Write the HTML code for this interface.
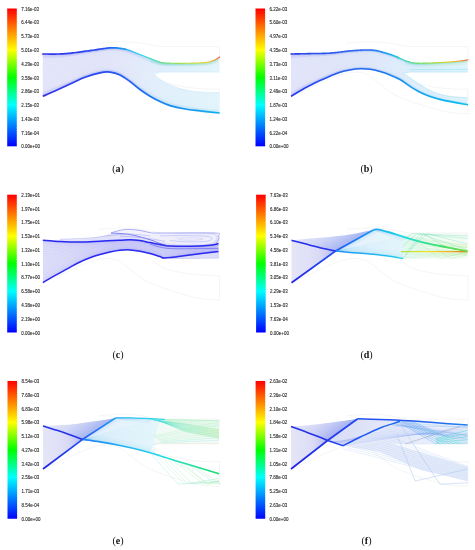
<!DOCTYPE html>
<html><head><meta charset="utf-8"><title>Figure</title>
<style>
html,body{margin:0;padding:0;background:#fff;width:475px;height:550px;overflow:hidden}
svg{display:block}
.lb{font-family:"Liberation Sans",Arial,sans-serif;font-size:4.5px;fill:#1a1a1a;stroke:#1a1a1a;stroke-width:0.08px}
.cap{font-family:"Liberation Serif","Times New Roman",serif;font-size:10px;fill:#111}
</style></head><body>
<svg width="475" height="550" viewBox="0 0 475 550">
<defs><linearGradient id="cb" x1="0" y1="0" x2="0" y2="1"><stop offset="0" stop-color="#ff0000"/><stop offset="0.3" stop-color="#ffff00"/><stop offset="0.5" stop-color="#00ff00"/><stop offset="0.7" stop-color="#00ffff"/><stop offset="1" stop-color="#0000ff"/></linearGradient><linearGradient id="g1" gradientUnits="userSpaceOnUse" x1="42.8" y1="0.0" x2="219.7" y2="0.0"><stop offset="0" stop-color="#e8e9f9"/><stop offset="0.45" stop-color="#e9ecf9"/><stop offset="0.7" stop-color="#e6f2fb"/><stop offset="1" stop-color="#e8f6fc"/></linearGradient><linearGradient id="g2" gradientUnits="userSpaceOnUse" x1="42.8" y1="0.0" x2="219.7" y2="0.0"><stop offset="0" stop-color="#3848e8"/><stop offset="0.45" stop-color="#3860ec"/><stop offset="0.7" stop-color="#40a8f0"/><stop offset="1" stop-color="#50c0f0"/></linearGradient><linearGradient id="g3" gradientUnits="userSpaceOnUse" x1="42.8" y1="0.0" x2="219.7" y2="0.0"><stop offset="0" stop-color="#3434ea"/><stop offset="0.2" stop-color="#2c40ee"/><stop offset="0.323" stop-color="#2a48f0"/><stop offset="0.408" stop-color="#2078f0"/><stop offset="0.476" stop-color="#20a8f0"/><stop offset="0.55" stop-color="#20d8e8"/><stop offset="0.634" stop-color="#40e0a8"/><stop offset="0.69" stop-color="#70e070"/><stop offset="0.86" stop-color="#d0e040"/><stop offset="0.93" stop-color="#f0d030"/><stop offset="0.97" stop-color="#f0a030"/><stop offset="1" stop-color="#f05030"/></linearGradient><linearGradient id="g4" gradientUnits="userSpaceOnUse" x1="150.0" y1="0.0" x2="219.7" y2="0.0"><stop offset="0" stop-color="#40d8d0"/><stop offset="0.4" stop-color="#60e080"/><stop offset="1" stop-color="#a0e060"/></linearGradient><linearGradient id="g5" gradientUnits="userSpaceOnUse" x1="42.8" y1="0.0" x2="219.7" y2="0.0"><stop offset="0" stop-color="#3434ea"/><stop offset="0.3" stop-color="#2a48f0"/><stop offset="0.5" stop-color="#2060f0"/><stop offset="0.7" stop-color="#1888f0"/><stop offset="1" stop-color="#10b0f0"/></linearGradient><linearGradient id="g6" gradientUnits="userSpaceOnUse" x1="291.0" y1="0.0" x2="468.0" y2="0.0"><stop offset="0" stop-color="#e7e9f9"/><stop offset="0.4" stop-color="#e8edfa"/><stop offset="0.7" stop-color="#e6f2fb"/><stop offset="1" stop-color="#e8f6fc"/></linearGradient><linearGradient id="g7" gradientUnits="userSpaceOnUse" x1="291.0" y1="0.0" x2="468.0" y2="0.0"><stop offset="0" stop-color="#3848e8"/><stop offset="0.3" stop-color="#3868ec"/><stop offset="0.6" stop-color="#4090f0"/><stop offset="0.75" stop-color="#40b0f0"/><stop offset="1" stop-color="#50c8f0"/></linearGradient><linearGradient id="g8" gradientUnits="userSpaceOnUse" x1="291.0" y1="0.0" x2="468.0" y2="0.0"><stop offset="0" stop-color="#2a3ee6"/><stop offset="0.277" stop-color="#3060f0"/><stop offset="0.446" stop-color="#3070f0"/><stop offset="0.52" stop-color="#2090f0"/><stop offset="0.588" stop-color="#20c0e0"/><stop offset="0.644" stop-color="#30e0a0"/><stop offset="0.684" stop-color="#50e070"/><stop offset="0.785" stop-color="#a0e040"/><stop offset="0.898" stop-color="#e8d020"/><stop offset="0.96" stop-color="#f0a030"/><stop offset="1" stop-color="#f06030"/></linearGradient><linearGradient id="g9" gradientUnits="userSpaceOnUse" x1="405.0" y1="0.0" x2="468.0" y2="0.0"><stop offset="0" stop-color="#40d8d0"/><stop offset="0.4" stop-color="#60e080"/><stop offset="1" stop-color="#a0e060"/></linearGradient><linearGradient id="g10" gradientUnits="userSpaceOnUse" x1="291.0" y1="0.0" x2="468.0" y2="0.0"><stop offset="0" stop-color="#2a36ee"/><stop offset="0.277" stop-color="#2860f0"/><stop offset="0.5" stop-color="#2070f0"/><stop offset="0.61" stop-color="#1890f0"/><stop offset="0.78" stop-color="#10a8f0"/><stop offset="1" stop-color="#10c0f0"/></linearGradient><linearGradient id="g11" gradientUnits="userSpaceOnUse" x1="42.9" y1="0.0" x2="218.5" y2="0.0"><stop offset="0" stop-color="#e2e2f9"/><stop offset="0.6" stop-color="#e0e0f9"/><stop offset="1" stop-color="#dcdcf8"/></linearGradient><linearGradient id="g12" x1="0" y1="0" x2="1" y2="0"><stop offset="0" stop-color="#e8e8f8"/><stop offset="0.6" stop-color="#e2e2f7"/><stop offset="1" stop-color="#ccd0f3"/></linearGradient><linearGradient id="g13" gradientUnits="userSpaceOnUse" x1="354.7" y1="240.4" x2="340.1" y2="214.2"><stop offset="0" stop-color="#a4b4f2"/><stop offset="0.25" stop-color="#bcc6f4"/><stop offset="0.6" stop-color="#d4d9f6"/><stop offset="1" stop-color="#e2e4f8"/></linearGradient><linearGradient id="g14" gradientUnits="userSpaceOnUse" x1="336.0" y1="0.0" x2="403.0" y2="0.0"><stop offset="0" stop-color="#e4effb"/><stop offset="1" stop-color="#e8f7fc"/></linearGradient><linearGradient id="g15" gradientUnits="userSpaceOnUse" x1="403.0" y1="0.0" x2="467.5" y2="0.0"><stop offset="0" stop-color="#70e8c0"/><stop offset="0.5" stop-color="#90e890"/><stop offset="1" stop-color="#a8e870"/></linearGradient><linearGradient id="g16" gradientUnits="userSpaceOnUse" x1="401.0" y1="0.0" x2="467.5" y2="0.0"><stop offset="0" stop-color="#b0e040"/><stop offset="0.4" stop-color="#f0e020"/><stop offset="0.8" stop-color="#f0a020"/><stop offset="1" stop-color="#e86010"/></linearGradient><linearGradient id="g17" gradientUnits="userSpaceOnUse" x1="291.5" y1="0.0" x2="374.0" y2="0.0"><stop offset="0" stop-color="#2222e8"/><stop offset="0.5" stop-color="#2050f0"/><stop offset="1" stop-color="#1aa0f4"/></linearGradient><linearGradient id="g18" gradientUnits="userSpaceOnUse" x1="374.0" y1="0.0" x2="467.5" y2="0.0"><stop offset="0" stop-color="#1aa8f4"/><stop offset="0.3" stop-color="#20d8e8"/><stop offset="0.5" stop-color="#30e0a0"/><stop offset="0.75" stop-color="#40e060"/><stop offset="1" stop-color="#70e040"/></linearGradient><linearGradient id="g19" gradientUnits="userSpaceOnUse" x1="336.0" y1="0.0" x2="403.0" y2="0.0"><stop offset="0" stop-color="#2090f4"/><stop offset="1" stop-color="#20d0f0"/></linearGradient><linearGradient id="g20" x1="0" y1="0" x2="1" y2="0"><stop offset="0" stop-color="#e8e8f8"/><stop offset="0.6" stop-color="#e2e2f7"/><stop offset="1" stop-color="#ccd0f3"/></linearGradient><linearGradient id="g21" gradientUnits="userSpaceOnUse" x1="99.2" y1="428.6" x2="82.8" y2="403.5"><stop offset="0" stop-color="#a4b4f2"/><stop offset="0.25" stop-color="#bcc6f4"/><stop offset="0.6" stop-color="#d4d9f6"/><stop offset="1" stop-color="#e2e4f8"/></linearGradient><linearGradient id="g22" gradientUnits="userSpaceOnUse" x1="83.0" y1="0.0" x2="160.0" y2="0.0"><stop offset="0" stop-color="#e4eefb"/><stop offset="1" stop-color="#e6f7fc"/></linearGradient><linearGradient id="g23" gradientUnits="userSpaceOnUse" x1="150.0" y1="0.0" x2="219.0" y2="0.0"><stop offset="0" stop-color="#30d8e8"/><stop offset="0.5" stop-color="#50e0a0"/><stop offset="1" stop-color="#80e070"/></linearGradient><linearGradient id="g24" gradientUnits="userSpaceOnUse" x1="150.0" y1="0.0" x2="219.0" y2="0.0"><stop offset="0" stop-color="#30d8e8"/><stop offset="0.5" stop-color="#50e0a0"/><stop offset="1" stop-color="#80e070"/></linearGradient><linearGradient id="g25" gradientUnits="userSpaceOnUse" x1="150.0" y1="0.0" x2="219.0" y2="0.0"><stop offset="0" stop-color="#30d8e8"/><stop offset="0.5" stop-color="#50e0a0"/><stop offset="1" stop-color="#80e070"/></linearGradient><linearGradient id="g26" gradientUnits="userSpaceOnUse" x1="150.0" y1="0.0" x2="219.0" y2="0.0"><stop offset="0" stop-color="#30d8e8"/><stop offset="0.5" stop-color="#50e0a0"/><stop offset="1" stop-color="#80e070"/></linearGradient><linearGradient id="g27" gradientUnits="userSpaceOnUse" x1="150.0" y1="0.0" x2="219.0" y2="0.0"><stop offset="0" stop-color="#30d8e8"/><stop offset="0.5" stop-color="#50e0a0"/><stop offset="1" stop-color="#80e070"/></linearGradient><linearGradient id="g28" gradientUnits="userSpaceOnUse" x1="150.0" y1="0.0" x2="219.0" y2="0.0"><stop offset="0" stop-color="#30d8e8"/><stop offset="0.5" stop-color="#50e0a0"/><stop offset="1" stop-color="#80e070"/></linearGradient><linearGradient id="g29" gradientUnits="userSpaceOnUse" x1="150.0" y1="0.0" x2="219.0" y2="0.0"><stop offset="0" stop-color="#30d8e8"/><stop offset="0.5" stop-color="#50e0a0"/><stop offset="1" stop-color="#80e070"/></linearGradient><linearGradient id="g30" gradientUnits="userSpaceOnUse" x1="150.0" y1="0.0" x2="219.0" y2="0.0"><stop offset="0" stop-color="#30d8e8"/><stop offset="0.5" stop-color="#50e0a0"/><stop offset="1" stop-color="#80e070"/></linearGradient><linearGradient id="g31" gradientUnits="userSpaceOnUse" x1="150.0" y1="0.0" x2="219.0" y2="0.0"><stop offset="0" stop-color="#30d8e8"/><stop offset="0.5" stop-color="#50e0a0"/><stop offset="1" stop-color="#80e070"/></linearGradient><linearGradient id="g32" gradientUnits="userSpaceOnUse" x1="43.0" y1="0.0" x2="116.0" y2="0.0"><stop offset="0" stop-color="#2222e8"/><stop offset="0.55" stop-color="#2050f0"/><stop offset="1" stop-color="#1aa0f4"/></linearGradient><linearGradient id="g33" gradientUnits="userSpaceOnUse" x1="116.0" y1="0.0" x2="165.0" y2="0.0"><stop offset="0" stop-color="#1aa8f4"/><stop offset="0.6" stop-color="#20d0f0"/><stop offset="1" stop-color="#40e0e0"/></linearGradient><linearGradient id="g34" gradientUnits="userSpaceOnUse" x1="83.0" y1="0.0" x2="219.0" y2="0.0"><stop offset="0" stop-color="#2080f4"/><stop offset="0.3" stop-color="#20b0f4"/><stop offset="0.55" stop-color="#20d8e8"/><stop offset="0.8" stop-color="#20e0a0"/><stop offset="1" stop-color="#10e070"/></linearGradient><linearGradient id="g35" x1="0" y1="0" x2="1" y2="0"><stop offset="0" stop-color="#e8e8f8"/><stop offset="0.6" stop-color="#e2e2f7"/><stop offset="1" stop-color="#ccd0f3"/></linearGradient><linearGradient id="g36" gradientUnits="userSpaceOnUse" x1="342.6" y1="429.6" x2="325.0" y2="405.3"><stop offset="0" stop-color="#a4b0f2"/><stop offset="0.25" stop-color="#bcc4f4"/><stop offset="0.6" stop-color="#d4d8f6"/><stop offset="1" stop-color="#e2e4f8"/></linearGradient><linearGradient id="g37" gradientUnits="userSpaceOnUse" x1="330.0" y1="0.0" x2="400.0" y2="0.0"><stop offset="0" stop-color="#d8dcf6"/><stop offset="1" stop-color="#e6eafa"/></linearGradient><linearGradient id="g38" gradientUnits="userSpaceOnUse" x1="343.0" y1="0.0" x2="467.0" y2="0.0"><stop offset="0" stop-color="#e4e8fa"/><stop offset="1" stop-color="#eaf0fc"/></linearGradient><linearGradient id="g39" gradientUnits="userSpaceOnUse" x1="343.0" y1="0.0" x2="467.0" y2="0.0"><stop offset="0" stop-color="#e6eafa"/><stop offset="1" stop-color="#e8f0fb"/></linearGradient><linearGradient id="g40" gradientUnits="userSpaceOnUse" x1="396.0" y1="0.0" x2="467.0" y2="0.0"><stop offset="0" stop-color="#4080f0"/><stop offset="1" stop-color="#40c8e8"/></linearGradient><linearGradient id="g41" gradientUnits="userSpaceOnUse" x1="396.0" y1="0.0" x2="467.0" y2="0.0"><stop offset="0" stop-color="#4080f0"/><stop offset="1" stop-color="#40c8e8"/></linearGradient><linearGradient id="g42" gradientUnits="userSpaceOnUse" x1="396.0" y1="0.0" x2="467.0" y2="0.0"><stop offset="0" stop-color="#4080f0"/><stop offset="1" stop-color="#40c8e8"/></linearGradient><linearGradient id="g43" gradientUnits="userSpaceOnUse" x1="396.0" y1="0.0" x2="467.0" y2="0.0"><stop offset="0" stop-color="#4080f0"/><stop offset="1" stop-color="#40c8e8"/></linearGradient><linearGradient id="g44" gradientUnits="userSpaceOnUse" x1="396.0" y1="0.0" x2="467.0" y2="0.0"><stop offset="0" stop-color="#4080f0"/><stop offset="1" stop-color="#40c8e8"/></linearGradient><linearGradient id="g45" gradientUnits="userSpaceOnUse" x1="396.0" y1="0.0" x2="467.0" y2="0.0"><stop offset="0" stop-color="#4080f0"/><stop offset="1" stop-color="#40c8e8"/></linearGradient><linearGradient id="g46" gradientUnits="userSpaceOnUse" x1="396.0" y1="0.0" x2="467.0" y2="0.0"><stop offset="0" stop-color="#4080f0"/><stop offset="1" stop-color="#40c8e8"/></linearGradient><linearGradient id="g47" gradientUnits="userSpaceOnUse" x1="291.0" y1="0.0" x2="358.0" y2="0.0"><stop offset="0" stop-color="#2222e8"/><stop offset="1" stop-color="#2448f0"/></linearGradient><linearGradient id="g48" gradientUnits="userSpaceOnUse" x1="358.0" y1="0.0" x2="467.0" y2="0.0"><stop offset="0" stop-color="#2050f0"/><stop offset="0.5" stop-color="#2058f0"/><stop offset="1" stop-color="#2080f0"/></linearGradient><linearGradient id="g49" gradientUnits="userSpaceOnUse" x1="328.0" y1="0.0" x2="400.0" y2="0.0"><stop offset="0" stop-color="#2040f0"/><stop offset="1" stop-color="#2070f0"/></linearGradient><filter id="bl" x="-5%" y="-5%" width="110%" height="110%"><feGaussianBlur stdDeviation="0.3"/></filter><filter id="tb" x="-5%" y="-5%" width="110%" height="110%"><feGaussianBlur stdDeviation="0.22"/></filter></defs>
<g filter="url(#bl)">
<rect x="7.20" y="8.50" width="9.6" height="137.8" fill="url(#cb)"/>
<rect x="255.50" y="8.50" width="9.6" height="137.8" fill="url(#cb)"/>
<rect x="7.20" y="194.70" width="9.6" height="137.8" fill="url(#cb)"/>
<rect x="256.10" y="194.70" width="9.6" height="137.8" fill="url(#cb)"/>
<rect x="7.50" y="380.95" width="9.6" height="137.8" fill="url(#cb)"/>
<rect x="255.60" y="380.95" width="9.6" height="137.8" fill="url(#cb)"/>
<path d="M42.80,96.30 C44.83,95.42 50.47,93.05 55.00,91.00 C59.53,88.95 65.00,86.28 70.00,84.00 C75.00,81.72 80.00,79.17 85.00,77.30 C90.00,75.43 95.83,73.63 100.00,72.80 C104.17,71.97 106.67,71.90 110.00,72.30 C113.33,72.70 116.67,73.42 120.00,75.20 C123.33,76.98 125.83,79.87 130.00,83.00 C134.17,86.13 140.00,91.08 145.00,94.00 C150.00,96.92 154.17,98.32 160.00,100.50 C165.83,102.68 173.33,105.15 180.00,107.10 C186.67,109.05 193.42,111.10 200.00,112.20 C206.58,113.30 216.25,113.45 219.50,113.70" fill="none" stroke="#ebebeb" stroke-width="0.5"/>
<path d="M152.00,74.20 C152.83,74.75 154.83,76.18 157.00,77.50 C159.17,78.82 161.17,80.67 165.00,82.10 C168.83,83.53 174.17,85.00 180.00,86.10 C185.83,87.20 193.42,88.18 200.00,88.70 C206.58,89.22 216.25,89.12 219.50,89.20 L219.50,113.70" fill="none" stroke="#ebebeb" stroke-width="0.5"/>
<path d="M98.00,43.20 C101.67,42.95 113.00,41.75 120.00,41.70 C127.00,41.65 135.00,42.38 140.00,42.90 C145.00,43.42 146.67,44.22 150.00,44.80 C153.33,45.38 156.67,46.10 160.00,46.40 C163.33,46.70 160.08,46.57 170.00,46.60 C179.92,46.63 211.25,46.60 219.50,46.60 L219.50,57.00" fill="none" stroke="#ebebeb" stroke-width="0.5"/>
<path d="M42.80,54.00 C46.50,53.95 57.13,54.27 65.00,53.70 C72.87,53.13 82.50,51.57 90.00,50.60 C97.50,49.63 104.67,48.23 110.00,47.90 C115.33,47.57 118.67,48.15 122.00,48.60 C125.33,49.05 127.00,49.62 130.00,50.60 C133.00,51.58 136.67,53.20 140.00,54.50 C143.33,55.80 147.00,57.23 150.00,58.40 C153.00,59.57 155.50,60.73 158.00,61.50 C160.50,62.27 160.50,62.70 165.00,63.00 C169.50,63.30 178.33,63.38 185.00,63.30 C191.67,63.22 200.17,63.00 205.00,62.50 C209.83,62.00 211.55,61.22 214.00,60.30 C216.45,59.38 218.75,57.55 219.70,57.00 L219.7,72.1 L160,72.1 L154,74.3 L154.00,74.30 C154.50,74.75 155.67,75.92 157.00,77.00 C158.33,78.08 159.83,79.47 162.00,80.80 C164.17,82.13 167.00,83.70 170.00,85.00 C173.00,86.30 176.67,87.63 180.00,88.60 C183.33,89.57 186.67,90.25 190.00,90.80 C193.33,91.35 195.05,91.57 200.00,91.90 C204.95,92.23 216.42,92.65 219.70,92.80 L219.7,113 L219.70,113.00 C216.42,112.65 205.78,111.57 200.00,110.90 C194.22,110.23 190.00,109.88 185.00,109.00 C180.00,108.12 174.17,106.85 170.00,105.60 C165.83,104.35 163.33,103.07 160.00,101.50 C156.67,99.93 153.33,98.20 150.00,96.20 C146.67,94.20 143.33,91.95 140.00,89.50 C136.67,87.05 133.33,83.92 130.00,81.50 C126.67,79.08 123.33,76.57 120.00,75.00 C116.67,73.43 113.33,72.47 110.00,72.10 C106.67,71.73 104.17,71.93 100.00,72.80 C95.83,73.67 90.00,75.43 85.00,77.30 C80.00,79.17 75.00,81.72 70.00,84.00 C65.00,86.28 59.53,88.95 55.00,91.00 C50.47,93.05 44.83,95.42 42.80,96.30 Z" fill="url(#g1)" stroke="none" stroke-width="1.0"/>
<path d="M42.80,54.02 L44.80,54.02 L46.80,54.03 L48.80,54.05 L50.80,54.06 L52.80,54.06 L54.80,54.05 L56.80,54.03 L58.80,53.99 L60.80,53.93 L62.80,53.85 L64.80,53.73 L66.80,53.57 L68.80,53.38 L70.80,53.17 L72.80,52.93 L74.80,52.69 L76.80,52.42 L78.80,52.15 L80.80,51.88 L82.80,51.60 L84.80,51.32 L86.80,51.04 L88.80,50.77 L90.80,50.50 L92.80,50.23 L94.80,49.94 L96.80,49.64 L98.80,49.33 L100.80,49.03 L102.80,48.73 L104.80,48.45 L106.80,48.21 L108.80,48.00 L110.80,47.87 L112.80,47.82 L114.80,47.85 L116.80,47.97 L118.80,48.18 L120.80,48.45 L122.80,48.73 L124.80,49.10 L126.80,49.60 L128.80,50.22 L130.80,50.89 L132.80,51.63 L134.80,52.42 L136.80,53.23 L138.80,54.04 L140.80,54.83 L142.80,55.61 L144.80,56.39 L146.80,57.17 L148.80,57.95 L150.80,58.73 L152.80,59.55 L154.80,60.36 L156.80,61.12 L158.80,61.78 L160.80,62.45 L162.80,62.81 L164.80,63.00 L166.80,63.11 L168.80,63.19 L170.80,63.24 L172.80,63.28 L174.80,63.31 L176.80,63.33 L178.80,63.34 L180.80,63.34 L182.80,63.33 L184.80,63.31 L186.80,63.29 L188.80,63.25 L190.80,63.21 L192.80,63.16 L194.80,63.10 L196.80,63.02 L198.80,62.94 L200.80,62.83 L202.80,62.70 L204.80,62.53 L206.80,62.29 L208.80,61.95 L210.80,61.45 L212.80,60.77 L214.80,59.98 L216.80,58.91 L218.80,57.61" fill="none" stroke="url(#g2)" stroke-width="0.3" opacity="0.15"/>
<path d="M42.80,54.18 L44.80,54.18 L46.80,54.19 L48.80,54.20 L50.80,54.21 L52.80,54.20 L54.80,54.19 L56.80,54.17 L58.80,54.13 L60.80,54.07 L62.80,53.98 L64.80,53.85 L66.80,53.69 L68.80,53.50 L70.80,53.28 L72.80,53.05 L74.80,52.80 L76.80,52.53 L78.80,52.26 L80.80,51.98 L82.80,51.70 L84.80,51.42 L86.80,51.14 L88.80,50.87 L90.80,50.60 L92.80,50.32 L94.80,50.03 L96.80,49.73 L98.80,49.42 L100.80,49.12 L102.80,48.82 L104.80,48.54 L106.80,48.30 L108.80,48.09 L110.80,47.96 L112.80,47.91 L114.80,47.94 L116.80,48.07 L118.80,48.28 L120.80,48.55 L122.80,48.83 L124.80,49.20 L126.80,49.71 L128.80,50.34 L130.80,51.01 L132.80,51.75 L134.80,52.54 L136.80,53.36 L138.80,54.17 L140.80,54.96 L142.80,55.75 L144.80,56.53 L146.80,57.31 L148.80,58.09 L150.80,58.88 L152.80,59.69 L154.80,60.48 L156.80,61.23 L158.80,61.88 L160.80,62.55 L162.80,62.91 L164.80,63.09 L166.80,63.20 L168.80,63.28 L170.80,63.33 L172.80,63.37 L174.80,63.40 L176.80,63.42 L178.80,63.43 L180.80,63.43 L182.80,63.42 L184.80,63.40 L186.80,63.38 L188.80,63.34 L190.80,63.30 L192.80,63.25 L194.80,63.19 L196.80,63.12 L198.80,63.03 L200.80,62.93 L202.80,62.80 L204.80,62.63 L206.80,62.39 L208.80,62.05 L210.80,61.56 L212.80,60.88 L214.80,60.10 L216.80,59.05 L218.80,57.75" fill="none" stroke="url(#g2)" stroke-width="0.3" opacity="0.15"/>
<path d="M42.80,54.50 L44.80,54.49 L46.80,54.49 L48.80,54.50 L50.80,54.50 L52.80,54.49 L54.80,54.47 L56.80,54.44 L58.80,54.39 L60.80,54.33 L62.80,54.23 L64.80,54.10 L66.80,53.93 L68.80,53.74 L70.80,53.51 L72.80,53.27 L74.80,53.02 L76.80,52.75 L78.80,52.47 L80.80,52.19 L82.80,51.90 L84.80,51.61 L86.80,51.33 L88.80,51.06 L90.80,50.79 L92.80,50.51 L94.80,50.21 L96.80,49.91 L98.80,49.60 L100.80,49.29 L102.80,49.00 L104.80,48.72 L106.80,48.48 L108.80,48.28 L110.80,48.15 L112.80,48.10 L114.80,48.14 L116.80,48.27 L118.80,48.48 L120.80,48.75 L122.80,49.04 L124.80,49.42 L126.80,49.94 L128.80,50.57 L130.80,51.24 L132.80,51.99 L134.80,52.79 L136.80,53.61 L138.80,54.43 L140.80,55.23 L142.80,56.02 L144.80,56.81 L146.80,57.59 L148.80,58.38 L150.80,59.17 L152.80,59.98 L154.80,60.72 L156.80,61.45 L158.80,62.09 L160.80,62.75 L162.80,63.10 L164.80,63.28 L166.80,63.38 L168.80,63.46 L170.80,63.51 L172.80,63.55 L174.80,63.58 L176.80,63.60 L178.80,63.61 L180.80,63.61 L182.80,63.60 L184.80,63.58 L186.80,63.56 L188.80,63.52 L190.80,63.48 L192.80,63.43 L194.80,63.37 L196.80,63.30 L198.80,63.22 L200.80,63.12 L202.80,62.99 L204.80,62.82 L206.80,62.59 L208.80,62.26 L210.80,61.78 L212.80,61.12 L214.80,60.35 L216.80,59.32 L218.80,58.05" fill="none" stroke="url(#g2)" stroke-width="0.3" opacity="0.15"/>
<path d="M42.80,54.98 L44.80,54.96 L46.80,54.95 L48.80,54.95 L50.80,54.94 L52.80,54.92 L54.80,54.89 L56.80,54.85 L58.80,54.79 L60.80,54.71 L62.80,54.61 L64.80,54.47 L66.80,54.29 L68.80,54.09 L70.80,53.86 L72.80,53.61 L74.80,53.34 L76.80,53.07 L78.80,52.78 L80.80,52.49 L82.80,52.20 L84.80,51.91 L86.80,51.62 L88.80,51.34 L90.80,51.07 L92.80,50.78 L94.80,50.49 L96.80,50.18 L98.80,49.87 L100.80,49.56 L102.80,49.26 L104.80,48.99 L106.80,48.74 L108.80,48.55 L110.80,48.42 L112.80,48.38 L114.80,48.42 L116.80,48.56 L118.80,48.78 L120.80,49.06 L122.80,49.36 L124.80,49.75 L126.80,50.27 L128.80,50.91 L130.80,51.59 L132.80,52.35 L134.80,53.16 L136.80,54.00 L138.80,54.82 L140.80,55.63 L142.80,56.42 L144.80,57.22 L146.80,58.01 L148.80,58.80 L150.80,59.59 L152.80,60.42 L154.80,61.08 L156.80,61.79 L158.80,62.41 L160.80,63.04 L162.80,63.38 L164.80,63.55 L166.80,63.66 L168.80,63.73 L170.80,63.78 L172.80,63.82 L174.80,63.85 L176.80,63.87 L178.80,63.88 L180.80,63.88 L182.80,63.87 L184.80,63.85 L186.80,63.82 L188.80,63.79 L190.80,63.75 L192.80,63.70 L194.80,63.65 L196.80,63.58 L198.80,63.50 L200.80,63.40 L202.80,63.28 L204.80,63.12 L206.80,62.89 L208.80,62.57 L210.80,62.10 L212.80,61.46 L214.80,60.72 L216.80,59.72 L218.80,58.49" fill="none" stroke="url(#g2)" stroke-width="0.3" opacity="0.15"/>
<path d="M42.80,55.61 L44.80,55.58 L46.80,55.56 L48.80,55.54 L50.80,55.52 L52.80,55.49 L54.80,55.45 L56.80,55.39 L58.80,55.32 L60.80,55.23 L62.80,55.11 L64.80,54.96 L66.80,54.77 L68.80,54.55 L70.80,54.31 L72.80,54.05 L74.80,53.78 L76.80,53.49 L78.80,53.20 L80.80,52.90 L82.80,52.60 L84.80,52.30 L86.80,52.00 L88.80,51.72 L90.80,51.44 L92.80,51.15 L94.80,50.85 L96.80,50.54 L98.80,50.22 L100.80,49.91 L102.80,49.62 L104.80,49.34 L106.80,49.10 L108.80,48.91 L110.80,48.79 L112.80,48.75 L114.80,48.80 L116.80,48.94 L118.80,49.17 L120.80,49.46 L122.80,49.77 L124.80,50.17 L126.80,50.71 L128.80,51.37 L130.80,52.06 L132.80,52.83 L134.80,53.65 L136.80,54.50 L138.80,55.34 L140.80,56.15 L142.80,56.96 L144.80,57.76 L146.80,58.56 L148.80,59.36 L150.80,60.16 L152.80,60.99 L154.80,61.55 L156.80,62.23 L158.80,62.82 L160.80,63.43 L162.80,63.75 L164.80,63.92 L166.80,64.02 L168.80,64.09 L170.80,64.14 L172.80,64.18 L174.80,64.20 L176.80,64.22 L178.80,64.23 L180.80,64.23 L182.80,64.22 L184.80,64.20 L186.80,64.18 L188.80,64.15 L190.80,64.11 L192.80,64.06 L194.80,64.01 L196.80,63.94 L198.80,63.87 L200.80,63.77 L202.80,63.65 L204.80,63.50 L206.80,63.29 L208.80,62.98 L210.80,62.53 L212.80,61.92 L214.80,61.21 L216.80,60.25 L218.80,59.07" fill="none" stroke="url(#g2)" stroke-width="0.3" opacity="0.15"/>
<path d="M42.80,56.39 L44.80,56.34 L46.80,56.30 L48.80,56.27 L50.80,56.23 L52.80,56.19 L54.80,56.13 L56.80,56.06 L58.80,55.97 L60.80,55.86 L62.80,55.73 L64.80,55.56 L66.80,55.36 L68.80,55.13 L70.80,54.87 L72.80,54.60 L74.80,54.31 L76.80,54.02 L78.80,53.71 L80.80,53.40 L82.80,53.09 L84.80,52.78 L86.80,52.48 L88.80,52.18 L90.80,51.89 L92.80,51.60 L94.80,51.29 L96.80,50.98 L98.80,50.66 L100.80,50.35 L102.80,50.05 L104.80,49.78 L106.80,49.54 L108.80,49.35 L110.80,49.23 L112.80,49.20 L114.80,49.26 L116.80,49.41 L118.80,49.66 L120.80,49.96 L122.80,50.29 L124.80,50.70 L126.80,51.26 L128.80,51.93 L130.80,52.64 L132.80,53.42 L134.80,54.26 L136.80,55.12 L138.80,55.98 L140.80,56.80 L142.80,57.62 L144.80,58.44 L146.80,59.25 L148.80,60.05 L150.80,60.86 L152.80,61.69 L154.80,62.14 L156.80,62.78 L158.80,63.33 L160.80,63.91 L162.80,64.22 L164.80,64.37 L166.80,64.47 L168.80,64.53 L170.80,64.58 L172.80,64.62 L174.80,64.64 L176.80,64.66 L178.80,64.66 L180.80,64.66 L182.80,64.66 L184.80,64.64 L186.80,64.62 L188.80,64.59 L190.80,64.55 L192.80,64.51 L194.80,64.46 L196.80,64.40 L198.80,64.32 L200.80,64.23 L202.80,64.12 L204.80,63.98 L206.80,63.77 L208.80,63.48 L210.80,63.06 L212.80,62.48 L214.80,61.81 L216.80,60.90 L218.80,59.80" fill="none" stroke="url(#g2)" stroke-width="0.3" opacity="0.15"/>
<path d="M42.80,57.31 L44.80,57.24 L46.80,57.19 L48.80,57.14 L50.80,57.08 L52.80,57.01 L54.80,56.94 L56.80,56.85 L58.80,56.74 L60.80,56.61 L62.80,56.46 L64.80,56.27 L66.80,56.05 L68.80,55.81 L70.80,55.54 L72.80,55.25 L74.80,54.95 L76.80,54.64 L78.80,54.31 L80.80,53.99 L82.80,53.67 L84.80,53.35 L86.80,53.03 L88.80,52.73 L90.80,52.44 L92.80,52.13 L94.80,51.82 L96.80,51.50 L98.80,51.18 L100.80,50.86 L102.80,50.56 L104.80,50.29 L106.80,50.05 L108.80,49.87 L110.80,49.77 L112.80,49.74 L114.80,49.81 L116.80,49.97 L118.80,50.23 L120.80,50.55 L122.80,50.89 L124.80,51.33 L126.80,51.91 L128.80,52.59 L130.80,53.32 L132.80,54.12 L134.80,54.98 L136.80,55.86 L138.80,56.73 L140.80,57.57 L142.80,58.40 L144.80,59.23 L146.80,60.05 L148.80,60.87 L150.80,61.69 L152.80,62.53 L154.80,62.83 L156.80,63.42 L158.80,63.94 L160.80,64.48 L162.80,64.76 L164.80,64.91 L166.80,65.00 L168.80,65.06 L170.80,65.10 L172.80,65.13 L174.80,65.16 L176.80,65.17 L178.80,65.18 L180.80,65.18 L182.80,65.17 L184.80,65.16 L186.80,65.14 L188.80,65.11 L190.80,65.07 L192.80,65.03 L194.80,64.99 L196.80,64.93 L198.80,64.86 L200.80,64.78 L202.80,64.67 L204.80,64.54 L206.80,64.35 L208.80,64.08 L210.80,63.69 L212.80,63.15 L214.80,62.52 L216.80,61.68 L218.80,60.65" fill="none" stroke="url(#g2)" stroke-width="0.3" opacity="0.15"/>
<path d="M42.80,58.37 L44.80,58.28 L46.80,58.20 L48.80,58.13 L50.80,58.05 L52.80,57.96 L54.80,57.86 L56.80,57.75 L58.80,57.62 L60.80,57.47 L62.80,57.30 L64.80,57.09 L66.80,56.85 L68.80,56.59 L70.80,56.30 L72.80,56.00 L74.80,55.68 L76.80,55.35 L78.80,55.01 L80.80,54.67 L82.80,54.33 L84.80,54.00 L86.80,53.68 L88.80,53.36 L90.80,53.06 L92.80,52.75 L94.80,52.42 L96.80,52.10 L98.80,51.77 L100.80,51.46 L102.80,51.15 L104.80,50.88 L106.80,50.65 L108.80,50.47 L110.80,50.37 L112.80,50.36 L114.80,50.44 L116.80,50.62 L118.80,50.89 L120.80,51.22 L122.80,51.59 L124.80,52.05 L126.80,52.65 L128.80,53.35 L130.80,54.10 L132.80,54.92 L134.80,55.80 L136.80,56.70 L138.80,57.60 L140.80,58.46 L142.80,59.30 L144.80,60.15 L146.80,60.98 L148.80,61.81 L150.80,62.64 L152.80,63.49 L154.80,63.62 L156.80,64.16 L158.80,64.64 L160.80,65.13 L162.80,65.39 L164.80,65.52 L166.80,65.60 L168.80,65.66 L170.80,65.70 L172.80,65.73 L174.80,65.75 L176.80,65.76 L178.80,65.77 L180.80,65.77 L182.80,65.76 L184.80,65.75 L186.80,65.73 L188.80,65.71 L190.80,65.67 L192.80,65.64 L194.80,65.59 L196.80,65.54 L198.80,65.48 L200.80,65.40 L202.80,65.31 L204.80,65.19 L206.80,65.01 L208.80,64.77 L210.80,64.40 L212.80,63.91 L214.80,63.34 L216.80,62.57 L218.80,61.63" fill="none" stroke="url(#g2)" stroke-width="0.3" opacity="0.15"/>
<path d="M42.80,59.56 L44.80,59.44 L46.80,59.34 L48.80,59.24 L50.80,59.14 L52.80,59.03 L54.80,58.90 L56.80,58.76 L58.80,58.61 L60.80,58.44 L62.80,58.24 L64.80,58.01 L66.80,57.75 L68.80,57.46 L70.80,57.16 L72.80,56.83 L74.80,56.49 L76.80,56.14 L78.80,55.79 L80.80,55.43 L82.80,55.08 L84.80,54.73 L86.80,54.39 L88.80,54.07 L90.80,53.75 L92.80,53.43 L94.80,53.10 L96.80,52.77 L98.80,52.44 L100.80,52.12 L102.80,51.81 L104.80,51.54 L106.80,51.31 L108.80,51.14 L110.80,51.06 L112.80,51.06 L114.80,51.15 L116.80,51.34 L118.80,51.62 L120.80,51.98 L122.80,52.37 L124.80,52.85 L126.80,53.48 L128.80,54.20 L130.80,54.97 L132.80,55.82 L134.80,56.73 L136.80,57.65 L138.80,58.56 L140.80,59.45 L142.80,60.31 L144.80,61.17 L146.80,62.02 L148.80,62.86 L150.80,63.70 L152.80,64.56 L154.80,64.51 L156.80,64.99 L158.80,65.42 L160.80,65.86 L162.80,66.09 L164.80,66.21 L166.80,66.28 L168.80,66.33 L170.80,66.37 L172.80,66.40 L174.80,66.41 L176.80,66.43 L178.80,66.43 L180.80,66.43 L182.80,66.43 L184.80,66.41 L186.80,66.40 L188.80,66.37 L190.80,66.35 L192.80,66.31 L194.80,66.28 L196.80,66.23 L198.80,66.17 L200.80,66.11 L202.80,66.02 L204.80,65.91 L206.80,65.75 L208.80,65.53 L210.80,65.21 L212.80,64.77 L214.80,64.26 L216.80,63.57 L218.80,62.72" fill="none" stroke="url(#g2)" stroke-width="0.3" opacity="0.15"/>
<path d="M42.80,60.86 L44.80,60.72 L46.80,60.59 L48.80,60.47 L50.80,60.34 L52.80,60.20 L54.80,60.05 L56.80,59.88 L58.80,59.70 L60.80,59.50 L62.80,59.27 L64.80,59.02 L66.80,58.73 L68.80,58.42 L70.80,58.10 L72.80,57.75 L74.80,57.39 L76.80,57.02 L78.80,56.64 L80.80,56.27 L82.80,55.90 L84.80,55.53 L86.80,55.18 L88.80,54.85 L90.80,54.52 L92.80,54.19 L94.80,53.85 L96.80,53.51 L98.80,53.17 L100.80,52.85 L102.80,52.54 L104.80,52.27 L106.80,52.04 L108.80,51.88 L110.80,51.81 L112.80,51.82 L114.80,51.93 L116.80,52.13 L118.80,52.44 L120.80,52.81 L122.80,53.23 L124.80,53.74 L126.80,54.39 L128.80,55.14 L130.80,55.94 L132.80,56.81 L134.80,57.74 L136.80,58.69 L138.80,59.63 L140.80,60.53 L142.80,61.42 L144.80,62.30 L146.80,63.16 L148.80,64.02 L150.80,64.87 L152.80,65.74 L154.80,65.48 L156.80,65.91 L158.80,66.28 L160.80,66.66 L162.80,66.86 L164.80,66.97 L166.80,67.03 L168.80,67.07 L170.80,67.11 L172.80,67.13 L174.80,67.14 L176.80,67.16 L178.80,67.16 L180.80,67.16 L182.80,67.16 L184.80,67.15 L186.80,67.13 L188.80,67.11 L190.80,67.09 L192.80,67.06 L194.80,67.02 L196.80,66.98 L198.80,66.93 L200.80,66.88 L202.80,66.80 L204.80,66.70 L206.80,66.57 L208.80,66.38 L210.80,66.10 L212.80,65.71 L214.80,65.27 L216.80,64.66 L218.80,63.93" fill="none" stroke="url(#g2)" stroke-width="0.3" opacity="0.15"/>
<path d="M42.80,62.27 L44.80,62.11 L46.80,61.95 L48.80,61.79 L50.80,61.63 L52.80,61.46 L54.80,61.28 L56.80,61.09 L58.80,60.88 L60.80,60.65 L62.80,60.39 L64.80,60.11 L66.80,59.80 L68.80,59.47 L70.80,59.11 L72.80,58.75 L74.80,58.36 L76.80,57.97 L78.80,57.57 L80.80,57.18 L82.80,56.79 L84.80,56.41 L86.80,56.04 L88.80,55.69 L90.80,55.35 L92.80,55.00 L94.80,54.66 L96.80,54.31 L98.80,53.96 L100.80,53.64 L102.80,53.33 L104.80,53.06 L106.80,52.84 L108.80,52.69 L110.80,52.62 L112.80,52.65 L114.80,52.77 L116.80,52.99 L118.80,53.31 L120.80,53.71 L122.80,54.15 L124.80,54.70 L126.80,55.38 L128.80,56.16 L130.80,56.98 L132.80,57.88 L134.80,58.84 L136.80,59.82 L138.80,60.79 L140.80,61.71 L142.80,62.62 L144.80,63.52 L146.80,64.40 L148.80,65.28 L150.80,66.14 L152.80,67.02 L154.80,66.54 L156.80,66.90 L158.80,67.21 L160.80,67.53 L162.80,67.70 L164.80,67.79 L166.80,67.84 L168.80,67.88 L170.80,67.90 L172.80,67.92 L174.80,67.94 L176.80,67.95 L178.80,67.95 L180.80,67.95 L182.80,67.95 L184.80,67.94 L186.80,67.92 L188.80,67.91 L190.80,67.89 L192.80,67.86 L194.80,67.84 L196.80,67.80 L198.80,67.76 L200.80,67.71 L202.80,67.65 L204.80,67.57 L206.80,67.45 L208.80,67.29 L210.80,67.06 L212.80,66.73 L214.80,66.36 L216.80,65.85 L218.80,65.23" fill="none" stroke="url(#g2)" stroke-width="0.3" opacity="0.15"/>
<path d="M42.80,63.79 L44.80,63.59 L46.80,63.40 L48.80,63.21 L50.80,63.02 L52.80,62.82 L54.80,62.61 L56.80,62.38 L58.80,62.14 L60.80,61.87 L62.80,61.59 L64.80,61.28 L66.80,60.94 L68.80,60.58 L70.80,60.20 L72.80,59.81 L74.80,59.40 L76.80,58.98 L78.80,58.56 L80.80,58.15 L82.80,57.73 L84.80,57.34 L86.80,56.96 L88.80,56.59 L90.80,56.23 L92.80,55.88 L94.80,55.52 L96.80,55.16 L98.80,54.81 L100.80,54.48 L102.80,54.17 L104.80,53.90 L106.80,53.68 L108.80,53.54 L110.80,53.49 L112.80,53.53 L114.80,53.67 L116.80,53.91 L118.80,54.25 L120.80,54.67 L122.80,55.15 L124.80,55.73 L126.80,56.43 L128.80,57.25 L130.80,58.09 L132.80,59.03 L134.80,60.02 L136.80,61.03 L138.80,62.02 L140.80,62.97 L142.80,63.90 L144.80,64.82 L146.80,65.73 L148.80,66.62 L150.80,67.50 L152.80,68.39 L154.80,67.67 L156.80,67.96 L158.80,68.20 L160.80,68.46 L162.80,68.60 L164.80,68.66 L166.80,68.71 L168.80,68.74 L170.80,68.76 L172.80,68.77 L174.80,68.78 L176.80,68.79 L178.80,68.79 L180.80,68.79 L182.80,68.79 L184.80,68.78 L186.80,68.77 L188.80,68.76 L190.80,68.74 L192.80,68.73 L194.80,68.70 L196.80,68.68 L198.80,68.64 L200.80,68.60 L202.80,68.55 L204.80,68.49 L206.80,68.40 L208.80,68.27 L210.80,68.08 L212.80,67.82 L214.80,67.53 L216.80,67.12 L218.80,66.63" fill="none" stroke="url(#g2)" stroke-width="0.3" opacity="0.15"/>
<path d="M42.80,65.38 L44.80,65.15 L46.80,64.93 L48.80,64.71 L50.80,64.49 L52.80,64.25 L54.80,64.01 L56.80,63.75 L58.80,63.47 L60.80,63.17 L62.80,62.86 L64.80,62.51 L66.80,62.15 L68.80,61.76 L70.80,61.36 L72.80,60.93 L74.80,60.50 L76.80,60.06 L78.80,59.61 L80.80,59.17 L82.80,58.74 L84.80,58.32 L86.80,57.92 L88.80,57.54 L90.80,57.17 L92.80,56.80 L94.80,56.43 L96.80,56.07 L98.80,55.71 L100.80,55.37 L102.80,55.06 L104.80,54.79 L106.80,54.58 L108.80,54.45 L110.80,54.41 L112.80,54.47 L114.80,54.62 L116.80,54.88 L118.80,55.25 L120.80,55.69 L122.80,56.20 L124.80,56.81 L126.80,57.55 L128.80,58.39 L130.80,59.27 L132.80,60.24 L134.80,61.26 L136.80,62.30 L138.80,63.33 L140.80,64.30 L142.80,65.26 L144.80,66.20 L146.80,67.12 L148.80,68.03 L150.80,68.93 L152.80,69.83 L154.80,68.87 L156.80,69.07 L158.80,69.26 L160.80,69.44 L162.80,69.54 L164.80,69.59 L166.80,69.62 L168.80,69.64 L170.80,69.66 L172.80,69.67 L174.80,69.68 L176.80,69.68 L178.80,69.69 L180.80,69.69 L182.80,69.68 L184.80,69.68 L186.80,69.67 L188.80,69.66 L190.80,69.65 L192.80,69.64 L194.80,69.62 L196.80,69.60 L198.80,69.58 L200.80,69.55 L202.80,69.51 L204.80,69.46 L206.80,69.40 L208.80,69.30 L210.80,69.17 L212.80,68.98 L214.80,68.76 L216.80,68.47 L218.80,68.11" fill="none" stroke="url(#g2)" stroke-width="0.3" opacity="0.15"/>
<path d="M42.80,67.06 L44.80,66.79 L46.80,66.54 L48.80,66.28 L50.80,66.02 L52.80,65.75 L54.80,65.47 L56.80,65.18 L58.80,64.86 L60.80,64.53 L62.80,64.18 L64.80,63.81 L66.80,63.41 L68.80,62.99 L70.80,62.56 L72.80,62.11 L74.80,61.65 L76.80,61.18 L78.80,60.71 L80.80,60.24 L82.80,59.79 L84.80,59.35 L86.80,58.94 L88.80,58.54 L90.80,58.15 L92.80,57.77 L94.80,57.39 L96.80,57.01 L98.80,56.65 L100.80,56.31 L102.80,55.99 L104.80,55.72 L106.80,55.52 L108.80,55.40 L110.80,55.37 L112.80,55.44 L114.80,55.62 L116.80,55.90 L118.80,56.29 L120.80,56.76 L122.80,57.30 L124.80,57.95 L126.80,58.72 L128.80,59.60 L130.80,60.51 L132.80,61.51 L134.80,62.56 L136.80,63.64 L138.80,64.69 L140.80,65.70 L142.80,66.68 L144.80,67.64 L146.80,68.59 L148.80,69.52 L150.80,70.43 L152.80,71.35 L154.80,70.12 L156.80,70.25 L158.80,70.36 L160.80,70.47 L162.80,70.53 L164.80,70.56 L166.80,70.58 L168.80,70.60 L170.80,70.60 L172.80,70.61 L174.80,70.62 L176.80,70.62 L178.80,70.62 L180.80,70.62 L182.80,70.62 L184.80,70.62 L186.80,70.61 L188.80,70.61 L190.80,70.60 L192.80,70.59 L194.80,70.58 L196.80,70.57 L198.80,70.55 L200.80,70.54 L202.80,70.51 L204.80,70.48 L206.80,70.44 L208.80,70.39 L210.80,70.30 L212.80,70.19 L214.80,70.05 L216.80,69.87 L218.80,69.65" fill="none" stroke="url(#g2)" stroke-width="0.3" opacity="0.15"/>
<path d="M42.80,68.79 L44.80,68.49 L46.80,68.20 L48.80,67.91 L50.80,67.61 L52.80,67.31 L54.80,66.99 L56.80,66.66 L58.80,66.31 L60.80,65.94 L62.80,65.56 L64.80,65.15 L66.80,64.72 L68.80,64.27 L70.80,63.81 L72.80,63.33 L74.80,62.84 L76.80,62.34 L78.80,61.85 L80.80,61.36 L82.80,60.88 L84.80,60.42 L86.80,59.99 L88.80,59.57 L90.80,59.17 L92.80,58.77 L94.80,58.38 L96.80,57.99 L98.80,57.62 L100.80,57.27 L102.80,56.96 L104.80,56.69 L106.80,56.49 L108.80,56.38 L110.80,56.37 L112.80,56.46 L114.80,56.65 L116.80,56.95 L118.80,57.36 L120.80,57.86 L122.80,58.44 L124.80,59.12 L126.80,59.94 L128.80,60.84 L130.80,61.79 L132.80,62.82 L134.80,63.91 L136.80,65.02 L138.80,66.11 L140.80,67.14 L142.80,68.15 L144.80,69.14 L146.80,70.11 L148.80,71.06 L150.80,71.99 L152.80,72.92 L154.80,71.42 L156.80,71.46 L158.80,71.50 L160.80,71.54 L162.80,71.56 L164.80,71.57 L166.80,71.58 L168.80,71.58 L170.80,71.58 L172.80,71.59 L174.80,71.59 L176.80,71.59 L178.80,71.59 L180.80,71.59 L182.80,71.59 L184.80,71.59 L186.80,71.59 L188.80,71.58 L190.80,71.58 L192.80,71.58 L194.80,71.58 L196.80,71.57 L198.80,71.57 L200.80,71.56 L202.80,71.55 L204.80,71.54 L206.80,71.53 L208.80,71.51 L210.80,71.48 L212.80,71.44 L214.80,71.39 L216.80,71.33 L218.80,71.26" fill="none" stroke="url(#g2)" stroke-width="0.3" opacity="0.15"/>
<path d="M42.80,70.57 L44.80,70.23 L46.80,69.91 L48.80,69.58 L50.80,69.25 L52.80,68.91 L54.80,68.55 L56.80,68.18 L58.80,67.79 L60.80,67.39 L62.80,66.97 L64.80,66.53 L66.80,66.06 L68.80,65.58 L70.80,65.09 L72.80,64.59 L74.80,64.07 L76.80,63.54 L78.80,63.02 L80.80,62.50 L82.80,62.00 L84.80,61.52 L86.80,61.07 L88.80,60.63 L90.80,60.21 L92.80,59.80 L94.80,59.40 L96.80,59.00 L98.80,58.62 L100.80,58.27 L102.80,57.95 L104.80,57.68 L106.80,57.49 L108.80,57.39 L110.80,57.40 L112.80,57.50 L114.80,57.71 L116.80,58.04 L118.80,58.47 L120.80,59.00 L122.80,59.61 L124.80,60.33 L126.80,61.18 L128.80,62.13 L130.80,63.10 L132.80,64.17 L134.80,65.30 L136.80,66.44 L138.80,67.57 L140.80,68.63 L142.80,69.66 L144.80,70.68 L146.80,71.67 L148.80,72.64 L150.80,73.59 L152.80,74.53 L154.80,75.83 L156.80,77.59 L158.80,79.23 L160.80,80.73 L162.80,81.99 L164.80,83.13 L166.80,84.18 L168.80,85.14 L170.80,86.01 L172.80,86.81 L174.80,87.55 L176.80,88.24 L178.80,88.88 L180.80,89.46 L182.80,89.98 L184.80,90.44 L186.80,90.85 L188.80,91.22 L190.80,91.55 L192.80,91.85 L194.80,92.09 L196.80,92.28 L198.80,92.44 L200.80,92.57 L202.80,92.69 L204.80,92.79 L206.80,92.89 L208.80,92.98 L210.80,93.07 L212.80,93.16 L214.80,93.25 L216.80,93.33 L218.80,93.42" fill="none" stroke="url(#g2)" stroke-width="0.3" opacity="0.15"/>
<path d="M42.80,72.39 L44.80,72.02 L46.80,71.65 L48.80,71.29 L50.80,70.92 L52.80,70.54 L54.80,70.14 L56.80,69.74 L58.80,69.31 L60.80,68.87 L62.80,68.41 L64.80,67.93 L66.80,67.43 L68.80,66.92 L70.80,66.40 L72.80,65.87 L74.80,65.32 L76.80,64.76 L78.80,64.21 L80.80,63.67 L82.80,63.14 L84.80,62.64 L86.80,62.17 L88.80,61.71 L90.80,61.28 L92.80,60.85 L94.80,60.43 L96.80,60.03 L98.80,59.64 L100.80,59.28 L102.80,58.96 L104.80,58.70 L106.80,58.51 L108.80,58.43 L110.80,58.44 L112.80,58.56 L114.80,58.80 L116.80,59.14 L118.80,59.60 L120.80,60.16 L122.80,60.80 L124.80,61.57 L126.80,62.45 L128.80,63.43 L130.80,64.44 L132.80,65.55 L134.80,66.71 L136.80,67.89 L138.80,69.05 L140.80,70.15 L142.80,71.21 L144.80,72.25 L146.80,73.26 L148.80,74.25 L150.80,75.22 L152.80,76.18 L154.80,77.46 L156.80,79.17 L158.80,80.76 L160.80,82.22 L162.80,83.46 L164.80,84.58 L166.80,85.61 L168.80,86.56 L170.80,87.41 L172.80,88.19 L174.80,88.91 L176.80,89.59 L178.80,90.21 L180.80,90.78 L182.80,91.29 L184.80,91.75 L186.80,92.15 L188.80,92.51 L190.80,92.84 L192.80,93.14 L194.80,93.38 L196.80,93.57 L198.80,93.73 L200.80,93.87 L202.80,94.00 L204.80,94.11 L206.80,94.22 L208.80,94.32 L210.80,94.41 L212.80,94.51 L214.80,94.61 L216.80,94.70 L218.80,94.79" fill="none" stroke="url(#g2)" stroke-width="0.3" opacity="0.15"/>
<path d="M42.80,74.23 L44.80,73.82 L46.80,73.41 L48.80,73.01 L50.80,72.60 L52.80,72.19 L54.80,71.75 L56.80,71.31 L58.80,70.84 L60.80,70.36 L62.80,69.87 L64.80,69.35 L66.80,68.82 L68.80,68.28 L70.80,67.73 L72.80,67.16 L74.80,66.58 L76.80,66.00 L78.80,65.41 L80.80,64.85 L82.80,64.30 L84.80,63.77 L86.80,63.28 L88.80,62.81 L90.80,62.36 L92.80,61.91 L94.80,61.49 L96.80,61.07 L98.80,60.67 L100.80,60.31 L102.80,59.99 L104.80,59.72 L106.80,59.54 L108.80,59.47 L110.80,59.50 L112.80,59.64 L114.80,59.89 L116.80,60.26 L118.80,60.74 L120.80,61.33 L122.80,62.01 L124.80,62.81 L126.80,63.74 L128.80,64.75 L130.80,65.80 L132.80,66.94 L134.80,68.14 L136.80,69.36 L138.80,70.55 L140.80,71.68 L142.80,72.77 L144.80,73.83 L146.80,74.87 L148.80,75.88 L150.80,76.87 L152.80,77.84 L154.80,79.11 L156.80,80.76 L158.80,82.31 L160.80,83.73 L162.80,84.95 L164.80,86.05 L166.80,87.07 L168.80,87.99 L170.80,88.83 L172.80,89.59 L174.80,90.30 L176.80,90.95 L178.80,91.56 L180.80,92.12 L182.80,92.62 L184.80,93.07 L186.80,93.47 L188.80,93.83 L190.80,94.15 L192.80,94.44 L194.80,94.68 L196.80,94.87 L198.80,95.04 L200.80,95.19 L202.80,95.32 L204.80,95.44 L206.80,95.56 L208.80,95.67 L210.80,95.77 L212.80,95.88 L214.80,95.98 L216.80,96.08 L218.80,96.19" fill="none" stroke="url(#g2)" stroke-width="0.3" opacity="0.15"/>
<path d="M42.80,76.07 L44.80,75.62 L46.80,75.18 L48.80,74.74 L50.80,74.30 L52.80,73.84 L54.80,73.37 L56.80,72.88 L58.80,72.38 L60.80,71.86 L62.80,71.33 L64.80,70.78 L66.80,70.21 L68.80,69.64 L70.80,69.06 L72.80,68.46 L74.80,67.85 L76.80,67.23 L78.80,66.62 L80.80,66.03 L82.80,65.45 L84.80,64.91 L86.80,64.40 L88.80,63.91 L90.80,63.44 L92.80,62.98 L94.80,62.54 L96.80,62.11 L98.80,61.71 L100.80,61.34 L102.80,61.01 L104.80,60.75 L106.80,60.58 L108.80,60.52 L110.80,60.56 L112.80,60.72 L114.80,60.99 L116.80,61.38 L118.80,61.89 L120.80,62.50 L122.80,63.22 L124.80,64.07 L126.80,65.03 L128.80,66.08 L130.80,67.16 L132.80,68.34 L134.80,69.58 L136.80,70.84 L138.80,72.06 L140.80,73.22 L142.80,74.33 L144.80,75.42 L146.80,76.49 L148.80,77.52 L150.80,78.52 L152.80,79.51 L154.80,80.76 L156.80,82.37 L158.80,83.87 L160.80,85.25 L162.80,86.44 L164.80,87.53 L166.80,88.53 L168.80,89.43 L170.80,90.25 L172.80,90.99 L174.80,91.68 L176.80,92.32 L178.80,92.92 L180.80,93.47 L182.80,93.96 L184.80,94.40 L186.80,94.79 L188.80,95.15 L190.80,95.46 L192.80,95.75 L194.80,95.99 L196.80,96.18 L198.80,96.35 L200.80,96.51 L202.80,96.65 L204.80,96.78 L206.80,96.90 L208.80,97.02 L210.80,97.13 L212.80,97.25 L214.80,97.36 L216.80,97.47 L218.80,97.58" fill="none" stroke="url(#g2)" stroke-width="0.3" opacity="0.15"/>
<path d="M42.80,77.91 L44.80,77.42 L46.80,76.95 L48.80,76.47 L50.80,75.98 L52.80,75.49 L54.80,74.98 L56.80,74.46 L58.80,73.91 L60.80,73.36 L62.80,72.79 L64.80,72.20 L66.80,71.60 L68.80,70.99 L70.80,70.38 L72.80,69.75 L74.80,69.11 L76.80,68.47 L78.80,67.83 L80.80,67.21 L82.80,66.61 L84.80,66.04 L86.80,65.51 L88.80,65.00 L90.80,64.52 L92.80,64.04 L94.80,63.59 L96.80,63.15 L98.80,62.74 L100.80,62.37 L102.80,62.04 L104.80,61.78 L106.80,61.61 L108.80,61.56 L110.80,61.62 L112.80,61.79 L114.80,62.09 L116.80,62.50 L118.80,63.03 L120.80,63.67 L122.80,64.43 L124.80,65.31 L126.80,66.32 L128.80,67.40 L130.80,68.52 L132.80,69.73 L134.80,71.01 L136.80,72.30 L138.80,73.56 L140.80,74.75 L142.80,75.89 L144.80,77.01 L146.80,78.10 L148.80,79.15 L150.80,80.17 L152.80,81.17 L154.80,82.41 L156.80,83.96 L158.80,85.42 L160.80,86.76 L162.80,87.93 L164.80,89.00 L166.80,89.98 L168.80,90.87 L170.80,91.66 L172.80,92.39 L174.80,93.06 L176.80,93.69 L178.80,94.27 L180.80,94.81 L182.80,95.29 L184.80,95.72 L186.80,96.11 L188.80,96.46 L190.80,96.77 L192.80,97.05 L194.80,97.29 L196.80,97.49 L198.80,97.66 L200.80,97.82 L202.80,97.97 L204.80,98.11 L206.80,98.24 L208.80,98.37 L210.80,98.49 L212.80,98.61 L214.80,98.73 L216.80,98.85 L218.80,98.98" fill="none" stroke="url(#g2)" stroke-width="0.3" opacity="0.15"/>
<path d="M42.80,79.73 L44.80,79.20 L46.80,78.69 L48.80,78.17 L50.80,77.65 L52.80,77.12 L54.80,76.57 L56.80,76.01 L58.80,75.43 L60.80,74.83 L62.80,74.23 L64.80,73.61 L66.80,72.97 L68.80,72.33 L70.80,71.69 L72.80,71.03 L74.80,70.36 L76.80,69.69 L78.80,69.02 L80.80,68.38 L82.80,67.75 L84.80,67.16 L86.80,66.61 L88.80,66.08 L90.80,65.58 L92.80,65.10 L94.80,64.63 L96.80,64.18 L98.80,63.76 L100.80,63.38 L102.80,63.05 L104.80,62.79 L106.80,62.63 L108.80,62.59 L110.80,62.66 L112.80,62.86 L114.80,63.17 L116.80,63.60 L118.80,64.16 L120.80,64.83 L122.80,65.63 L124.80,66.55 L126.80,67.59 L128.80,68.71 L130.80,69.86 L132.80,71.11 L134.80,72.42 L136.80,73.75 L138.80,75.05 L140.80,76.27 L142.80,77.44 L144.80,78.58 L146.80,79.69 L148.80,80.76 L150.80,81.80 L152.80,82.82 L154.80,84.04 L156.80,85.54 L158.80,86.95 L160.80,88.25 L162.80,89.40 L164.80,90.45 L166.80,91.42 L168.80,92.29 L170.80,93.06 L172.80,93.77 L174.80,94.43 L176.80,95.04 L178.80,95.61 L180.80,96.13 L182.80,96.60 L184.80,97.03 L186.80,97.41 L188.80,97.76 L190.80,98.06 L192.80,98.34 L194.80,98.58 L196.80,98.78 L198.80,98.96 L200.80,99.13 L202.80,99.28 L204.80,99.43 L206.80,99.57 L208.80,99.70 L210.80,99.83 L212.80,99.96 L214.80,100.09 L216.80,100.22 L218.80,100.35" fill="none" stroke="url(#g2)" stroke-width="0.3" opacity="0.15"/>
<path d="M42.80,81.51 L44.80,80.95 L46.80,80.40 L48.80,79.85 L50.80,79.29 L52.80,78.72 L54.80,78.13 L56.80,77.53 L58.80,76.91 L60.80,76.28 L62.80,75.64 L64.80,74.98 L66.80,74.32 L68.80,73.65 L70.80,72.97 L72.80,72.29 L74.80,71.59 L76.80,70.89 L78.80,70.19 L80.80,69.52 L82.80,68.87 L84.80,68.26 L86.80,67.69 L88.80,67.14 L90.80,66.63 L92.80,66.13 L94.80,65.65 L96.80,65.19 L98.80,64.76 L100.80,64.38 L102.80,64.04 L104.80,63.78 L106.80,63.63 L108.80,63.60 L110.80,63.69 L112.80,63.90 L114.80,64.23 L116.80,64.69 L118.80,65.27 L120.80,65.97 L122.80,66.80 L124.80,67.76 L126.80,68.84 L128.80,69.99 L130.80,71.18 L132.80,72.46 L134.80,73.81 L136.80,75.18 L138.80,76.50 L140.80,77.75 L142.80,78.95 L144.80,80.12 L146.80,81.25 L148.80,82.34 L150.80,83.40 L152.80,84.43 L154.80,85.64 L156.80,87.09 L158.80,88.45 L160.80,89.72 L162.80,90.84 L164.80,91.88 L166.80,92.83 L168.80,93.68 L170.80,94.44 L172.80,95.13 L174.80,95.77 L176.80,96.36 L178.80,96.92 L180.80,97.43 L182.80,97.89 L184.80,98.31 L186.80,98.69 L188.80,99.03 L190.80,99.33 L192.80,99.61 L194.80,99.84 L196.80,100.04 L198.80,100.23 L200.80,100.40 L202.80,100.56 L204.80,100.72 L206.80,100.86 L208.80,101.01 L210.80,101.15 L212.80,101.29 L214.80,101.43 L216.80,101.56 L218.80,101.70" fill="none" stroke="url(#g2)" stroke-width="0.3" opacity="0.15"/>
<path d="M42.80,83.24 L44.80,82.65 L46.80,82.06 L48.80,81.47 L50.80,80.88 L52.80,80.27 L54.80,79.65 L56.80,79.01 L58.80,78.36 L60.80,77.69 L62.80,77.01 L64.80,76.32 L66.80,75.63 L68.80,74.93 L70.80,74.22 L72.80,73.51 L74.80,72.78 L76.80,72.05 L78.80,71.33 L80.80,70.63 L82.80,69.96 L84.80,69.33 L86.80,68.74 L88.80,68.18 L90.80,67.64 L92.80,67.13 L94.80,66.64 L96.80,66.17 L98.80,65.74 L100.80,65.35 L102.80,65.01 L104.80,64.75 L106.80,64.60 L108.80,64.58 L110.80,64.69 L112.80,64.91 L114.80,65.26 L116.80,65.74 L118.80,66.35 L120.80,67.07 L122.80,67.94 L124.80,68.93 L126.80,70.05 L128.80,71.24 L130.80,72.46 L132.80,73.77 L134.80,75.16 L136.80,76.56 L138.80,77.92 L140.80,79.20 L142.80,80.42 L144.80,81.61 L146.80,82.77 L148.80,83.88 L150.80,84.96 L152.80,86.00 L154.80,87.19 L156.80,88.60 L158.80,89.91 L160.80,91.14 L162.80,92.25 L164.80,93.27 L166.80,94.20 L168.80,95.03 L170.80,95.77 L172.80,96.45 L174.80,97.07 L176.80,97.65 L178.80,98.19 L180.80,98.69 L182.80,99.15 L184.80,99.56 L186.80,99.94 L188.80,100.27 L190.80,100.57 L192.80,100.84 L194.80,101.07 L196.80,101.27 L198.80,101.46 L200.80,101.64 L202.80,101.81 L204.80,101.97 L206.80,102.13 L208.80,102.28 L210.80,102.43 L212.80,102.58 L214.80,102.72 L216.80,102.87 L218.80,103.02" fill="none" stroke="url(#g2)" stroke-width="0.3" opacity="0.15"/>
<path d="M42.80,84.92 L44.80,84.29 L46.80,83.67 L48.80,83.04 L50.80,82.41 L52.80,81.77 L54.80,81.12 L56.80,80.44 L58.80,79.75 L60.80,79.05 L62.80,78.34 L64.80,77.62 L66.80,76.89 L68.80,76.16 L70.80,75.43 L72.80,74.68 L74.80,73.93 L76.80,73.17 L78.80,72.43 L80.80,71.70 L82.80,71.01 L84.80,70.36 L86.80,69.75 L88.80,69.17 L90.80,68.62 L92.80,68.10 L94.80,67.59 L96.80,67.12 L98.80,66.67 L100.80,66.28 L102.80,65.94 L104.80,65.68 L106.80,65.54 L108.80,65.53 L110.80,65.65 L112.80,65.89 L114.80,66.26 L116.80,66.76 L118.80,67.39 L120.80,68.14 L122.80,69.04 L124.80,70.07 L126.80,71.22 L128.80,72.44 L130.80,73.69 L132.80,75.04 L134.80,76.46 L136.80,77.90 L138.80,79.29 L140.80,80.59 L142.80,81.84 L144.80,83.06 L146.80,84.23 L148.80,85.37 L150.80,86.46 L152.80,87.51 L154.80,88.69 L156.80,90.05 L158.80,91.32 L160.80,92.52 L162.80,93.60 L164.80,94.61 L166.80,95.52 L168.80,96.34 L170.80,97.06 L172.80,97.72 L174.80,98.33 L176.80,98.89 L178.80,99.42 L180.80,99.91 L182.80,100.36 L184.80,100.77 L186.80,101.13 L188.80,101.46 L190.80,101.76 L192.80,102.02 L194.80,102.26 L196.80,102.46 L198.80,102.65 L200.80,102.84 L202.80,103.02 L204.80,103.18 L206.80,103.35 L208.80,103.51 L210.80,103.66 L212.80,103.82 L214.80,103.97 L216.80,104.13 L218.80,104.28" fill="none" stroke="url(#g2)" stroke-width="0.3" opacity="0.15"/>
<path d="M42.80,86.51 L44.80,85.85 L46.80,85.20 L48.80,84.54 L50.80,83.88 L52.80,83.21 L54.80,82.52 L56.80,81.81 L58.80,81.09 L60.80,80.35 L62.80,79.61 L64.80,78.85 L66.80,78.09 L68.80,77.34 L70.80,76.58 L72.80,75.81 L74.80,75.03 L76.80,74.25 L78.80,73.48 L80.80,72.73 L82.80,72.02 L84.80,71.35 L86.80,70.72 L88.80,70.13 L90.80,69.56 L92.80,69.02 L94.80,68.51 L96.80,68.02 L98.80,67.57 L100.80,67.17 L102.80,66.83 L104.80,66.57 L106.80,66.44 L108.80,66.44 L110.80,66.57 L112.80,66.83 L114.80,67.21 L116.80,67.73 L118.80,68.38 L120.80,69.16 L122.80,70.09 L124.80,71.15 L126.80,72.34 L128.80,73.59 L130.80,74.87 L132.80,76.25 L134.80,77.70 L136.80,79.17 L138.80,80.59 L140.80,81.92 L142.80,83.20 L144.80,84.44 L146.80,85.63 L148.80,86.78 L150.80,87.89 L152.80,88.96 L154.80,90.13 L156.80,91.44 L158.80,92.67 L160.80,93.83 L162.80,94.90 L164.80,95.88 L166.80,96.78 L168.80,97.58 L170.80,98.29 L172.80,98.93 L174.80,99.53 L176.80,100.08 L178.80,100.60 L180.80,101.07 L182.80,101.51 L184.80,101.92 L186.80,102.28 L188.80,102.61 L190.80,102.90 L192.80,103.16 L194.80,103.39 L196.80,103.60 L198.80,103.79 L200.80,103.98 L202.80,104.17 L204.80,104.34 L206.80,104.51 L208.80,104.68 L210.80,104.84 L212.80,105.01 L214.80,105.17 L216.80,105.33 L218.80,105.49" fill="none" stroke="url(#g2)" stroke-width="0.3" opacity="0.15"/>
<path d="M42.80,88.03 L44.80,87.33 L46.80,86.65 L48.80,85.96 L50.80,85.27 L52.80,84.56 L54.80,83.84 L56.80,83.10 L58.80,82.35 L60.80,81.58 L62.80,80.80 L64.80,80.02 L66.80,79.24 L68.80,78.45 L70.80,77.67 L72.80,76.87 L74.80,76.07 L76.80,75.26 L78.80,74.47 L80.80,73.70 L82.80,72.97 L84.80,72.28 L86.80,71.64 L88.80,71.03 L90.80,70.45 L92.80,69.89 L94.80,69.37 L96.80,68.87 L98.80,68.42 L100.80,68.02 L102.80,67.67 L104.80,67.42 L106.80,67.28 L108.80,67.30 L110.80,67.44 L112.80,67.71 L114.80,68.11 L116.80,68.65 L118.80,69.32 L120.80,70.12 L122.80,71.08 L124.80,72.18 L126.80,73.39 L128.80,74.68 L130.80,75.99 L132.80,77.40 L134.80,78.88 L136.80,80.38 L138.80,81.83 L140.80,83.18 L142.80,84.48 L144.80,85.74 L146.80,86.96 L148.80,88.13 L150.80,89.25 L152.80,90.33 L154.80,91.48 L156.80,92.75 L158.80,93.95 L160.80,95.07 L162.80,96.12 L164.80,97.09 L166.80,97.98 L168.80,98.76 L170.80,99.46 L172.80,100.08 L174.80,100.66 L176.80,101.20 L178.80,101.71 L180.80,102.18 L182.80,102.61 L184.80,103.01 L186.80,103.36 L188.80,103.69 L190.80,103.97 L192.80,104.23 L194.80,104.46 L196.80,104.67 L198.80,104.87 L200.80,105.07 L202.80,105.26 L204.80,105.44 L206.80,105.61 L208.80,105.79 L210.80,105.96 L212.80,106.13 L214.80,106.30 L216.80,106.47 L218.80,106.64" fill="none" stroke="url(#g2)" stroke-width="0.3" opacity="0.15"/>
<path d="M42.80,89.44 L44.80,88.72 L46.80,88.00 L48.80,87.29 L50.80,86.56 L52.80,85.83 L54.80,85.08 L56.80,84.31 L58.80,83.53 L60.80,82.73 L62.80,81.92 L64.80,81.11 L66.80,80.30 L68.80,79.49 L70.80,78.69 L72.80,77.87 L74.80,77.04 L76.80,76.21 L78.80,75.40 L80.80,74.61 L82.80,73.85 L84.80,73.15 L86.80,72.49 L88.80,71.87 L90.80,71.28 L92.80,70.71 L94.80,70.18 L96.80,69.67 L98.80,69.21 L100.80,68.81 L102.80,68.46 L104.80,68.21 L106.80,68.08 L108.80,68.10 L110.80,68.25 L112.80,68.54 L114.80,68.96 L116.80,69.51 L118.80,70.20 L120.80,71.02 L122.80,72.01 L124.80,73.14 L126.80,74.38 L128.80,75.69 L130.80,77.03 L132.80,78.47 L134.80,79.98 L136.80,81.51 L138.80,82.98 L140.80,84.36 L142.80,85.68 L144.80,86.96 L146.80,88.19 L148.80,89.38 L150.80,90.52 L152.80,91.61 L154.80,92.75 L156.80,93.98 L158.80,95.14 L160.80,96.24 L162.80,97.26 L164.80,98.22 L166.80,99.09 L168.80,99.87 L170.80,100.55 L172.80,101.16 L174.80,101.73 L176.80,102.25 L178.80,102.75 L180.80,103.20 L182.80,103.63 L184.80,104.02 L186.80,104.38 L188.80,104.70 L190.80,104.98 L192.80,105.23 L194.80,105.46 L196.80,105.67 L198.80,105.88 L200.80,106.08 L202.80,106.27 L204.80,106.46 L206.80,106.64 L208.80,106.83 L210.80,107.00 L212.80,107.18 L214.80,107.36 L216.80,107.53 L218.80,107.71" fill="none" stroke="url(#g2)" stroke-width="0.3" opacity="0.15"/>
<path d="M42.80,90.74 L44.80,90.00 L46.80,89.26 L48.80,88.51 L50.80,87.76 L52.80,87.00 L54.80,86.22 L56.80,85.43 L58.80,84.61 L60.80,83.79 L62.80,82.96 L64.80,82.12 L66.80,81.29 L68.80,80.45 L70.80,79.63 L72.80,78.79 L74.80,77.94 L76.80,77.09 L78.80,76.25 L80.80,75.44 L82.80,74.67 L84.80,73.95 L86.80,73.28 L88.80,72.64 L90.80,72.04 L92.80,71.47 L94.80,70.92 L96.80,70.41 L98.80,69.95 L100.80,69.54 L102.80,69.19 L104.80,68.93 L106.80,68.81 L108.80,68.84 L110.80,69.00 L112.80,69.30 L114.80,69.73 L116.80,70.30 L118.80,71.01 L120.80,71.85 L122.80,72.87 L124.80,74.03 L126.80,75.30 L128.80,76.63 L130.80,77.99 L132.80,79.46 L134.80,81.00 L136.80,82.55 L138.80,84.05 L140.80,85.45 L142.80,86.79 L144.80,88.09 L146.80,89.34 L148.80,90.54 L150.80,91.69 L152.80,92.79 L154.80,93.92 L156.80,95.11 L158.80,96.24 L160.80,97.31 L162.80,98.32 L164.80,99.27 L166.80,100.13 L168.80,100.89 L170.80,101.55 L172.80,102.15 L174.80,102.71 L176.80,103.22 L178.80,103.70 L180.80,104.16 L182.80,104.57 L184.80,104.96 L186.80,105.31 L188.80,105.63 L190.80,105.91 L192.80,106.16 L194.80,106.39 L196.80,106.60 L198.80,106.81 L200.80,107.01 L202.80,107.21 L204.80,107.41 L206.80,107.60 L208.80,107.78 L210.80,107.97 L212.80,108.15 L214.80,108.33 L216.80,108.51 L218.80,108.70" fill="none" stroke="url(#g2)" stroke-width="0.3" opacity="0.15"/>
<path d="M42.80,91.93 L44.80,91.16 L46.80,90.39 L48.80,89.62 L50.80,88.85 L52.80,88.06 L54.80,87.26 L56.80,86.44 L58.80,85.60 L60.80,84.75 L62.80,83.90 L64.80,83.04 L66.80,82.18 L68.80,81.33 L70.80,80.48 L72.80,79.62 L74.80,78.75 L76.80,77.88 L78.80,77.03 L80.80,76.21 L82.80,75.42 L84.80,74.68 L86.80,74.00 L88.80,73.35 L90.80,72.74 L92.80,72.15 L94.80,71.60 L96.80,71.08 L98.80,70.61 L100.80,70.20 L102.80,69.85 L104.80,69.59 L106.80,69.48 L108.80,69.51 L110.80,69.69 L112.80,70.00 L114.80,70.44 L116.80,71.02 L118.80,71.75 L120.80,72.61 L122.80,73.65 L124.80,74.83 L126.80,76.13 L128.80,77.48 L130.80,78.87 L132.80,80.36 L134.80,81.92 L136.80,83.49 L138.80,85.02 L140.80,86.44 L142.80,87.80 L144.80,89.11 L146.80,90.38 L148.80,91.59 L150.80,92.75 L152.80,93.86 L154.80,94.99 L156.80,96.14 L158.80,97.24 L160.80,98.28 L162.80,99.28 L164.80,100.22 L166.80,101.06 L168.80,101.81 L170.80,102.47 L172.80,103.05 L174.80,103.60 L176.80,104.10 L178.80,104.58 L180.80,105.02 L182.80,105.43 L184.80,105.82 L186.80,106.16 L188.80,106.47 L190.80,106.75 L192.80,107.00 L194.80,107.23 L196.80,107.44 L198.80,107.65 L200.80,107.86 L202.80,108.07 L204.80,108.27 L206.80,108.46 L208.80,108.65 L210.80,108.84 L212.80,109.03 L214.80,109.22 L216.80,109.41 L218.80,109.59" fill="none" stroke="url(#g2)" stroke-width="0.3" opacity="0.15"/>
<path d="M42.80,92.99 L44.80,92.20 L46.80,91.41 L48.80,90.62 L50.80,89.82 L52.80,89.01 L54.80,88.19 L56.80,87.34 L58.80,86.48 L60.80,85.61 L62.80,84.74 L64.80,83.86 L66.80,82.98 L68.80,82.11 L70.80,81.24 L72.80,80.37 L74.80,79.48 L76.80,78.60 L78.80,77.72 L80.80,76.88 L82.80,76.08 L84.80,75.34 L86.80,74.64 L88.80,73.98 L90.80,73.36 L92.80,72.76 L94.80,72.21 L96.80,71.68 L98.80,71.21 L100.80,70.79 L102.80,70.44 L104.80,70.19 L106.80,70.07 L108.80,70.11 L110.80,70.29 L112.80,70.61 L114.80,71.07 L116.80,71.67 L118.80,72.41 L120.80,73.28 L122.80,74.34 L124.80,75.55 L126.80,76.87 L128.80,78.25 L130.80,79.65 L132.80,81.16 L134.80,82.74 L136.80,84.34 L138.80,85.88 L140.80,87.32 L142.80,88.70 L144.80,90.02 L146.80,91.30 L148.80,92.53 L150.80,93.70 L152.80,94.82 L154.80,95.93 L156.80,97.06 L158.80,98.13 L160.80,99.15 L162.80,100.14 L164.80,101.07 L166.80,101.90 L168.80,102.64 L170.80,103.28 L172.80,103.86 L174.80,104.39 L176.80,104.89 L178.80,105.35 L180.80,105.79 L182.80,106.20 L184.80,106.58 L186.80,106.92 L188.80,107.23 L190.80,107.50 L192.80,107.75 L194.80,107.98 L196.80,108.19 L198.80,108.40 L200.80,108.62 L202.80,108.83 L204.80,109.03 L206.80,109.23 L208.80,109.43 L210.80,109.62 L212.80,109.82 L214.80,110.01 L216.80,110.20 L218.80,110.40" fill="none" stroke="url(#g2)" stroke-width="0.3" opacity="0.15"/>
<path d="M42.80,93.91 L44.80,93.10 L46.80,92.29 L48.80,91.48 L50.80,90.67 L52.80,89.84 L54.80,89.00 L56.80,88.13 L58.80,87.25 L60.80,86.36 L62.80,85.47 L64.80,84.57 L66.80,83.68 L68.80,82.79 L70.80,81.91 L72.80,81.02 L74.80,80.11 L76.80,79.21 L78.80,78.33 L80.80,77.48 L82.80,76.66 L84.80,75.90 L86.80,75.20 L88.80,74.53 L90.80,73.90 L92.80,73.30 L94.80,72.73 L96.80,72.20 L98.80,71.72 L100.80,71.30 L102.80,70.95 L104.80,70.70 L106.80,70.59 L108.80,70.64 L110.80,70.82 L112.80,71.15 L114.80,71.62 L116.80,72.23 L118.80,72.98 L120.80,73.87 L122.80,74.95 L124.80,76.18 L126.80,77.51 L128.80,78.91 L130.80,80.33 L132.80,81.86 L134.80,83.46 L136.80,85.08 L138.80,86.64 L140.80,88.09 L142.80,89.48 L144.80,90.82 L146.80,92.11 L148.80,93.35 L150.80,94.53 L152.80,95.66 L154.80,96.76 L156.80,97.86 L158.80,98.91 L160.80,99.91 L162.80,100.88 L164.80,101.80 L166.80,102.63 L168.80,103.36 L170.80,103.99 L172.80,104.56 L174.80,105.09 L176.80,105.57 L178.80,106.03 L180.80,106.46 L182.80,106.87 L184.80,107.24 L186.80,107.59 L188.80,107.89 L190.80,108.16 L192.80,108.40 L194.80,108.63 L196.80,108.85 L198.80,109.06 L200.80,109.28 L202.80,109.49 L204.80,109.70 L206.80,109.90 L208.80,110.11 L210.80,110.31 L212.80,110.50 L214.80,110.70 L216.80,110.90 L218.80,111.09" fill="none" stroke="url(#g2)" stroke-width="0.3" opacity="0.15"/>
<path d="M42.80,94.69 L44.80,93.86 L46.80,93.04 L48.80,92.22 L50.80,91.38 L52.80,90.54 L54.80,89.68 L56.80,88.80 L58.80,87.90 L60.80,87.00 L62.80,86.09 L64.80,85.17 L66.80,84.27 L68.80,83.36 L70.80,82.47 L72.80,81.57 L74.80,80.65 L76.80,79.74 L78.80,78.84 L80.80,77.98 L82.80,77.15 L84.80,76.38 L86.80,75.67 L88.80,75.00 L90.80,74.36 L92.80,73.75 L94.80,73.18 L96.80,72.65 L98.80,72.16 L100.80,71.74 L102.80,71.39 L104.80,71.13 L106.80,71.02 L108.80,71.08 L110.80,71.27 L112.80,71.61 L114.80,72.09 L116.80,72.70 L118.80,73.46 L120.80,74.37 L122.80,75.46 L124.80,76.71 L126.80,78.06 L128.80,79.47 L130.80,80.91 L132.80,82.45 L134.80,84.07 L136.80,85.70 L138.80,87.27 L140.80,88.74 L142.80,90.14 L144.80,91.49 L146.80,92.79 L148.80,94.04 L150.80,95.23 L152.80,96.36 L154.80,97.46 L156.80,98.54 L158.80,99.57 L160.80,100.55 L162.80,101.52 L164.80,102.43 L166.80,103.25 L168.80,103.97 L170.80,104.59 L172.80,105.15 L174.80,105.67 L176.80,106.15 L178.80,106.61 L180.80,107.03 L182.80,107.43 L184.80,107.80 L186.80,108.14 L188.80,108.45 L190.80,108.71 L192.80,108.96 L194.80,109.18 L196.80,109.40 L198.80,109.62 L200.80,109.84 L202.80,110.05 L204.80,110.27 L206.80,110.47 L208.80,110.68 L210.80,110.88 L212.80,111.08 L214.80,111.28 L216.80,111.48 L218.80,111.69" fill="none" stroke="url(#g2)" stroke-width="0.3" opacity="0.15"/>
<path d="M42.80,95.32 L44.80,94.48 L46.80,93.65 L48.80,92.81 L50.80,91.96 L52.80,91.10 L54.80,90.23 L56.80,89.34 L58.80,88.43 L60.80,87.51 L62.80,86.59 L64.80,85.66 L66.80,84.74 L68.80,83.83 L70.80,82.93 L72.80,82.01 L74.80,81.08 L76.80,80.16 L78.80,79.26 L80.80,78.38 L82.80,77.55 L84.80,76.77 L86.80,76.05 L88.80,75.37 L90.80,74.73 L92.80,74.11 L94.80,73.54 L96.80,73.00 L98.80,72.52 L100.80,72.09 L102.80,71.74 L104.80,71.49 L106.80,71.38 L108.80,71.44 L110.80,71.64 L112.80,71.98 L114.80,72.46 L116.80,73.09 L118.80,73.86 L120.80,74.77 L122.80,75.88 L124.80,77.13 L126.80,78.50 L128.80,79.92 L130.80,81.37 L132.80,82.93 L134.80,84.56 L136.80,86.20 L138.80,87.79 L140.80,89.27 L142.80,90.68 L144.80,92.04 L146.80,93.35 L148.80,94.60 L150.80,95.80 L152.80,96.93 L154.80,98.03 L156.80,99.09 L158.80,100.10 L160.80,101.07 L162.80,102.03 L164.80,102.93 L166.80,103.75 L168.80,104.46 L170.80,105.08 L172.80,105.63 L174.80,106.15 L176.80,106.62 L178.80,107.07 L180.80,107.49 L182.80,107.89 L184.80,108.26 L186.80,108.60 L188.80,108.90 L190.80,109.16 L192.80,109.40 L194.80,109.63 L196.80,109.85 L198.80,110.07 L200.80,110.29 L202.80,110.51 L204.80,110.72 L206.80,110.93 L208.80,111.14 L210.80,111.35 L212.80,111.55 L214.80,111.76 L216.80,111.96 L218.80,112.16" fill="none" stroke="url(#g2)" stroke-width="0.3" opacity="0.15"/>
<path d="M42.80,95.80 L44.80,94.95 L46.80,94.11 L48.80,93.26 L50.80,92.40 L52.80,91.53 L54.80,90.65 L56.80,89.75 L58.80,88.83 L60.80,87.90 L62.80,86.97 L64.80,86.03 L66.80,85.10 L68.80,84.18 L70.80,83.27 L72.80,82.35 L74.80,81.41 L76.80,80.48 L78.80,79.57 L80.80,78.69 L82.80,77.85 L84.80,77.07 L86.80,76.34 L88.80,75.66 L90.80,75.01 L92.80,74.39 L94.80,73.81 L96.80,73.27 L98.80,72.78 L100.80,72.36 L102.80,72.00 L104.80,71.75 L106.80,71.65 L108.80,71.71 L110.80,71.91 L112.80,72.26 L114.80,72.75 L116.80,73.38 L118.80,74.15 L120.80,75.07 L122.80,76.19 L124.80,77.46 L126.80,78.83 L128.80,80.27 L130.80,81.72 L132.80,83.29 L134.80,84.93 L136.80,86.58 L138.80,88.18 L140.80,89.67 L142.80,91.08 L144.80,92.45 L146.80,93.77 L148.80,95.02 L150.80,96.22 L152.80,97.36 L154.80,98.46 L156.80,99.51 L158.80,100.50 L160.80,101.47 L162.80,102.41 L164.80,103.31 L166.80,104.12 L168.80,104.83 L170.80,105.45 L172.80,106.00 L174.80,106.50 L176.80,106.98 L178.80,107.42 L180.80,107.84 L182.80,108.23 L184.80,108.60 L186.80,108.94 L188.80,109.24 L190.80,109.50 L192.80,109.74 L194.80,109.97 L196.80,110.19 L198.80,110.41 L200.80,110.63 L202.80,110.85 L204.80,111.07 L206.80,111.28 L208.80,111.49 L210.80,111.70 L212.80,111.91 L214.80,112.11 L216.80,112.32 L218.80,112.53" fill="none" stroke="url(#g2)" stroke-width="0.3" opacity="0.15"/>
<path d="M42.80,96.12 L44.80,95.26 L46.80,94.41 L48.80,93.56 L50.80,92.69 L52.80,91.82 L54.80,90.93 L56.80,90.02 L58.80,89.10 L60.80,88.16 L62.80,87.22 L64.80,86.28 L66.80,85.34 L68.80,84.42 L70.80,83.50 L72.80,82.57 L74.80,81.63 L76.80,80.70 L78.80,79.78 L80.80,78.89 L82.80,78.05 L84.80,77.27 L86.80,76.54 L88.80,75.85 L90.80,75.19 L92.80,74.57 L94.80,73.99 L96.80,73.45 L98.80,72.96 L100.80,72.54 L102.80,72.18 L104.80,71.93 L106.80,71.83 L108.80,71.89 L110.80,72.10 L112.80,72.45 L114.80,72.94 L116.80,73.57 L118.80,74.35 L120.80,75.28 L122.80,76.40 L124.80,77.68 L126.80,79.06 L128.80,80.50 L130.80,81.96 L132.80,83.53 L134.80,85.18 L136.80,86.84 L138.80,88.44 L140.80,89.93 L142.80,91.36 L144.80,92.73 L146.80,94.05 L148.80,95.31 L150.80,96.51 L152.80,97.65 L154.80,98.74 L156.80,99.78 L158.80,100.78 L160.80,101.73 L162.80,102.67 L164.80,103.57 L166.80,104.38 L168.80,105.08 L170.80,105.69 L172.80,106.24 L174.80,106.75 L176.80,107.21 L178.80,107.66 L180.80,108.07 L182.80,108.46 L184.80,108.83 L186.80,109.17 L188.80,109.47 L190.80,109.73 L192.80,109.97 L194.80,110.20 L196.80,110.41 L198.80,110.63 L200.80,110.86 L202.80,111.08 L204.80,111.30 L206.80,111.52 L208.80,111.73 L210.80,111.94 L212.80,112.14 L214.80,112.35 L216.80,112.56 L218.80,112.77" fill="none" stroke="url(#g2)" stroke-width="0.3" opacity="0.15"/>
<path d="M42.80,96.28 L44.80,95.42 L46.80,94.57 L48.80,93.71 L50.80,92.84 L52.80,91.96 L54.80,91.07 L56.80,90.16 L58.80,89.23 L60.80,88.29 L62.80,87.35 L64.80,86.40 L66.80,85.47 L68.80,84.54 L70.80,83.62 L72.80,82.69 L74.80,81.74 L76.80,80.81 L78.80,79.88 L80.80,79.00 L82.80,78.15 L84.80,77.36 L86.80,76.63 L88.80,75.94 L90.80,75.29 L92.80,74.67 L94.80,74.09 L96.80,73.54 L98.80,73.05 L100.80,72.63 L102.80,72.27 L104.80,72.02 L106.80,71.92 L108.80,71.98 L110.80,72.19 L112.80,72.54 L114.80,73.03 L116.80,73.67 L118.80,74.45 L120.80,75.38 L122.80,76.51 L124.80,77.78 L126.80,79.17 L128.80,80.61 L130.80,82.08 L132.80,83.65 L134.80,85.31 L136.80,86.97 L138.80,88.57 L140.80,90.07 L142.80,91.49 L144.80,92.87 L146.80,94.19 L148.80,95.45 L150.80,96.66 L152.80,97.80 L154.80,98.89 L156.80,99.92 L158.80,100.91 L160.80,101.86 L162.80,102.80 L164.80,103.70 L166.80,104.50 L168.80,105.21 L170.80,105.82 L172.80,106.36 L174.80,106.87 L176.80,107.33 L178.80,107.77 L180.80,108.19 L182.80,108.58 L184.80,108.95 L186.80,109.28 L188.80,109.58 L190.80,109.85 L192.80,110.09 L194.80,110.31 L196.80,110.53 L198.80,110.75 L200.80,110.98 L202.80,111.20 L204.80,111.42 L206.80,111.63 L208.80,111.84 L210.80,112.06 L212.80,112.26 L214.80,112.47 L216.80,112.68 L218.80,112.89" fill="none" stroke="url(#g2)" stroke-width="0.3" opacity="0.15"/>
<path d="M42.80,54.51 L44.80,54.50 L46.80,54.50 L48.80,54.50 L50.80,54.51 L52.80,54.50 L54.80,54.48 L56.80,54.45 L58.80,54.40 L60.80,54.33 L62.80,54.23 L64.80,54.10 L66.80,53.94 L68.80,53.74 L70.80,53.52 L72.80,53.28 L74.80,53.02 L76.80,52.75 L78.80,52.47 L80.80,52.19 L82.80,51.90 L84.80,51.62 L86.80,51.34 L88.80,51.06 L90.80,50.79 L92.80,50.51 L94.80,50.22 L96.80,49.91 L98.80,49.60 L100.80,49.30 L102.80,49.00 L104.80,48.73 L106.80,48.48 L108.80,48.28 L110.80,48.15 L112.80,48.10 L114.80,48.14 L116.80,48.27 L118.80,48.49 L120.80,48.76 L122.80,49.05 L124.80,49.43 L126.80,49.94 L128.80,50.57 L130.80,51.25 L132.80,52.00 L134.80,52.80 L136.80,53.62 L138.80,54.44 L140.80,55.24 L142.80,56.02 L144.80,56.81 L146.80,57.60 L148.80,58.38 L150.80,59.17 L152.80,59.99 L154.80,60.73 L156.80,61.46 L158.80,62.10 L160.80,62.75 L162.80,63.10 L164.80,63.28 L166.80,63.39 L168.80,63.46 L170.80,63.52 L172.80,63.56 L174.80,63.58 L176.80,63.60 L178.80,63.61 L180.80,63.61 L182.80,63.60 L184.80,63.59 L186.80,63.56 L188.80,63.53 L190.80,63.48 L192.80,63.44 L194.80,63.38 L196.80,63.31 L198.80,63.22 L200.80,63.12 L202.80,62.99 L204.80,62.83 L206.80,62.60 L208.80,62.27 L210.80,61.78 L212.80,61.12 L214.80,60.36 L216.80,59.32 L218.80,58.06" fill="none" stroke="url(#g2)" stroke-width="0.3" opacity="0.3"/>
<path d="M42.80,55.06 L44.80,55.03 L46.80,55.03 L48.80,55.02 L50.80,55.01 L52.80,54.99 L54.80,54.96 L56.80,54.92 L58.80,54.86 L60.80,54.78 L62.80,54.67 L64.80,54.53 L66.80,54.35 L68.80,54.15 L70.80,53.91 L72.80,53.66 L74.80,53.40 L76.80,53.12 L78.80,52.84 L80.80,52.54 L82.80,52.25 L84.80,51.96 L86.80,51.67 L88.80,51.39 L90.80,51.11 L92.80,50.83 L94.80,50.53 L96.80,50.22 L98.80,49.91 L100.80,49.61 L102.80,49.31 L104.80,49.03 L106.80,48.79 L108.80,48.59 L110.80,48.47 L112.80,48.42 L114.80,48.47 L116.80,48.60 L118.80,48.83 L120.80,49.11 L122.80,49.41 L124.80,49.80 L126.80,50.33 L128.80,50.97 L130.80,51.65 L132.80,52.41 L134.80,53.22 L136.80,54.06 L138.80,54.89 L140.80,55.69 L142.80,56.49 L144.80,57.29 L146.80,58.08 L148.80,58.87 L150.80,59.66 L152.80,60.49 L154.80,61.14 L156.80,61.84 L158.80,62.46 L160.80,63.09 L162.80,63.43 L164.80,63.60 L166.80,63.70 L168.80,63.78 L170.80,63.83 L172.80,63.87 L174.80,63.89 L176.80,63.91 L178.80,63.92 L180.80,63.92 L182.80,63.91 L184.80,63.89 L186.80,63.87 L188.80,63.84 L190.80,63.80 L192.80,63.75 L194.80,63.69 L196.80,63.63 L198.80,63.54 L200.80,63.45 L202.80,63.32 L204.80,63.16 L206.80,62.94 L208.80,62.62 L210.80,62.15 L212.80,61.52 L214.80,60.78 L216.80,59.78 L218.80,58.56" fill="none" stroke="url(#g2)" stroke-width="0.3" opacity="0.3"/>
<path d="M42.80,55.69 L44.80,55.66 L46.80,55.64 L48.80,55.62 L50.80,55.59 L52.80,55.56 L54.80,55.52 L56.80,55.46 L58.80,55.39 L60.80,55.29 L62.80,55.17 L64.80,55.02 L66.80,54.83 L68.80,54.61 L70.80,54.37 L72.80,54.11 L74.80,53.83 L76.80,53.55 L78.80,53.25 L80.80,52.95 L82.80,52.65 L84.80,52.35 L86.80,52.05 L88.80,51.77 L90.80,51.49 L92.80,51.20 L94.80,50.89 L96.80,50.58 L98.80,50.27 L100.80,49.96 L102.80,49.66 L104.80,49.39 L106.80,49.14 L108.80,48.95 L110.80,48.83 L112.80,48.79 L114.80,48.84 L116.80,48.99 L118.80,49.22 L120.80,49.51 L122.80,49.83 L124.80,50.23 L126.80,50.77 L128.80,51.42 L130.80,52.12 L132.80,52.89 L134.80,53.72 L136.80,54.56 L138.80,55.41 L140.80,56.22 L142.80,57.03 L144.80,57.83 L146.80,58.64 L148.80,59.43 L150.80,60.23 L152.80,61.06 L154.80,61.61 L156.80,62.29 L158.80,62.88 L160.80,63.48 L162.80,63.80 L164.80,63.97 L166.80,64.07 L168.80,64.14 L170.80,64.19 L172.80,64.22 L174.80,64.25 L176.80,64.27 L178.80,64.27 L180.80,64.27 L182.80,64.27 L184.80,64.25 L186.80,64.23 L188.80,64.19 L190.80,64.16 L192.80,64.11 L194.80,64.06 L196.80,63.99 L198.80,63.92 L200.80,63.82 L202.80,63.70 L204.80,63.55 L206.80,63.34 L208.80,63.03 L210.80,62.59 L212.80,61.98 L214.80,61.27 L216.80,60.32 L218.80,59.15" fill="none" stroke="url(#g2)" stroke-width="0.3" opacity="0.3"/>
<path d="M42.80,56.54 L44.80,56.48 L46.80,56.45 L48.80,56.41 L50.80,56.37 L52.80,56.32 L54.80,56.26 L56.80,56.18 L58.80,56.09 L60.80,55.98 L62.80,55.84 L64.80,55.67 L66.80,55.47 L68.80,55.24 L70.80,54.98 L72.80,54.71 L74.80,54.42 L76.80,54.12 L78.80,53.81 L80.80,53.49 L82.80,53.18 L84.80,52.87 L86.80,52.57 L88.80,52.27 L90.80,51.98 L92.80,51.69 L94.80,51.38 L96.80,51.06 L98.80,50.74 L100.80,50.43 L102.80,50.13 L104.80,49.86 L106.80,49.62 L108.80,49.43 L110.80,49.32 L112.80,49.29 L114.80,49.35 L116.80,49.50 L118.80,49.75 L120.80,50.05 L122.80,50.38 L124.80,50.80 L126.80,51.36 L128.80,52.03 L130.80,52.74 L132.80,53.53 L134.80,54.38 L136.80,55.24 L138.80,56.10 L140.80,56.93 L142.80,57.75 L144.80,58.56 L146.80,59.38 L148.80,60.19 L150.80,60.99 L152.80,61.83 L154.80,62.25 L156.80,62.88 L158.80,63.43 L160.80,64.00 L162.80,64.30 L164.80,64.46 L166.80,64.55 L168.80,64.62 L170.80,64.66 L172.80,64.70 L174.80,64.72 L176.80,64.74 L178.80,64.75 L180.80,64.75 L182.80,64.74 L184.80,64.72 L186.80,64.70 L188.80,64.67 L190.80,64.64 L192.80,64.59 L194.80,64.54 L196.80,64.48 L198.80,64.41 L200.80,64.32 L202.80,64.21 L204.80,64.07 L206.80,63.87 L208.80,63.58 L210.80,63.16 L212.80,62.59 L214.80,61.93 L216.80,61.03 L218.80,59.93" fill="none" stroke="url(#g2)" stroke-width="0.3" opacity="0.3"/>
<path d="M42.80,57.60 L44.80,57.52 L46.80,57.46 L48.80,57.40 L50.80,57.34 L52.80,57.27 L54.80,57.18 L56.80,57.09 L58.80,56.97 L60.80,56.84 L62.80,56.68 L64.80,56.49 L66.80,56.27 L68.80,56.02 L70.80,55.74 L72.80,55.45 L74.80,55.14 L76.80,54.83 L78.80,54.50 L80.80,54.17 L82.80,53.85 L84.80,53.52 L86.80,53.21 L88.80,52.90 L90.80,52.60 L92.80,52.30 L94.80,51.98 L96.80,51.66 L98.80,51.34 L100.80,51.02 L102.80,50.72 L104.80,50.45 L106.80,50.21 L108.80,50.03 L110.80,49.93 L112.80,49.91 L114.80,49.98 L116.80,50.15 L118.80,50.41 L120.80,50.73 L122.80,51.08 L124.80,51.52 L126.80,52.10 L128.80,52.79 L130.80,53.53 L132.80,54.34 L134.80,55.20 L136.80,56.08 L138.80,56.96 L140.80,57.81 L142.80,58.65 L144.80,59.48 L146.80,60.30 L148.80,61.12 L150.80,61.94 L152.80,62.78 L154.80,63.04 L156.80,63.62 L158.80,64.13 L160.80,64.65 L162.80,64.93 L164.80,65.07 L166.80,65.16 L168.80,65.22 L170.80,65.26 L172.80,65.29 L174.80,65.32 L176.80,65.33 L178.80,65.34 L180.80,65.34 L182.80,65.33 L184.80,65.32 L186.80,65.30 L188.80,65.27 L190.80,65.24 L192.80,65.20 L194.80,65.15 L196.80,65.09 L198.80,65.03 L200.80,64.95 L202.80,64.84 L204.80,64.71 L206.80,64.53 L208.80,64.26 L210.80,63.88 L212.80,63.35 L214.80,62.74 L216.80,61.92 L218.80,60.91" fill="none" stroke="url(#g2)" stroke-width="0.3" opacity="0.3"/>
<path d="M42.80,95.79 L44.80,94.94 L46.80,94.10 L48.80,93.25 L50.80,92.39 L52.80,91.53 L54.80,90.65 L56.80,89.74 L58.80,88.82 L60.80,87.89 L62.80,86.96 L64.80,86.03 L66.80,85.10 L68.80,84.18 L70.80,83.27 L72.80,82.34 L74.80,81.41 L76.80,80.48 L78.80,79.56 L80.80,78.68 L82.80,77.85 L84.80,77.06 L86.80,76.34 L88.80,75.65 L90.80,75.00 L92.80,74.39 L94.80,73.81 L96.80,73.27 L98.80,72.78 L100.80,72.36 L102.80,72.00 L104.80,71.75 L106.80,71.64 L108.80,71.71 L110.80,71.91 L112.80,72.26 L114.80,72.74 L116.80,73.37 L118.80,74.15 L120.80,75.07 L122.80,76.19 L124.80,77.45 L126.80,78.83 L128.80,80.26 L130.80,81.72 L132.80,83.28 L134.80,84.93 L136.80,86.58 L138.80,88.17 L140.80,89.66 L142.80,91.08 L144.80,92.45 L146.80,93.76 L148.80,95.02 L150.80,96.22 L152.80,97.36 L154.80,98.45 L156.80,99.50 L158.80,100.50 L160.80,101.46 L162.80,102.41 L164.80,103.31 L166.80,104.12 L168.80,104.83 L170.80,105.44 L172.80,105.99 L174.80,106.50 L176.80,106.97 L178.80,107.42 L180.80,107.83 L182.80,108.23 L184.80,108.60 L186.80,108.94 L188.80,109.23 L190.80,109.50 L192.80,109.74 L194.80,109.96 L196.80,110.18 L198.80,110.40 L200.80,110.63 L202.80,110.85 L204.80,111.06 L206.80,111.28 L208.80,111.49 L210.80,111.70 L212.80,111.90 L214.80,112.11 L216.80,112.31 L218.80,112.52" fill="none" stroke="url(#g2)" stroke-width="0.3" opacity="0.3"/>
<path d="M42.80,95.24 L44.80,94.41 L46.80,93.57 L48.80,92.73 L50.80,91.89 L52.80,91.03 L54.80,90.16 L56.80,89.27 L58.80,88.37 L60.80,87.45 L62.80,86.52 L64.80,85.60 L66.80,84.68 L68.80,83.77 L70.80,82.87 L72.80,81.95 L74.80,81.03 L76.80,80.11 L78.80,79.20 L80.80,78.33 L82.80,77.50 L84.80,76.73 L86.80,76.01 L88.80,75.32 L90.80,74.68 L92.80,74.07 L94.80,73.49 L96.80,72.96 L98.80,72.47 L100.80,72.05 L102.80,71.69 L104.80,71.44 L106.80,71.33 L108.80,71.39 L110.80,71.59 L112.80,71.93 L114.80,72.41 L116.80,73.04 L118.80,73.81 L120.80,74.72 L122.80,75.82 L124.80,77.08 L126.80,78.44 L128.80,79.87 L130.80,81.31 L132.80,82.87 L134.80,84.50 L136.80,86.14 L138.80,87.72 L140.80,89.20 L142.80,90.61 L144.80,91.97 L146.80,93.28 L148.80,94.53 L150.80,95.73 L152.80,96.86 L154.80,97.96 L156.80,99.02 L158.80,100.04 L160.80,101.01 L162.80,101.96 L164.80,102.87 L166.80,103.68 L168.80,104.40 L170.80,105.02 L172.80,105.57 L174.80,106.09 L176.80,106.56 L178.80,107.01 L180.80,107.43 L182.80,107.83 L184.80,108.20 L186.80,108.54 L188.80,108.84 L190.80,109.11 L192.80,109.35 L194.80,109.57 L196.80,109.79 L198.80,110.01 L200.80,110.23 L202.80,110.45 L204.80,110.67 L206.80,110.88 L208.80,111.08 L210.80,111.29 L212.80,111.49 L214.80,111.70 L216.80,111.90 L218.80,112.10" fill="none" stroke="url(#g2)" stroke-width="0.3" opacity="0.3"/>
<path d="M42.80,94.61 L44.80,93.78 L46.80,92.96 L48.80,92.14 L50.80,91.31 L52.80,90.46 L54.80,89.61 L56.80,88.73 L58.80,87.84 L60.80,86.93 L62.80,86.02 L64.80,85.11 L66.80,84.20 L68.80,83.30 L70.80,82.41 L72.80,81.51 L74.80,80.59 L76.80,79.68 L78.80,78.79 L80.80,77.92 L82.80,77.10 L84.80,76.33 L86.80,75.62 L88.80,74.95 L90.80,74.31 L92.80,73.70 L94.80,73.13 L96.80,72.60 L98.80,72.11 L100.80,71.69 L102.80,71.34 L104.80,71.09 L106.80,70.98 L108.80,71.03 L110.80,71.23 L112.80,71.56 L114.80,72.04 L116.80,72.65 L118.80,73.41 L120.80,74.32 L122.80,75.41 L124.80,76.65 L126.80,78.00 L128.80,79.41 L130.80,80.84 L132.80,82.39 L134.80,84.00 L136.80,85.63 L138.80,87.21 L140.80,88.67 L142.80,90.07 L144.80,91.42 L146.80,92.72 L148.80,93.97 L150.80,95.16 L152.80,96.29 L154.80,97.39 L156.80,98.47 L158.80,99.50 L160.80,100.49 L162.80,101.45 L164.80,102.36 L166.80,103.18 L168.80,103.90 L170.80,104.53 L172.80,105.09 L174.80,105.61 L176.80,106.09 L178.80,106.55 L180.80,106.97 L182.80,107.37 L184.80,107.75 L186.80,108.09 L188.80,108.39 L190.80,108.66 L192.80,108.90 L194.80,109.12 L196.80,109.34 L198.80,109.56 L200.80,109.78 L202.80,110.00 L204.80,110.21 L206.80,110.41 L208.80,110.62 L210.80,110.82 L212.80,111.02 L214.80,111.22 L216.80,111.42 L218.80,111.62" fill="none" stroke="url(#g2)" stroke-width="0.3" opacity="0.3"/>
<path d="M42.80,93.76 L44.80,92.96 L46.80,92.15 L48.80,91.34 L50.80,90.53 L52.80,89.71 L54.80,88.87 L56.80,88.01 L58.80,87.13 L60.80,86.24 L62.80,85.35 L64.80,84.46 L66.80,83.57 L68.80,82.68 L70.80,81.80 L72.80,80.91 L74.80,80.01 L76.80,79.12 L78.80,78.23 L80.80,77.38 L82.80,76.57 L84.80,75.81 L86.80,75.11 L88.80,74.44 L90.80,73.81 L92.80,73.21 L94.80,72.65 L96.80,72.12 L98.80,71.64 L100.80,71.22 L102.80,70.87 L104.80,70.62 L106.80,70.50 L108.80,70.55 L110.80,70.74 L112.80,71.07 L114.80,71.53 L116.80,72.14 L118.80,72.89 L120.80,73.78 L122.80,74.85 L124.80,76.08 L126.80,77.41 L128.80,78.80 L130.80,80.22 L132.80,81.75 L134.80,83.35 L136.80,84.96 L138.80,86.51 L140.80,87.97 L142.80,89.35 L144.80,90.69 L146.80,91.98 L148.80,93.22 L150.80,94.40 L152.80,95.52 L154.80,96.63 L156.80,97.74 L158.80,98.79 L160.80,99.79 L162.80,100.76 L164.80,101.68 L166.80,102.51 L168.80,103.24 L170.80,103.88 L172.80,104.45 L174.80,104.97 L176.80,105.46 L178.80,105.92 L180.80,106.35 L182.80,106.76 L184.80,107.14 L186.80,107.48 L188.80,107.78 L190.80,108.05 L192.80,108.30 L194.80,108.52 L196.80,108.74 L198.80,108.96 L200.80,109.17 L202.80,109.39 L204.80,109.59 L206.80,109.80 L208.80,110.00 L210.80,110.20 L212.80,110.39 L214.80,110.59 L216.80,110.79 L218.80,110.98" fill="none" stroke="url(#g2)" stroke-width="0.3" opacity="0.3"/>
<path d="M42.80,92.70 L44.80,91.92 L46.80,91.14 L48.80,90.35 L50.80,89.56 L52.80,88.76 L54.80,87.94 L56.80,87.10 L58.80,86.25 L60.80,85.38 L62.80,84.51 L64.80,83.64 L66.80,82.77 L68.80,81.90 L70.80,81.04 L72.80,80.17 L74.80,79.28 L76.80,78.40 L78.80,77.54 L80.80,76.70 L82.80,75.91 L84.80,75.16 L86.80,74.47 L88.80,73.81 L90.80,73.19 L92.80,72.60 L94.80,72.04 L96.80,71.52 L98.80,71.05 L100.80,70.63 L102.80,70.28 L104.80,70.03 L106.80,69.91 L108.80,69.95 L110.80,70.13 L112.80,70.45 L114.80,70.90 L116.80,71.50 L118.80,72.23 L120.80,73.10 L122.80,74.16 L124.80,75.36 L126.80,76.67 L128.80,78.04 L130.80,79.44 L132.80,80.94 L134.80,82.52 L136.80,84.11 L138.80,85.65 L140.80,87.09 L142.80,88.46 L144.80,89.78 L146.80,91.05 L148.80,92.28 L150.80,93.45 L152.80,94.56 L154.80,95.68 L156.80,96.82 L158.80,97.89 L160.80,98.92 L162.80,99.91 L164.80,100.84 L166.80,101.68 L168.80,102.42 L170.80,103.06 L172.80,103.64 L174.80,104.18 L176.80,104.68 L178.80,105.15 L180.80,105.58 L182.80,105.99 L184.80,106.37 L186.80,106.72 L188.80,107.03 L190.80,107.30 L192.80,107.55 L194.80,107.78 L196.80,107.99 L198.80,108.20 L200.80,108.42 L202.80,108.63 L204.80,108.83 L206.80,109.03 L208.80,109.22 L210.80,109.42 L212.80,109.61 L214.80,109.80 L216.80,109.99 L218.80,110.18" fill="none" stroke="url(#g2)" stroke-width="0.3" opacity="0.3"/>
<path d="M150.00,59.36 L152.00,60.10 L154.00,60.87 L156.00,61.60 L158.00,62.24 L160.00,62.88 L162.00,63.35 L164.00,63.57 L166.00,63.69 L168.00,63.77 L170.00,63.83 L172.00,63.88 L174.00,63.91 L176.00,63.93 L178.00,63.94 L180.00,63.94 L182.00,63.94 L184.00,63.93 L186.00,63.90 L188.00,63.87 L190.00,63.84 L192.00,63.79 L194.00,63.74 L196.00,63.68 L198.00,63.60 L200.00,63.51 L202.00,63.40 L204.00,63.26 L206.00,63.07 L208.00,62.79 L210.00,62.39 L212.00,61.82 L214.00,61.13 L216.00,60.25 L218.00,59.11" fill="none" stroke="url(#g4)" stroke-width="0.45" opacity="0.5"/>
<path d="M150.00,60.32 L152.00,61.01 L154.00,61.71 L156.00,62.39 L158.00,62.98 L160.00,63.58 L162.00,64.01 L164.00,64.21 L166.00,64.32 L168.00,64.40 L170.00,64.45 L172.00,64.50 L174.00,64.52 L176.00,64.54 L178.00,64.55 L180.00,64.56 L182.00,64.55 L184.00,64.54 L186.00,64.52 L188.00,64.49 L190.00,64.46 L192.00,64.42 L194.00,64.37 L196.00,64.31 L198.00,64.24 L200.00,64.16 L202.00,64.06 L204.00,63.92 L206.00,63.75 L208.00,63.49 L210.00,63.12 L212.00,62.59 L214.00,61.95 L216.00,61.14 L218.00,60.08" fill="none" stroke="url(#g4)" stroke-width="0.45" opacity="0.4"/>
<path d="M150.00,61.41 L152.00,62.04 L154.00,62.68 L156.00,63.30 L158.00,63.83 L160.00,64.37 L162.00,64.76 L164.00,64.94 L166.00,65.05 L168.00,65.12 L170.00,65.17 L172.00,65.20 L174.00,65.23 L176.00,65.25 L178.00,65.26 L180.00,65.26 L182.00,65.26 L184.00,65.24 L186.00,65.23 L188.00,65.20 L190.00,65.17 L192.00,65.13 L194.00,65.09 L196.00,65.04 L198.00,64.97 L200.00,64.90 L202.00,64.80 L204.00,64.68 L206.00,64.52 L208.00,64.29 L210.00,63.96 L212.00,63.48 L214.00,62.90 L216.00,62.16 L218.00,61.20" fill="none" stroke="url(#g4)" stroke-width="0.45" opacity="0.3"/>
<path d="M150.00,62.51 L152.00,63.07 L154.00,63.65 L156.00,64.20 L158.00,64.68 L160.00,65.16 L162.00,65.51 L164.00,65.68 L166.00,65.77 L168.00,65.83 L170.00,65.88 L172.00,65.91 L174.00,65.93 L176.00,65.95 L178.00,65.96 L180.00,65.96 L182.00,65.96 L184.00,65.95 L186.00,65.93 L188.00,65.91 L190.00,65.88 L192.00,65.85 L194.00,65.81 L196.00,65.76 L198.00,65.70 L200.00,65.64 L202.00,65.55 L204.00,65.45 L206.00,65.30 L208.00,65.09 L210.00,64.79 L212.00,64.36 L214.00,63.84 L216.00,63.18 L218.00,62.32" fill="none" stroke="url(#g4)" stroke-width="0.45" opacity="0.19999999999999996"/>
<path d="M42.80,54.00 L43.57,53.99 L44.49,54.00 L45.55,54.00 L46.72,54.01 L48.00,54.02 L49.38,54.03 L50.83,54.04 L52.34,54.04 L53.90,54.04 L55.49,54.03 L57.11,54.01 L58.73,53.98 L60.35,53.93 L61.94,53.87 L63.49,53.80 L65.00,53.70 L66.49,53.58 L68.03,53.44 L69.59,53.29 L71.17,53.11 L72.77,52.92 L74.39,52.73 L76.01,52.52 L77.64,52.30 L79.26,52.08 L80.87,51.86 L82.46,51.63 L84.04,51.41 L85.58,51.20 L87.10,50.99 L88.57,50.79 L90.00,50.60 L91.40,50.41 L92.79,50.22 L94.17,50.02 L95.54,49.82 L96.89,49.61 L98.22,49.41 L99.53,49.21 L100.81,49.01 L102.07,48.82 L103.31,48.65 L104.51,48.48 L105.68,48.33 L106.82,48.19 L107.92,48.07 L108.98,47.97 L110.00,47.90 L110.98,47.85 L111.91,47.82 L112.80,47.80 L113.66,47.81 L114.48,47.82 L115.26,47.86 L116.02,47.90 L116.75,47.96 L117.46,48.02 L118.14,48.09 L118.81,48.17 L119.47,48.25 L120.11,48.34 L120.75,48.43 L121.37,48.51 L122.00,48.60 L122.61,48.69 L123.18,48.77 L123.72,48.87 L124.23,48.96 L124.73,49.07 L125.21,49.17 L125.67,49.28" fill="none" stroke="url(#g3)" stroke-width="1.7" stroke-linecap="round"/>
<path d="M124.23,48.96 L124.73,49.07 L125.21,49.17 L125.67,49.28 L126.12,49.40 L126.58,49.52 L127.03,49.65 L127.49,49.79 L127.95,49.94 L128.43,50.09 L128.93,50.25 L129.45,50.42 L130.00,50.60 L130.57,50.79 L131.15,51.00 L131.75,51.21 L132.36,51.44 L132.98,51.68 L133.60,51.92 L134.24,52.17 L134.88,52.43 L135.52,52.69 L136.16,52.95 L136.81,53.22 L137.45,53.48 L138.10,53.74 L138.74,54.00 L139.37,54.25 L140.00,54.50 L140.63,54.75 L141.26,54.99 L141.90,55.24 L142.55,55.49 L143.19,55.75 L143.84,56.00 L144.48,56.25 L145.12,56.50 L145.76,56.75 L146.40,57.00 L147.02,57.24 L147.64,57.48 L148.25,57.72 L148.85,57.95 L149.43,58.18 L150.00,58.40 L150.56,58.62 L151.10,58.84 L151.64,59.05 L152.16,59.27 L152.68,59.48 L153.19,59.69 L153.69,59.90 L154.19,60.10 L154.68,60.30 L155.16,60.49 L155.64,60.68 L156.12,60.86 L156.59,61.03 L157.06,61.19 L157.53,61.35 L158.00,61.50 L158.44,61.64 L158.83,61.77 L159.19,61.90 L159.52,62.02 L159.82,62.13 L160.13,62.23 L160.43,62.33 L160.75,62.43 L161.09,62.51 L161.47,62.60 L161.89,62.67 L162.36,62.75 L162.90,62.82 L163.51,62.88 L164.21,62.94 L165.00,63.00 L165.89,63.05 L166.88,63.10 L167.95,63.15 L169.09,63.19 L170.29,63.22 L171.55,63.25 L172.85,63.27 L174.19,63.29 L175.55,63.31 L176.93,63.32 L178.31,63.33 L179.70,63.33 L181.06,63.33 L182.41,63.32 L183.73,63.31 L185.00,63.30 L186.27,63.28 L187.58,63.26 L188.91,63.24 L190.26,63.21 L191.62,63.18 L192.98,63.14 L194.34,63.10 L195.69,63.06 L197.01,63.01 L198.31,62.95 L199.56,62.89 L200.77,62.82 L201.93,62.75 L203.03,62.67 L204.05,62.59 L205.00,62.50 L205.87,62.40 L206.67,62.30 L207.42,62.19 L208.10,62.07 L208.74,61.95 L209.33,61.83 L209.88,61.69 L210.39,61.56 L210.88,61.41 L211.35,61.27 L211.80,61.12 L212.24,60.96 L212.67,60.80 L213.11,60.64 L213.55,60.47 L214.00,60.30 L214.46,60.12 L214.91,59.92 L215.35,59.70 L215.79,59.47 L216.22,59.24 L216.63,59.00 L217.03,58.75 L217.41,58.51 L217.78,58.27 L218.12,58.04 L218.45,57.82 L218.75,57.62 L219.03,57.43 L219.28,57.26 L219.51,57.12 L219.70,57.00" fill="none" stroke="url(#g3)" stroke-width="1.15" stroke-linecap="round"/>
<path d="M42.80,96.30 C44.83,95.42 50.47,93.05 55.00,91.00 C59.53,88.95 65.00,86.28 70.00,84.00 C75.00,81.72 80.00,79.17 85.00,77.30 C90.00,75.43 95.83,73.67 100.00,72.80 C104.17,71.93 106.67,71.73 110.00,72.10 C113.33,72.47 116.67,73.43 120.00,75.00 C123.33,76.57 126.67,79.08 130.00,81.50 C133.33,83.92 136.67,87.05 140.00,89.50 C143.33,91.95 146.67,94.20 150.00,96.20 C153.33,98.20 156.67,99.93 160.00,101.50 C163.33,103.07 165.83,104.35 170.00,105.60 C174.17,106.85 180.00,108.12 185.00,109.00 C190.00,109.88 194.22,110.23 200.00,110.90 C205.78,111.57 216.42,112.65 219.70,113.00" fill="none" stroke="url(#g5)" stroke-width="1.7"/>
<path d="M154.00,74.30 C154.50,74.75 155.67,75.92 157.00,77.00 C158.33,78.08 159.83,79.47 162.00,80.80 C164.17,82.13 167.00,83.70 170.00,85.00 C173.00,86.30 176.67,87.63 180.00,88.60 C183.33,89.57 186.67,90.25 190.00,90.80 C193.33,91.35 195.05,91.57 200.00,91.90 C204.95,92.23 216.42,92.65 219.70,92.80" fill="none" stroke="#c0e6f8" stroke-width="0.5"/>
<path d="M219.7,72.1 L160,72.1 L154,74.3" fill="none" stroke="#c0e6f8" stroke-width="0.5"/>
<path d="M291.10,96.30 C293.13,95.42 298.77,93.05 303.30,91.00 C307.83,88.95 313.30,86.28 318.30,84.00 C323.30,81.72 328.30,79.17 333.30,77.30 C338.30,75.43 344.13,73.63 348.30,72.80 C352.47,71.97 354.97,71.90 358.30,72.30 C361.63,72.70 364.97,73.42 368.30,75.20 C371.63,76.98 374.13,79.87 378.30,83.00 C382.47,86.13 388.30,91.08 393.30,94.00 C398.30,96.92 402.47,98.32 408.30,100.50 C414.13,102.68 421.63,105.15 428.30,107.10 C434.97,109.05 441.72,111.10 448.30,112.20 C454.88,113.30 464.55,113.45 467.80,113.70" fill="none" stroke="#ebebeb" stroke-width="0.5"/>
<path d="M400.30,74.20 C401.13,74.75 403.13,76.18 405.30,77.50 C407.47,78.82 409.47,80.67 413.30,82.10 C417.13,83.53 422.47,85.00 428.30,86.10 C434.13,87.20 441.72,88.18 448.30,88.70 C454.88,89.22 464.55,89.12 467.80,89.20 L467.80,113.70" fill="none" stroke="#ebebeb" stroke-width="0.5"/>
<path d="M346.30,43.20 C349.97,42.95 361.30,41.75 368.30,41.70 C375.30,41.65 383.30,42.38 388.30,42.90 C393.30,43.42 394.97,44.22 398.30,44.80 C401.63,45.38 404.97,46.10 408.30,46.40 C411.63,46.70 408.38,46.57 418.30,46.60 C428.22,46.63 459.55,46.60 467.80,46.60 L467.80,57.00" fill="none" stroke="#ebebeb" stroke-width="0.5"/>
<path d="M291.00,54.00 C294.17,53.93 303.50,53.75 310.00,53.60 C316.50,53.45 323.33,53.55 330.00,53.10 C336.67,52.65 344.17,51.42 350.00,50.90 C355.83,50.38 360.83,50.08 365.00,50.00 C369.17,49.92 372.00,50.02 375.00,50.40 C378.00,50.78 380.17,51.53 383.00,52.30 C385.83,53.07 389.17,54.00 392.00,55.00 C394.83,56.00 397.50,57.27 400.00,58.30 C402.50,59.33 404.50,60.42 407.00,61.20 C409.50,61.98 411.17,62.70 415.00,63.00 C418.83,63.30 424.17,63.18 430.00,63.00 C435.83,62.82 445.00,62.23 450.00,61.90 C455.00,61.57 457.00,61.35 460.00,61.00 C463.00,60.65 466.67,60.00 468.00,59.80 L468,72 L410,72 L402.6,73 L402.60,73.00 C403.83,73.82 407.10,75.97 410.00,77.90 C412.90,79.83 416.67,82.50 420.00,84.60 C423.33,86.70 425.83,88.67 430.00,90.50 C434.17,92.33 438.67,94.35 445.00,95.60 C451.33,96.85 464.17,97.60 468.00,98.00 L468,104.8 L468.00,104.80 C464.17,104.10 451.33,102.00 445.00,100.60 C438.67,99.20 434.17,97.80 430.00,96.40 C425.83,95.00 423.33,93.88 420.00,92.20 C416.67,90.52 413.33,88.42 410.00,86.30 C406.67,84.18 403.33,81.38 400.00,79.50 C396.67,77.62 393.33,76.32 390.00,75.00 C386.67,73.68 383.33,72.55 380.00,71.60 C376.67,70.65 373.33,69.77 370.00,69.30 C366.67,68.83 363.33,68.68 360.00,68.80 C356.67,68.92 353.33,69.42 350.00,70.00 C346.67,70.58 343.33,71.27 340.00,72.30 C336.67,73.33 333.33,74.83 330.00,76.20 C326.67,77.57 324.17,78.53 320.00,80.50 C315.83,82.47 309.83,85.35 305.00,88.00 C300.17,90.65 293.33,95.00 291.00,96.40 Z" fill="url(#g6)" stroke="none" stroke-width="1.0"/>
<path d="M291.00,54.02 L293.00,53.98 L295.00,53.94 L297.00,53.90 L299.00,53.85 L301.00,53.81 L303.00,53.77 L305.00,53.73 L307.00,53.68 L309.00,53.64 L311.00,53.59 L313.00,53.56 L315.00,53.54 L317.00,53.51 L319.00,53.49 L321.00,53.46 L323.00,53.42 L325.00,53.36 L327.00,53.28 L329.00,53.17 L331.00,53.03 L333.00,52.86 L335.00,52.66 L337.00,52.44 L339.00,52.20 L341.00,51.95 L343.00,51.70 L345.00,51.45 L347.00,51.22 L349.00,51.01 L351.00,50.82 L353.00,50.66 L355.00,50.51 L357.00,50.37 L359.00,50.25 L361.00,50.14 L363.00,50.06 L365.00,50.01 L367.00,49.98 L369.00,50.00 L371.00,50.06 L373.00,50.20 L375.00,50.41 L377.00,50.74 L379.00,51.20 L381.00,51.75 L383.00,52.31 L385.00,52.86 L387.00,53.43 L389.00,54.02 L391.00,54.67 L393.00,55.38 L395.00,56.17 L397.00,57.02 L399.00,57.89 L401.00,58.74 L403.00,59.63 L405.00,60.49 L407.00,61.21 L409.00,61.85 L411.00,62.41 L413.00,62.79 L415.00,63.01 L417.00,63.12 L419.00,63.18 L421.00,63.19 L423.00,63.18 L425.00,63.14 L427.00,63.09 L429.00,63.04 L431.00,62.97 L433.00,62.89 L435.00,62.80 L437.00,62.70 L439.00,62.59 L441.00,62.47 L443.00,62.35 L445.00,62.23 L447.00,62.10 L449.00,61.97 L451.00,61.84 L453.00,61.69 L455.00,61.53 L457.00,61.34 L459.00,61.12 L461.00,60.88 L463.00,60.60 L465.00,60.29 L467.00,59.97" fill="none" stroke="url(#g7)" stroke-width="0.3" opacity="0.15"/>
<path d="M291.00,54.18 L293.00,54.14 L295.00,54.09 L297.00,54.04 L299.00,54.00 L301.00,53.95 L303.00,53.90 L305.00,53.86 L307.00,53.81 L309.00,53.76 L311.00,53.71 L313.00,53.68 L315.00,53.65 L317.00,53.62 L319.00,53.59 L321.00,53.56 L323.00,53.51 L325.00,53.45 L327.00,53.37 L329.00,53.26 L331.00,53.12 L333.00,52.95 L335.00,52.74 L337.00,52.52 L339.00,52.27 L341.00,52.02 L343.00,51.77 L345.00,51.53 L347.00,51.29 L349.00,51.08 L351.00,50.89 L353.00,50.73 L355.00,50.58 L357.00,50.44 L359.00,50.32 L361.00,50.22 L363.00,50.13 L365.00,50.08 L367.00,50.06 L369.00,50.07 L371.00,50.13 L373.00,50.27 L375.00,50.48 L377.00,50.81 L379.00,51.28 L381.00,51.83 L383.00,52.39 L385.00,52.94 L387.00,53.50 L389.00,54.10 L391.00,54.75 L393.00,55.46 L395.00,56.25 L397.00,57.10 L399.00,57.97 L401.00,58.82 L403.00,59.71 L405.00,60.56 L407.00,61.27 L409.00,61.91 L411.00,62.47 L413.00,62.84 L415.00,63.06 L417.00,63.18 L419.00,63.23 L421.00,63.24 L423.00,63.23 L425.00,63.20 L427.00,63.15 L429.00,63.09 L431.00,63.03 L433.00,62.95 L435.00,62.85 L437.00,62.75 L439.00,62.64 L441.00,62.53 L443.00,62.41 L445.00,62.29 L447.00,62.16 L449.00,62.03 L451.00,61.90 L453.00,61.76 L455.00,61.60 L457.00,61.41 L459.00,61.19 L461.00,60.95 L463.00,60.67 L465.00,60.36 L467.00,60.04" fill="none" stroke="url(#g7)" stroke-width="0.3" opacity="0.15"/>
<path d="M291.00,54.50 L293.00,54.45 L295.00,54.39 L297.00,54.34 L299.00,54.28 L301.00,54.23 L303.00,54.17 L305.00,54.12 L307.00,54.06 L309.00,54.01 L311.00,53.95 L313.00,53.91 L315.00,53.87 L317.00,53.84 L319.00,53.80 L321.00,53.76 L323.00,53.71 L325.00,53.64 L327.00,53.55 L329.00,53.44 L331.00,53.29 L333.00,53.11 L335.00,52.91 L337.00,52.67 L339.00,52.43 L341.00,52.18 L343.00,51.92 L345.00,51.67 L347.00,51.44 L349.00,51.22 L351.00,51.04 L353.00,50.87 L355.00,50.72 L357.00,50.58 L359.00,50.46 L361.00,50.36 L363.00,50.28 L365.00,50.22 L367.00,50.20 L369.00,50.21 L371.00,50.28 L373.00,50.42 L375.00,50.64 L377.00,50.97 L379.00,51.43 L381.00,51.98 L383.00,52.54 L385.00,53.09 L387.00,53.66 L389.00,54.26 L391.00,54.90 L393.00,55.61 L395.00,56.41 L397.00,57.26 L399.00,58.13 L401.00,58.98 L403.00,59.86 L405.00,60.70 L407.00,61.40 L409.00,62.04 L411.00,62.59 L413.00,62.95 L415.00,63.17 L417.00,63.28 L419.00,63.34 L421.00,63.35 L423.00,63.34 L425.00,63.30 L427.00,63.26 L429.00,63.20 L431.00,63.14 L433.00,63.06 L435.00,62.97 L437.00,62.87 L439.00,62.76 L441.00,62.65 L443.00,62.53 L445.00,62.41 L447.00,62.28 L449.00,62.16 L451.00,62.02 L453.00,61.88 L455.00,61.72 L457.00,61.54 L459.00,61.32 L461.00,61.09 L463.00,60.81 L465.00,60.51 L467.00,60.19" fill="none" stroke="url(#g7)" stroke-width="0.3" opacity="0.15"/>
<path d="M291.00,54.98 L293.00,54.91 L295.00,54.84 L297.00,54.78 L299.00,54.71 L301.00,54.64 L303.00,54.57 L305.00,54.50 L307.00,54.44 L309.00,54.37 L311.00,54.30 L313.00,54.25 L315.00,54.20 L317.00,54.16 L319.00,54.11 L321.00,54.06 L323.00,54.00 L325.00,53.92 L327.00,53.83 L329.00,53.70 L331.00,53.55 L333.00,53.36 L335.00,53.15 L337.00,52.91 L339.00,52.66 L341.00,52.40 L343.00,52.15 L345.00,51.89 L347.00,51.65 L349.00,51.44 L351.00,51.25 L353.00,51.08 L355.00,50.93 L357.00,50.79 L359.00,50.67 L361.00,50.57 L363.00,50.49 L365.00,50.44 L367.00,50.41 L369.00,50.43 L371.00,50.50 L373.00,50.64 L375.00,50.86 L377.00,51.19 L379.00,51.66 L381.00,52.21 L383.00,52.77 L385.00,53.32 L387.00,53.89 L389.00,54.49 L391.00,55.14 L393.00,55.85 L395.00,56.65 L397.00,57.50 L399.00,58.37 L401.00,59.22 L403.00,60.08 L405.00,60.91 L407.00,61.60 L409.00,62.22 L411.00,62.76 L413.00,63.12 L415.00,63.33 L417.00,63.44 L419.00,63.50 L421.00,63.51 L423.00,63.50 L425.00,63.46 L427.00,63.42 L429.00,63.36 L431.00,63.30 L433.00,63.22 L435.00,63.13 L437.00,63.03 L439.00,62.93 L441.00,62.82 L443.00,62.70 L445.00,62.59 L447.00,62.46 L449.00,62.34 L451.00,62.21 L453.00,62.07 L455.00,61.91 L457.00,61.73 L459.00,61.52 L461.00,61.29 L463.00,61.02 L465.00,60.72 L467.00,60.40" fill="none" stroke="url(#g7)" stroke-width="0.3" opacity="0.15"/>
<path d="M291.00,55.61 L293.00,55.53 L295.00,55.44 L297.00,55.36 L299.00,55.27 L301.00,55.18 L303.00,55.10 L305.00,55.02 L307.00,54.93 L309.00,54.85 L311.00,54.77 L313.00,54.70 L315.00,54.64 L317.00,54.58 L319.00,54.52 L321.00,54.46 L323.00,54.38 L325.00,54.29 L327.00,54.19 L329.00,54.05 L331.00,53.89 L333.00,53.69 L335.00,53.47 L337.00,53.22 L339.00,52.96 L341.00,52.70 L343.00,52.44 L345.00,52.19 L347.00,51.94 L349.00,51.73 L351.00,51.54 L353.00,51.37 L355.00,51.21 L357.00,51.07 L359.00,50.95 L361.00,50.84 L363.00,50.77 L365.00,50.72 L367.00,50.70 L369.00,50.72 L371.00,50.79 L373.00,50.93 L375.00,51.16 L377.00,51.49 L379.00,51.96 L381.00,52.51 L383.00,53.07 L385.00,53.62 L387.00,54.19 L389.00,54.80 L391.00,55.45 L393.00,56.16 L395.00,56.96 L397.00,57.81 L399.00,58.68 L401.00,59.54 L403.00,60.37 L405.00,61.18 L407.00,61.86 L409.00,62.46 L411.00,62.99 L413.00,63.34 L415.00,63.55 L417.00,63.66 L419.00,63.71 L421.00,63.72 L423.00,63.71 L425.00,63.67 L427.00,63.63 L429.00,63.58 L431.00,63.51 L433.00,63.44 L435.00,63.35 L437.00,63.26 L439.00,63.15 L441.00,63.05 L443.00,62.93 L445.00,62.82 L447.00,62.70 L449.00,62.58 L451.00,62.45 L453.00,62.31 L455.00,62.16 L457.00,61.98 L459.00,61.78 L461.00,61.55 L463.00,61.29 L465.00,61.00 L467.00,60.69" fill="none" stroke="url(#g7)" stroke-width="0.3" opacity="0.15"/>
<path d="M291.00,56.40 L293.00,56.29 L295.00,56.18 L297.00,56.07 L299.00,55.96 L301.00,55.86 L303.00,55.75 L305.00,55.65 L307.00,55.55 L309.00,55.45 L311.00,55.35 L313.00,55.26 L315.00,55.18 L317.00,55.11 L319.00,55.03 L321.00,54.95 L323.00,54.86 L325.00,54.75 L327.00,54.63 L329.00,54.49 L331.00,54.31 L333.00,54.10 L335.00,53.86 L337.00,53.61 L339.00,53.34 L341.00,53.07 L343.00,52.81 L345.00,52.55 L347.00,52.30 L349.00,52.08 L351.00,51.89 L353.00,51.71 L355.00,51.55 L357.00,51.41 L359.00,51.29 L361.00,51.19 L363.00,51.11 L365.00,51.06 L367.00,51.05 L369.00,51.07 L371.00,51.15 L373.00,51.30 L375.00,51.52 L377.00,51.86 L379.00,52.33 L381.00,52.88 L383.00,53.44 L385.00,54.00 L387.00,54.57 L389.00,55.18 L391.00,55.83 L393.00,56.54 L395.00,57.34 L397.00,58.20 L399.00,59.07 L401.00,59.93 L403.00,60.74 L405.00,61.52 L407.00,62.18 L409.00,62.76 L411.00,63.27 L413.00,63.61 L415.00,63.81 L417.00,63.92 L419.00,63.97 L421.00,63.98 L423.00,63.97 L425.00,63.94 L427.00,63.89 L429.00,63.84 L431.00,63.78 L433.00,63.71 L435.00,63.62 L437.00,63.53 L439.00,63.43 L441.00,63.33 L443.00,63.22 L445.00,63.11 L447.00,62.99 L449.00,62.87 L451.00,62.75 L453.00,62.62 L455.00,62.47 L457.00,62.30 L459.00,62.10 L461.00,61.88 L463.00,61.62 L465.00,61.34 L467.00,61.05" fill="none" stroke="url(#g7)" stroke-width="0.3" opacity="0.15"/>
<path d="M291.00,57.32 L293.00,57.19 L295.00,57.05 L297.00,56.92 L299.00,56.78 L301.00,56.65 L303.00,56.52 L305.00,56.40 L307.00,56.27 L309.00,56.15 L311.00,56.03 L313.00,55.92 L315.00,55.82 L317.00,55.73 L319.00,55.63 L321.00,55.53 L323.00,55.42 L325.00,55.30 L327.00,55.16 L329.00,55.00 L331.00,54.81 L333.00,54.58 L335.00,54.33 L337.00,54.06 L339.00,53.79 L341.00,53.51 L343.00,53.24 L345.00,52.97 L347.00,52.72 L349.00,52.50 L351.00,52.30 L353.00,52.12 L355.00,51.96 L357.00,51.82 L359.00,51.69 L361.00,51.59 L363.00,51.52 L365.00,51.47 L367.00,51.46 L369.00,51.49 L371.00,51.57 L373.00,51.72 L375.00,51.96 L377.00,52.30 L379.00,52.77 L381.00,53.32 L383.00,53.88 L385.00,54.44 L387.00,55.02 L389.00,55.63 L391.00,56.28 L393.00,57.00 L395.00,57.80 L397.00,58.65 L399.00,59.53 L401.00,60.40 L403.00,61.17 L405.00,61.92 L407.00,62.55 L409.00,63.12 L411.00,63.61 L413.00,63.93 L415.00,64.13 L417.00,64.23 L419.00,64.27 L421.00,64.29 L423.00,64.28 L425.00,64.25 L427.00,64.20 L429.00,64.15 L431.00,64.10 L433.00,64.03 L435.00,63.94 L437.00,63.86 L439.00,63.76 L441.00,63.66 L443.00,63.56 L445.00,63.45 L447.00,63.34 L449.00,63.22 L451.00,63.11 L453.00,62.98 L455.00,62.84 L457.00,62.67 L459.00,62.48 L461.00,62.27 L463.00,62.02 L465.00,61.75 L467.00,61.47" fill="none" stroke="url(#g7)" stroke-width="0.3" opacity="0.15"/>
<path d="M291.00,58.38 L293.00,58.22 L295.00,58.05 L297.00,57.89 L299.00,57.73 L301.00,57.57 L303.00,57.41 L305.00,57.25 L307.00,57.10 L309.00,56.96 L311.00,56.81 L313.00,56.68 L315.00,56.56 L317.00,56.44 L319.00,56.32 L321.00,56.19 L323.00,56.06 L325.00,55.92 L327.00,55.76 L329.00,55.58 L331.00,55.38 L333.00,55.14 L335.00,54.87 L337.00,54.59 L339.00,54.30 L341.00,54.01 L343.00,53.73 L345.00,53.46 L347.00,53.21 L349.00,52.98 L351.00,52.78 L353.00,52.60 L355.00,52.43 L357.00,52.28 L359.00,52.16 L361.00,52.06 L363.00,51.99 L365.00,51.95 L367.00,51.94 L369.00,51.97 L371.00,52.06 L373.00,52.22 L375.00,52.45 L377.00,52.80 L379.00,53.27 L381.00,53.82 L383.00,54.39 L385.00,54.95 L387.00,55.53 L389.00,56.14 L391.00,56.80 L393.00,57.52 L395.00,58.32 L397.00,59.18 L399.00,60.06 L401.00,60.93 L403.00,61.67 L405.00,62.38 L407.00,62.98 L409.00,63.52 L411.00,63.99 L413.00,64.30 L415.00,64.49 L417.00,64.58 L419.00,64.63 L421.00,64.64 L423.00,64.63 L425.00,64.60 L427.00,64.56 L429.00,64.51 L431.00,64.46 L433.00,64.39 L435.00,64.31 L437.00,64.23 L439.00,64.14 L441.00,64.04 L443.00,63.94 L445.00,63.84 L447.00,63.73 L449.00,63.62 L451.00,63.51 L453.00,63.39 L455.00,63.26 L457.00,63.10 L459.00,62.91 L461.00,62.71 L463.00,62.48 L465.00,62.22 L467.00,61.95" fill="none" stroke="url(#g7)" stroke-width="0.3" opacity="0.15"/>
<path d="M291.00,59.57 L293.00,59.37 L295.00,59.18 L297.00,58.98 L299.00,58.78 L301.00,58.59 L303.00,58.40 L305.00,58.21 L307.00,58.04 L309.00,57.86 L311.00,57.69 L313.00,57.53 L315.00,57.38 L317.00,57.23 L319.00,57.09 L321.00,56.94 L323.00,56.78 L325.00,56.62 L327.00,56.44 L329.00,56.24 L331.00,56.01 L333.00,55.76 L335.00,55.47 L337.00,55.17 L339.00,54.87 L341.00,54.57 L343.00,54.29 L345.00,54.01 L347.00,53.75 L349.00,53.52 L351.00,53.31 L353.00,53.13 L355.00,52.96 L357.00,52.81 L359.00,52.68 L361.00,52.58 L363.00,52.51 L365.00,52.47 L367.00,52.47 L369.00,52.51 L371.00,52.60 L373.00,52.77 L375.00,53.01 L377.00,53.36 L379.00,53.83 L381.00,54.39 L383.00,54.95 L385.00,55.52 L387.00,56.10 L389.00,56.72 L391.00,57.38 L393.00,58.10 L395.00,58.91 L397.00,59.76 L399.00,60.65 L401.00,61.53 L403.00,62.22 L405.00,62.90 L407.00,63.47 L409.00,63.98 L411.00,64.42 L413.00,64.72 L415.00,64.89 L417.00,64.98 L419.00,65.02 L421.00,65.04 L423.00,65.02 L425.00,65.00 L427.00,64.96 L429.00,64.92 L431.00,64.86 L433.00,64.80 L435.00,64.73 L437.00,64.65 L439.00,64.56 L441.00,64.47 L443.00,64.37 L445.00,64.28 L447.00,64.18 L449.00,64.07 L451.00,63.97 L453.00,63.85 L455.00,63.72 L457.00,63.57 L459.00,63.40 L461.00,63.21 L463.00,62.99 L465.00,62.75 L467.00,62.49" fill="none" stroke="url(#g7)" stroke-width="0.3" opacity="0.15"/>
<path d="M291.00,60.88 L293.00,60.64 L295.00,60.41 L297.00,60.18 L299.00,59.94 L301.00,59.72 L303.00,59.49 L305.00,59.27 L307.00,59.06 L309.00,58.86 L311.00,58.65 L313.00,58.47 L315.00,58.29 L317.00,58.11 L319.00,57.94 L321.00,57.76 L323.00,57.58 L325.00,57.39 L327.00,57.18 L329.00,56.96 L331.00,56.72 L333.00,56.44 L335.00,56.13 L337.00,55.82 L339.00,55.50 L341.00,55.19 L343.00,54.90 L345.00,54.61 L347.00,54.35 L349.00,54.11 L351.00,53.90 L353.00,53.71 L355.00,53.53 L357.00,53.38 L359.00,53.26 L361.00,53.16 L363.00,53.09 L365.00,53.05 L367.00,53.05 L369.00,53.10 L371.00,53.20 L373.00,53.37 L375.00,53.62 L377.00,53.98 L379.00,54.46 L381.00,55.01 L383.00,55.58 L385.00,56.14 L387.00,56.73 L389.00,57.36 L391.00,58.02 L393.00,58.75 L395.00,59.55 L397.00,60.41 L399.00,61.30 L401.00,62.19 L403.00,62.83 L405.00,63.47 L407.00,64.00 L409.00,64.48 L411.00,64.89 L413.00,65.17 L415.00,65.33 L417.00,65.42 L419.00,65.46 L421.00,65.47 L423.00,65.46 L425.00,65.43 L427.00,65.40 L429.00,65.36 L431.00,65.31 L433.00,65.25 L435.00,65.18 L437.00,65.10 L439.00,65.02 L441.00,64.94 L443.00,64.85 L445.00,64.76 L447.00,64.67 L449.00,64.57 L451.00,64.47 L453.00,64.36 L455.00,64.24 L457.00,64.10 L459.00,63.94 L461.00,63.76 L463.00,63.55 L465.00,63.32 L467.00,63.08" fill="none" stroke="url(#g7)" stroke-width="0.3" opacity="0.15"/>
<path d="M291.00,62.29 L293.00,62.02 L295.00,61.75 L297.00,61.47 L299.00,61.20 L301.00,60.93 L303.00,60.67 L305.00,60.42 L307.00,60.17 L309.00,59.93 L311.00,59.70 L313.00,59.48 L315.00,59.27 L317.00,59.06 L319.00,58.85 L321.00,58.65 L323.00,58.43 L325.00,58.22 L327.00,57.99 L329.00,57.75 L331.00,57.48 L333.00,57.18 L335.00,56.85 L337.00,56.52 L339.00,56.19 L341.00,55.86 L343.00,55.56 L345.00,55.26 L347.00,54.99 L349.00,54.75 L351.00,54.53 L353.00,54.34 L355.00,54.16 L357.00,54.01 L359.00,53.88 L361.00,53.78 L363.00,53.72 L365.00,53.68 L367.00,53.69 L369.00,53.74 L371.00,53.85 L373.00,54.03 L375.00,54.29 L377.00,54.65 L379.00,55.13 L381.00,55.68 L383.00,56.25 L385.00,56.82 L387.00,57.42 L389.00,58.04 L391.00,58.71 L393.00,59.44 L395.00,60.25 L397.00,61.11 L399.00,62.00 L401.00,62.91 L403.00,63.49 L405.00,64.08 L407.00,64.58 L409.00,65.02 L411.00,65.41 L413.00,65.66 L415.00,65.82 L417.00,65.89 L419.00,65.93 L421.00,65.94 L423.00,65.93 L425.00,65.91 L427.00,65.88 L429.00,65.84 L431.00,65.79 L433.00,65.74 L435.00,65.67 L437.00,65.60 L439.00,65.53 L441.00,65.45 L443.00,65.37 L445.00,65.28 L447.00,65.20 L449.00,65.11 L451.00,65.01 L453.00,64.91 L455.00,64.80 L457.00,64.67 L459.00,64.52 L461.00,64.36 L463.00,64.16 L465.00,63.95 L467.00,63.73" fill="none" stroke="url(#g7)" stroke-width="0.3" opacity="0.15"/>
<path d="M291.00,63.81 L293.00,63.49 L295.00,63.18 L297.00,62.86 L299.00,62.55 L301.00,62.24 L303.00,61.94 L305.00,61.64 L307.00,61.36 L309.00,61.09 L311.00,60.82 L313.00,60.56 L315.00,60.32 L317.00,60.08 L319.00,59.84 L321.00,59.60 L323.00,59.35 L325.00,59.11 L327.00,58.86 L329.00,58.59 L331.00,58.29 L333.00,57.96 L335.00,57.62 L337.00,57.27 L339.00,56.92 L341.00,56.58 L343.00,56.26 L345.00,55.96 L347.00,55.68 L349.00,55.43 L351.00,55.21 L353.00,55.01 L355.00,54.83 L357.00,54.67 L359.00,54.54 L361.00,54.45 L363.00,54.38 L365.00,54.36 L367.00,54.37 L369.00,54.42 L371.00,54.54 L373.00,54.73 L375.00,55.00 L377.00,55.37 L379.00,55.85 L381.00,56.40 L383.00,56.97 L385.00,57.55 L387.00,58.15 L389.00,58.78 L391.00,59.46 L393.00,60.19 L395.00,60.99 L397.00,61.86 L399.00,62.75 L401.00,63.67 L403.00,64.20 L405.00,64.74 L407.00,65.20 L409.00,65.60 L411.00,65.95 L413.00,66.19 L415.00,66.33 L417.00,66.40 L419.00,66.44 L421.00,66.45 L423.00,66.44 L425.00,66.42 L427.00,66.39 L429.00,66.35 L431.00,66.31 L433.00,66.26 L435.00,66.20 L437.00,66.13 L439.00,66.07 L441.00,65.99 L443.00,65.92 L445.00,65.84 L447.00,65.76 L449.00,65.68 L451.00,65.59 L453.00,65.50 L455.00,65.40 L457.00,65.28 L459.00,65.14 L461.00,64.99 L463.00,64.81 L465.00,64.62 L467.00,64.41" fill="none" stroke="url(#g7)" stroke-width="0.3" opacity="0.15"/>
<path d="M291.00,65.41 L293.00,65.05 L295.00,64.69 L297.00,64.33 L299.00,63.97 L301.00,63.62 L303.00,63.27 L305.00,62.94 L307.00,62.62 L309.00,62.30 L311.00,62.00 L313.00,61.71 L315.00,61.43 L317.00,61.15 L319.00,60.88 L321.00,60.60 L323.00,60.33 L325.00,60.05 L327.00,59.77 L329.00,59.47 L331.00,59.15 L333.00,58.80 L335.00,58.43 L337.00,58.06 L339.00,57.69 L341.00,57.34 L343.00,57.01 L345.00,56.70 L347.00,56.41 L349.00,56.16 L351.00,55.93 L353.00,55.72 L355.00,55.54 L357.00,55.38 L359.00,55.25 L361.00,55.15 L363.00,55.09 L365.00,55.07 L367.00,55.09 L369.00,55.15 L371.00,55.27 L373.00,55.47 L375.00,55.75 L377.00,56.12 L379.00,56.61 L381.00,57.16 L383.00,57.74 L385.00,58.32 L387.00,58.92 L389.00,59.56 L391.00,60.24 L393.00,60.97 L395.00,61.78 L397.00,62.65 L399.00,63.55 L401.00,64.48 L403.00,64.95 L405.00,65.44 L407.00,65.85 L409.00,66.22 L411.00,66.53 L413.00,66.75 L415.00,66.87 L417.00,66.94 L419.00,66.97 L421.00,66.98 L423.00,66.97 L425.00,66.95 L427.00,66.92 L429.00,66.89 L431.00,66.85 L433.00,66.81 L435.00,66.76 L437.00,66.70 L439.00,66.64 L441.00,66.57 L443.00,66.50 L445.00,66.43 L447.00,66.36 L449.00,66.29 L451.00,66.21 L453.00,66.13 L455.00,66.03 L457.00,65.92 L459.00,65.80 L461.00,65.66 L463.00,65.50 L465.00,65.33 L467.00,65.14" fill="none" stroke="url(#g7)" stroke-width="0.3" opacity="0.15"/>
<path d="M291.00,67.09 L293.00,66.68 L295.00,66.27 L297.00,65.86 L299.00,65.46 L301.00,65.06 L303.00,64.67 L305.00,64.29 L307.00,63.93 L309.00,63.58 L311.00,63.24 L313.00,62.91 L315.00,62.59 L317.00,62.27 L319.00,61.96 L321.00,61.65 L323.00,61.34 L325.00,61.04 L327.00,60.72 L329.00,60.40 L331.00,60.05 L333.00,59.67 L335.00,59.28 L337.00,58.88 L339.00,58.50 L341.00,58.13 L343.00,57.79 L345.00,57.47 L347.00,57.18 L349.00,56.92 L351.00,56.68 L353.00,56.47 L355.00,56.28 L357.00,56.11 L359.00,55.98 L361.00,55.89 L363.00,55.83 L365.00,55.81 L367.00,55.84 L369.00,55.91 L371.00,56.04 L373.00,56.25 L375.00,56.53 L377.00,56.92 L379.00,57.40 L381.00,57.96 L383.00,58.54 L385.00,59.12 L387.00,59.73 L389.00,60.37 L391.00,61.06 L393.00,61.80 L395.00,62.61 L397.00,63.48 L399.00,64.38 L401.00,65.32 L403.00,65.73 L405.00,66.17 L407.00,66.53 L409.00,66.86 L411.00,67.14 L413.00,67.33 L415.00,67.44 L417.00,67.50 L419.00,67.53 L421.00,67.54 L423.00,67.53 L425.00,67.51 L427.00,67.49 L429.00,67.46 L431.00,67.43 L433.00,67.38 L435.00,67.34 L437.00,67.29 L439.00,67.23 L441.00,67.17 L443.00,67.11 L445.00,67.05 L447.00,66.99 L449.00,66.92 L451.00,66.85 L453.00,66.78 L455.00,66.70 L457.00,66.60 L459.00,66.49 L461.00,66.37 L463.00,66.22 L465.00,66.07 L467.00,65.90" fill="none" stroke="url(#g7)" stroke-width="0.3" opacity="0.15"/>
<path d="M291.00,68.83 L293.00,68.37 L295.00,67.91 L297.00,67.45 L299.00,67.00 L301.00,66.56 L303.00,66.12 L305.00,65.70 L307.00,65.30 L309.00,64.90 L311.00,64.52 L313.00,64.15 L315.00,63.79 L317.00,63.44 L319.00,63.09 L321.00,62.74 L323.00,62.40 L325.00,62.06 L327.00,61.71 L329.00,61.36 L331.00,60.98 L333.00,60.58 L335.00,60.16 L337.00,59.74 L339.00,59.33 L341.00,58.95 L343.00,58.60 L345.00,58.27 L347.00,57.97 L349.00,57.70 L351.00,57.46 L353.00,57.24 L355.00,57.04 L357.00,56.88 L359.00,56.74 L361.00,56.65 L363.00,56.60 L365.00,56.58 L367.00,56.61 L369.00,56.69 L371.00,56.83 L373.00,57.05 L375.00,57.35 L377.00,57.74 L379.00,58.23 L381.00,58.79 L383.00,59.36 L385.00,59.95 L387.00,60.57 L389.00,61.22 L391.00,61.91 L393.00,62.65 L395.00,63.46 L397.00,64.33 L399.00,65.25 L401.00,66.20 L403.00,66.54 L405.00,66.92 L407.00,67.24 L409.00,67.52 L411.00,67.77 L413.00,67.94 L415.00,68.03 L417.00,68.08 L419.00,68.11 L421.00,68.11 L423.00,68.11 L425.00,68.09 L427.00,68.07 L429.00,68.05 L431.00,68.02 L433.00,67.98 L435.00,67.94 L437.00,67.90 L439.00,67.85 L441.00,67.80 L443.00,67.75 L445.00,67.69 L447.00,67.63 L449.00,67.58 L451.00,67.52 L453.00,67.45 L455.00,67.38 L457.00,67.30 L459.00,67.20 L461.00,67.10 L463.00,66.97 L465.00,66.84 L467.00,66.69" fill="none" stroke="url(#g7)" stroke-width="0.3" opacity="0.15"/>
<path d="M291.00,70.61 L293.00,70.11 L295.00,69.60 L297.00,69.09 L299.00,68.59 L301.00,68.09 L303.00,67.61 L305.00,67.14 L307.00,66.70 L309.00,66.26 L311.00,65.84 L313.00,65.43 L315.00,65.03 L317.00,64.64 L319.00,64.25 L321.00,63.86 L323.00,63.48 L325.00,63.11 L327.00,62.73 L329.00,62.35 L331.00,61.94 L333.00,61.51 L335.00,61.06 L337.00,60.62 L339.00,60.19 L341.00,59.80 L343.00,59.43 L345.00,59.10 L347.00,58.79 L349.00,58.51 L351.00,58.26 L353.00,58.04 L355.00,57.83 L357.00,57.66 L359.00,57.53 L361.00,57.44 L363.00,57.39 L365.00,57.38 L367.00,57.41 L369.00,57.50 L371.00,57.65 L373.00,57.88 L375.00,58.18 L377.00,58.58 L379.00,59.08 L381.00,59.63 L383.00,60.22 L385.00,60.81 L387.00,61.43 L389.00,62.08 L391.00,62.78 L393.00,63.53 L395.00,64.34 L397.00,65.22 L399.00,66.14 L401.00,67.10 L403.00,67.38 L405.00,67.70 L407.00,67.97 L409.00,68.21 L411.00,68.42 L413.00,68.56 L415.00,68.64 L417.00,68.68 L419.00,68.70 L421.00,68.71 L423.00,68.70 L425.00,68.69 L427.00,68.67 L429.00,68.65 L431.00,68.63 L433.00,68.60 L435.00,68.56 L437.00,68.52 L439.00,68.48 L441.00,68.44 L443.00,68.40 L445.00,68.35 L447.00,68.30 L449.00,68.25 L451.00,68.20 L453.00,68.15 L455.00,68.09 L457.00,68.02 L459.00,67.94 L461.00,67.85 L463.00,67.74 L465.00,67.63 L467.00,67.50" fill="none" stroke="url(#g7)" stroke-width="0.3" opacity="0.15"/>
<path d="M291.00,72.43 L293.00,71.88 L295.00,71.32 L297.00,70.76 L299.00,70.21 L301.00,69.66 L303.00,69.13 L305.00,68.62 L307.00,68.13 L309.00,67.65 L311.00,67.18 L313.00,66.73 L315.00,66.29 L317.00,65.86 L319.00,65.43 L321.00,65.00 L323.00,64.59 L325.00,64.18 L327.00,63.77 L329.00,63.35 L331.00,62.92 L333.00,62.46 L335.00,61.99 L337.00,61.52 L339.00,61.07 L341.00,60.66 L343.00,60.28 L345.00,59.94 L347.00,59.62 L349.00,59.34 L351.00,59.08 L353.00,58.85 L355.00,58.64 L357.00,58.46 L359.00,58.33 L361.00,58.24 L363.00,58.19 L365.00,58.19 L367.00,58.23 L369.00,58.33 L371.00,58.49 L373.00,58.72 L375.00,59.04 L377.00,59.44 L379.00,59.94 L381.00,60.50 L383.00,61.08 L385.00,61.68 L387.00,62.31 L389.00,62.97 L391.00,63.67 L393.00,64.42 L395.00,65.24 L397.00,66.12 L399.00,67.04 L401.00,68.02 L403.00,68.23 L405.00,68.49 L407.00,68.71 L409.00,68.91 L411.00,69.08 L413.00,69.19 L415.00,69.26 L417.00,69.29 L419.00,69.31 L421.00,69.31 L423.00,69.31 L425.00,69.30 L427.00,69.28 L429.00,69.27 L431.00,69.25 L433.00,69.22 L435.00,69.19 L437.00,69.16 L439.00,69.13 L441.00,69.10 L443.00,69.06 L445.00,69.02 L447.00,68.98 L449.00,68.94 L451.00,68.90 L453.00,68.86 L455.00,68.81 L457.00,68.75 L459.00,68.68 L461.00,68.61 L463.00,68.52 L465.00,68.43 L467.00,68.33" fill="none" stroke="url(#g7)" stroke-width="0.3" opacity="0.15"/>
<path d="M291.00,74.28 L293.00,73.67 L295.00,73.05 L297.00,72.45 L299.00,71.84 L301.00,71.25 L303.00,70.67 L305.00,70.11 L307.00,69.57 L309.00,69.05 L311.00,68.54 L313.00,68.05 L315.00,67.57 L317.00,67.09 L319.00,66.62 L321.00,66.16 L323.00,65.70 L325.00,65.26 L327.00,64.82 L329.00,64.37 L331.00,63.91 L333.00,63.42 L335.00,62.92 L337.00,62.43 L339.00,61.96 L341.00,61.53 L343.00,61.14 L345.00,60.79 L347.00,60.46 L349.00,60.17 L351.00,59.91 L353.00,59.67 L355.00,59.45 L357.00,59.27 L359.00,59.14 L361.00,59.05 L363.00,59.00 L365.00,59.00 L367.00,59.06 L369.00,59.16 L371.00,59.33 L373.00,59.58 L375.00,59.90 L377.00,60.31 L379.00,60.82 L381.00,61.38 L383.00,61.96 L385.00,62.56 L387.00,63.20 L389.00,63.86 L391.00,64.57 L393.00,65.33 L395.00,66.15 L397.00,67.02 L399.00,67.96 L401.00,68.94 L403.00,69.09 L405.00,69.29 L407.00,69.46 L409.00,69.61 L411.00,69.74 L413.00,69.83 L415.00,69.88 L417.00,69.91 L419.00,69.92 L421.00,69.93 L423.00,69.92 L425.00,69.92 L427.00,69.90 L429.00,69.89 L431.00,69.88 L433.00,69.86 L435.00,69.83 L437.00,69.81 L439.00,69.78 L441.00,69.76 L443.00,69.73 L445.00,69.70 L447.00,69.67 L449.00,69.64 L451.00,69.61 L453.00,69.57 L455.00,69.54 L457.00,69.49 L459.00,69.44 L461.00,69.38 L463.00,69.32 L465.00,69.24 L467.00,69.17" fill="none" stroke="url(#g7)" stroke-width="0.3" opacity="0.15"/>
<path d="M291.00,76.12 L293.00,75.47 L295.00,74.80 L297.00,74.14 L299.00,73.49 L301.00,72.84 L303.00,72.21 L305.00,71.60 L307.00,71.02 L309.00,70.46 L311.00,69.91 L313.00,69.37 L315.00,68.85 L317.00,68.33 L319.00,67.82 L321.00,67.32 L323.00,66.83 L325.00,66.35 L327.00,65.87 L329.00,65.40 L331.00,64.90 L333.00,64.38 L335.00,63.86 L337.00,63.34 L339.00,62.85 L341.00,62.41 L343.00,62.00 L345.00,61.64 L347.00,61.31 L349.00,61.01 L351.00,60.74 L353.00,60.49 L355.00,60.27 L357.00,60.09 L359.00,59.95 L361.00,59.86 L363.00,59.82 L365.00,59.83 L367.00,59.88 L369.00,60.00 L371.00,60.18 L373.00,60.43 L375.00,60.77 L377.00,61.19 L379.00,61.69 L381.00,62.26 L383.00,62.84 L385.00,63.45 L387.00,64.09 L389.00,64.76 L391.00,65.48 L393.00,66.24 L395.00,67.06 L397.00,67.94 L399.00,68.88 L401.00,69.88 L403.00,69.95 L405.00,70.09 L407.00,70.21 L409.00,70.32 L411.00,70.41 L413.00,70.47 L415.00,70.51 L417.00,70.53 L419.00,70.54 L421.00,70.54 L423.00,70.54 L425.00,70.53 L427.00,70.53 L429.00,70.52 L431.00,70.51 L433.00,70.49 L435.00,70.48 L437.00,70.46 L439.00,70.44 L441.00,70.42 L443.00,70.40 L445.00,70.38 L447.00,70.36 L449.00,70.34 L451.00,70.32 L453.00,70.29 L455.00,70.27 L457.00,70.24 L459.00,70.20 L461.00,70.16 L463.00,70.11 L465.00,70.06 L467.00,70.01" fill="none" stroke="url(#g7)" stroke-width="0.3" opacity="0.15"/>
<path d="M291.00,77.97 L293.00,77.26 L295.00,76.54 L297.00,75.83 L299.00,75.12 L301.00,74.43 L303.00,73.75 L305.00,73.09 L307.00,72.47 L309.00,71.86 L311.00,71.27 L313.00,70.69 L315.00,70.12 L317.00,69.57 L319.00,69.02 L321.00,68.47 L323.00,67.94 L325.00,67.43 L327.00,66.92 L329.00,66.41 L331.00,65.89 L333.00,65.34 L335.00,64.79 L337.00,64.25 L339.00,63.74 L341.00,63.28 L343.00,62.86 L345.00,62.49 L347.00,62.15 L349.00,61.84 L351.00,61.56 L353.00,61.31 L355.00,61.08 L357.00,60.90 L359.00,60.76 L361.00,60.67 L363.00,60.63 L365.00,60.64 L367.00,60.71 L369.00,60.83 L371.00,61.02 L373.00,61.29 L375.00,61.63 L377.00,62.06 L379.00,62.57 L381.00,63.13 L383.00,63.72 L385.00,64.33 L387.00,64.98 L389.00,65.66 L391.00,66.38 L393.00,67.14 L395.00,67.96 L397.00,68.85 L399.00,69.79 L401.00,70.80 L403.00,70.81 L405.00,70.90 L407.00,70.96 L409.00,71.03 L411.00,71.08 L413.00,71.12 L415.00,71.14 L417.00,71.15 L419.00,71.15 L421.00,71.15 L423.00,71.15 L425.00,71.15 L427.00,71.15 L429.00,71.14 L431.00,71.13 L433.00,71.13 L435.00,71.12 L437.00,71.11 L439.00,71.10 L441.00,71.09 L443.00,71.07 L445.00,71.06 L447.00,71.05 L449.00,71.04 L451.00,71.02 L453.00,71.01 L455.00,71.00 L457.00,70.98 L459.00,70.96 L461.00,70.93 L463.00,70.91 L465.00,70.88 L467.00,70.85" fill="none" stroke="url(#g7)" stroke-width="0.3" opacity="0.15"/>
<path d="M291.00,79.79 L293.00,79.03 L295.00,78.26 L297.00,77.49 L299.00,76.74 L301.00,75.99 L303.00,75.27 L305.00,74.57 L307.00,73.90 L309.00,73.24 L311.00,72.61 L313.00,71.99 L315.00,71.39 L317.00,70.79 L319.00,70.20 L321.00,69.62 L323.00,69.05 L325.00,68.50 L327.00,67.96 L329.00,67.42 L331.00,66.87 L333.00,66.29 L335.00,65.71 L337.00,65.15 L339.00,64.62 L341.00,64.14 L343.00,63.71 L345.00,63.33 L347.00,62.98 L349.00,62.66 L351.00,62.38 L353.00,62.12 L355.00,61.89 L357.00,61.70 L359.00,61.56 L361.00,61.47 L363.00,61.44 L365.00,61.45 L367.00,61.53 L369.00,61.65 L371.00,61.85 L373.00,62.13 L375.00,62.48 L377.00,62.92 L379.00,63.43 L381.00,64.00 L383.00,64.59 L385.00,65.20 L387.00,65.85 L389.00,66.54 L391.00,67.27 L393.00,68.04 L395.00,68.86 L397.00,69.75 L399.00,70.70 L401.00,71.72 L403.00,71.66 L405.00,71.69 L407.00,71.71 L409.00,71.72 L411.00,71.74 L413.00,71.75 L415.00,71.76 L417.00,71.76 L419.00,71.76 L421.00,71.76 L423.00,71.76 L425.00,71.76 L427.00,71.76 L429.00,71.76 L431.00,71.75 L433.00,71.75 L435.00,71.75 L437.00,71.75 L439.00,71.74 L441.00,71.74 L443.00,71.74 L445.00,71.73 L447.00,71.73 L449.00,71.73 L451.00,71.72 L453.00,71.72 L455.00,71.72 L457.00,71.71 L459.00,71.70 L461.00,71.70 L463.00,71.69 L465.00,71.68 L467.00,71.67" fill="none" stroke="url(#g7)" stroke-width="0.3" opacity="0.15"/>
<path d="M291.00,81.57 L293.00,80.76 L295.00,79.94 L297.00,79.13 L299.00,78.33 L301.00,77.53 L303.00,76.76 L305.00,76.01 L307.00,75.30 L309.00,74.60 L311.00,73.93 L313.00,73.27 L315.00,72.62 L317.00,71.99 L319.00,71.36 L321.00,70.74 L323.00,70.13 L325.00,69.55 L327.00,68.98 L329.00,68.41 L331.00,67.83 L333.00,67.22 L335.00,66.62 L337.00,66.03 L339.00,65.48 L341.00,64.99 L343.00,64.55 L345.00,64.15 L347.00,63.79 L349.00,63.47 L351.00,63.18 L353.00,62.91 L355.00,62.68 L357.00,62.48 L359.00,62.34 L361.00,62.26 L363.00,62.23 L365.00,62.25 L367.00,62.33 L369.00,62.46 L371.00,62.67 L373.00,62.96 L375.00,63.32 L377.00,63.76 L379.00,64.28 L381.00,64.85 L383.00,65.44 L385.00,66.06 L387.00,66.72 L389.00,67.41 L391.00,68.14 L393.00,68.91 L395.00,69.74 L397.00,70.63 L399.00,71.58 L401.00,72.62 L403.00,73.81 L405.00,75.14 L407.00,76.47 L409.00,77.80 L411.00,79.13 L413.00,80.49 L415.00,81.84 L417.00,83.18 L419.00,84.48 L421.00,85.74 L423.00,87.03 L425.00,88.29 L427.00,89.44 L429.00,90.45 L431.00,91.33 L433.00,92.18 L435.00,92.98 L437.00,93.73 L439.00,94.40 L441.00,94.99 L443.00,95.50 L445.00,95.94 L447.00,96.28 L449.00,96.58 L451.00,96.83 L453.00,97.06 L455.00,97.27 L457.00,97.47 L459.00,97.65 L461.00,97.83 L463.00,98.00 L465.00,98.18 L467.00,98.36" fill="none" stroke="url(#g7)" stroke-width="0.3" opacity="0.15"/>
<path d="M291.00,83.31 L293.00,82.45 L295.00,81.59 L297.00,80.72 L299.00,79.87 L301.00,79.03 L303.00,78.21 L305.00,77.42 L307.00,76.66 L309.00,75.93 L311.00,75.21 L313.00,74.51 L315.00,73.83 L317.00,73.15 L319.00,72.49 L321.00,71.83 L323.00,71.19 L325.00,70.57 L327.00,69.97 L329.00,69.37 L331.00,68.76 L333.00,68.13 L335.00,67.50 L337.00,66.89 L339.00,66.32 L341.00,65.81 L343.00,65.36 L345.00,64.95 L347.00,64.59 L349.00,64.26 L351.00,63.96 L353.00,63.69 L355.00,63.44 L357.00,63.25 L359.00,63.10 L361.00,63.02 L363.00,62.99 L365.00,63.02 L367.00,63.10 L369.00,63.25 L371.00,63.46 L373.00,63.76 L375.00,64.14 L377.00,64.59 L379.00,65.11 L381.00,65.67 L383.00,66.27 L385.00,66.89 L387.00,67.55 L389.00,68.25 L391.00,68.99 L393.00,69.77 L395.00,70.59 L397.00,71.49 L399.00,72.45 L401.00,73.50 L403.00,74.70 L405.00,76.04 L407.00,77.38 L409.00,78.72 L411.00,80.05 L413.00,81.39 L415.00,82.73 L417.00,84.05 L419.00,85.32 L421.00,86.56 L423.00,87.81 L425.00,89.02 L427.00,90.13 L429.00,91.10 L431.00,91.96 L433.00,92.79 L435.00,93.57 L437.00,94.30 L439.00,94.95 L441.00,95.53 L443.00,96.04 L445.00,96.48 L447.00,96.84 L449.00,97.14 L451.00,97.42 L453.00,97.66 L455.00,97.89 L457.00,98.10 L459.00,98.31 L461.00,98.51 L463.00,98.70 L465.00,98.89 L467.00,99.09" fill="none" stroke="url(#g7)" stroke-width="0.3" opacity="0.15"/>
<path d="M291.00,84.99 L293.00,84.08 L295.00,83.17 L297.00,82.26 L299.00,81.36 L301.00,80.47 L303.00,79.61 L305.00,78.77 L307.00,77.98 L309.00,77.20 L311.00,76.45 L313.00,75.71 L315.00,74.99 L317.00,74.28 L319.00,73.57 L321.00,72.88 L323.00,72.20 L325.00,71.55 L327.00,70.92 L329.00,70.30 L331.00,69.66 L333.00,69.00 L335.00,68.35 L337.00,67.71 L339.00,67.12 L341.00,66.60 L343.00,66.14 L345.00,65.72 L347.00,65.35 L349.00,65.02 L351.00,64.71 L353.00,64.43 L355.00,64.18 L357.00,63.98 L359.00,63.84 L361.00,63.76 L363.00,63.73 L365.00,63.76 L367.00,63.85 L369.00,64.01 L371.00,64.23 L373.00,64.54 L375.00,64.92 L377.00,65.38 L379.00,65.90 L381.00,66.47 L383.00,67.07 L385.00,67.70 L387.00,68.36 L389.00,69.07 L391.00,69.81 L393.00,70.59 L395.00,71.42 L397.00,72.31 L399.00,73.28 L401.00,74.34 L403.00,75.56 L405.00,76.90 L407.00,78.26 L409.00,79.61 L411.00,80.93 L413.00,82.26 L415.00,83.59 L417.00,84.88 L419.00,86.14 L421.00,87.34 L423.00,88.56 L425.00,89.73 L427.00,90.80 L429.00,91.74 L431.00,92.57 L433.00,93.38 L435.00,94.14 L437.00,94.85 L439.00,95.49 L441.00,96.06 L443.00,96.57 L445.00,97.01 L447.00,97.38 L449.00,97.69 L451.00,97.98 L453.00,98.24 L455.00,98.48 L457.00,98.72 L459.00,98.94 L461.00,99.16 L463.00,99.37 L465.00,99.58 L467.00,99.80" fill="none" stroke="url(#g7)" stroke-width="0.3" opacity="0.15"/>
<path d="M291.00,86.59 L293.00,85.64 L295.00,84.68 L297.00,83.72 L299.00,82.78 L301.00,81.85 L303.00,80.94 L305.00,80.07 L307.00,79.23 L309.00,78.42 L311.00,77.63 L313.00,76.86 L315.00,76.10 L317.00,75.35 L319.00,74.61 L321.00,73.88 L323.00,73.17 L325.00,72.49 L327.00,71.84 L329.00,71.18 L331.00,70.52 L333.00,69.84 L335.00,69.16 L337.00,68.50 L339.00,67.90 L341.00,67.36 L343.00,66.89 L345.00,66.46 L347.00,66.08 L349.00,65.74 L351.00,65.43 L353.00,65.14 L355.00,64.89 L357.00,64.69 L359.00,64.54 L361.00,64.46 L363.00,64.44 L365.00,64.47 L367.00,64.57 L369.00,64.73 L371.00,64.96 L373.00,65.28 L375.00,65.67 L377.00,66.14 L379.00,66.66 L381.00,67.23 L383.00,67.83 L385.00,68.46 L387.00,69.13 L389.00,69.85 L391.00,70.60 L393.00,71.38 L395.00,72.21 L397.00,73.11 L399.00,74.08 L401.00,75.15 L403.00,76.38 L405.00,77.73 L407.00,79.10 L409.00,80.45 L411.00,81.77 L413.00,83.09 L415.00,84.40 L417.00,85.68 L419.00,86.92 L421.00,88.10 L423.00,89.27 L425.00,90.40 L427.00,91.43 L429.00,92.34 L431.00,93.16 L433.00,93.94 L435.00,94.68 L437.00,95.37 L439.00,96.00 L441.00,96.57 L443.00,97.07 L445.00,97.51 L447.00,97.89 L449.00,98.22 L451.00,98.51 L453.00,98.79 L455.00,99.05 L457.00,99.30 L459.00,99.54 L461.00,99.78 L463.00,100.01 L465.00,100.24 L467.00,100.48" fill="none" stroke="url(#g7)" stroke-width="0.3" opacity="0.15"/>
<path d="M291.00,88.11 L293.00,87.11 L295.00,86.11 L297.00,85.11 L299.00,84.13 L301.00,83.15 L303.00,82.21 L305.00,81.29 L307.00,80.42 L309.00,79.57 L311.00,78.75 L313.00,77.94 L315.00,77.15 L317.00,76.37 L319.00,75.59 L321.00,74.83 L323.00,74.09 L325.00,73.38 L327.00,72.70 L329.00,72.02 L331.00,71.33 L333.00,70.63 L335.00,69.92 L337.00,69.25 L339.00,68.63 L341.00,68.08 L343.00,67.59 L345.00,67.16 L347.00,66.77 L349.00,66.43 L351.00,66.11 L353.00,65.82 L355.00,65.56 L357.00,65.35 L359.00,65.21 L361.00,65.13 L363.00,65.11 L365.00,65.15 L367.00,65.25 L369.00,65.42 L371.00,65.66 L373.00,65.98 L375.00,66.38 L377.00,66.85 L379.00,67.38 L381.00,67.95 L383.00,68.55 L385.00,69.19 L387.00,69.87 L389.00,70.58 L391.00,71.34 L393.00,72.12 L395.00,72.95 L397.00,73.85 L399.00,74.83 L401.00,75.91 L403.00,77.15 L405.00,78.52 L407.00,79.90 L409.00,81.25 L411.00,82.57 L413.00,83.88 L415.00,85.18 L417.00,86.44 L419.00,87.65 L421.00,88.81 L423.00,89.95 L425.00,91.04 L427.00,92.04 L429.00,92.92 L431.00,93.71 L433.00,94.47 L435.00,95.19 L437.00,95.87 L439.00,96.49 L441.00,97.04 L443.00,97.54 L445.00,97.99 L447.00,98.37 L449.00,98.71 L451.00,99.02 L453.00,99.31 L455.00,99.59 L457.00,99.85 L459.00,100.11 L461.00,100.36 L463.00,100.61 L465.00,100.86 L467.00,101.12" fill="none" stroke="url(#g7)" stroke-width="0.3" opacity="0.15"/>
<path d="M291.00,89.52 L293.00,88.49 L295.00,87.45 L297.00,86.41 L299.00,85.38 L301.00,84.37 L303.00,83.39 L305.00,82.44 L307.00,81.53 L309.00,80.65 L311.00,79.79 L313.00,78.95 L315.00,78.13 L317.00,77.32 L319.00,76.51 L321.00,75.72 L323.00,74.95 L325.00,74.22 L327.00,73.51 L329.00,72.81 L331.00,72.09 L333.00,71.37 L335.00,70.64 L337.00,69.95 L339.00,69.31 L341.00,68.75 L343.00,68.25 L345.00,67.81 L347.00,67.42 L349.00,67.07 L351.00,66.74 L353.00,66.45 L355.00,66.19 L357.00,65.98 L359.00,65.83 L361.00,65.75 L363.00,65.73 L365.00,65.78 L367.00,65.89 L369.00,66.06 L371.00,66.31 L373.00,66.64 L375.00,67.05 L377.00,67.52 L379.00,68.05 L381.00,68.62 L383.00,69.23 L385.00,69.87 L387.00,70.55 L389.00,71.27 L391.00,72.03 L393.00,72.82 L395.00,73.65 L397.00,74.55 L399.00,75.54 L401.00,76.63 L403.00,77.88 L405.00,79.25 L407.00,80.64 L409.00,82.00 L411.00,83.31 L413.00,84.62 L415.00,85.90 L417.00,87.15 L419.00,88.34 L421.00,89.47 L423.00,90.58 L425.00,91.64 L427.00,92.60 L429.00,93.45 L431.00,94.23 L433.00,94.97 L435.00,95.67 L437.00,96.33 L439.00,96.94 L441.00,97.49 L443.00,97.99 L445.00,98.44 L447.00,98.82 L449.00,99.17 L451.00,99.50 L453.00,99.80 L455.00,100.09 L457.00,100.37 L459.00,100.65 L461.00,100.91 L463.00,101.18 L465.00,101.44 L467.00,101.71" fill="none" stroke="url(#g7)" stroke-width="0.3" opacity="0.15"/>
<path d="M291.00,90.83 L293.00,89.76 L295.00,88.68 L297.00,87.61 L299.00,86.55 L301.00,85.50 L303.00,84.48 L305.00,83.50 L307.00,82.56 L309.00,81.65 L311.00,80.76 L313.00,79.89 L315.00,79.03 L317.00,78.19 L319.00,77.36 L321.00,76.54 L323.00,75.75 L325.00,74.99 L327.00,74.25 L329.00,73.53 L331.00,72.80 L333.00,72.05 L335.00,71.30 L337.00,70.59 L339.00,69.94 L341.00,69.37 L343.00,68.86 L345.00,68.41 L347.00,68.02 L349.00,67.66 L351.00,67.33 L353.00,67.03 L355.00,66.76 L357.00,66.55 L359.00,66.40 L361.00,66.33 L363.00,66.31 L365.00,66.36 L367.00,66.47 L369.00,66.65 L371.00,66.90 L373.00,67.24 L375.00,67.66 L377.00,68.14 L379.00,68.67 L381.00,69.24 L383.00,69.85 L385.00,70.49 L387.00,71.18 L389.00,71.91 L391.00,72.67 L393.00,73.46 L395.00,74.30 L397.00,75.20 L399.00,76.19 L401.00,77.29 L403.00,78.55 L405.00,79.93 L407.00,81.33 L409.00,82.70 L411.00,84.00 L413.00,85.30 L415.00,86.57 L417.00,87.80 L419.00,88.98 L421.00,90.09 L423.00,91.17 L425.00,92.19 L427.00,93.12 L429.00,93.95 L431.00,94.70 L433.00,95.43 L435.00,96.12 L437.00,96.76 L439.00,97.36 L441.00,97.90 L443.00,98.40 L445.00,98.85 L447.00,99.24 L449.00,99.60 L451.00,99.93 L453.00,100.25 L455.00,100.55 L457.00,100.85 L459.00,101.14 L461.00,101.42 L463.00,101.70 L465.00,101.98 L467.00,102.27" fill="none" stroke="url(#g7)" stroke-width="0.3" opacity="0.15"/>
<path d="M291.00,92.02 L293.00,90.92 L295.00,89.80 L297.00,88.70 L299.00,87.60 L301.00,86.52 L303.00,85.47 L305.00,84.46 L307.00,83.49 L309.00,82.55 L311.00,81.63 L313.00,80.74 L315.00,79.86 L317.00,78.99 L319.00,78.13 L321.00,77.29 L323.00,76.47 L325.00,75.68 L327.00,74.93 L329.00,74.19 L331.00,73.43 L333.00,72.67 L335.00,71.91 L337.00,71.18 L339.00,70.51 L341.00,69.93 L343.00,69.42 L345.00,68.96 L347.00,68.56 L349.00,68.20 L351.00,67.86 L353.00,67.56 L355.00,67.29 L357.00,67.08 L359.00,66.92 L361.00,66.85 L363.00,66.84 L365.00,66.89 L367.00,67.00 L369.00,67.19 L371.00,67.45 L373.00,67.80 L375.00,68.22 L377.00,68.70 L379.00,69.24 L381.00,69.81 L383.00,70.42 L385.00,71.06 L387.00,71.75 L389.00,72.48 L391.00,73.25 L393.00,74.05 L395.00,74.88 L397.00,75.79 L399.00,76.78 L401.00,77.89 L403.00,79.16 L405.00,80.54 L407.00,81.95 L409.00,83.33 L411.00,84.63 L413.00,85.91 L415.00,87.18 L417.00,88.39 L419.00,89.55 L421.00,90.64 L423.00,91.70 L425.00,92.69 L427.00,93.59 L429.00,94.40 L431.00,95.14 L433.00,95.84 L435.00,96.52 L437.00,97.15 L439.00,97.74 L441.00,98.28 L443.00,98.77 L445.00,99.22 L447.00,99.62 L449.00,99.99 L451.00,100.33 L453.00,100.66 L455.00,100.98 L457.00,101.28 L459.00,101.59 L461.00,101.88 L463.00,102.18 L465.00,102.47 L467.00,102.77" fill="none" stroke="url(#g7)" stroke-width="0.3" opacity="0.15"/>
<path d="M291.00,93.08 L293.00,91.95 L295.00,90.80 L297.00,89.67 L299.00,88.54 L301.00,87.44 L303.00,86.36 L305.00,85.31 L307.00,84.32 L309.00,83.36 L311.00,82.42 L313.00,81.50 L315.00,80.59 L317.00,79.70 L319.00,78.82 L321.00,77.95 L323.00,77.11 L325.00,76.31 L327.00,75.53 L329.00,74.77 L331.00,74.00 L333.00,73.22 L335.00,72.44 L337.00,71.70 L339.00,71.02 L341.00,70.43 L343.00,69.91 L345.00,69.45 L347.00,69.04 L349.00,68.68 L351.00,68.34 L353.00,68.03 L355.00,67.76 L357.00,67.54 L359.00,67.39 L361.00,67.31 L363.00,67.30 L365.00,67.36 L367.00,67.48 L369.00,67.67 L371.00,67.93 L373.00,68.29 L375.00,68.71 L377.00,69.20 L379.00,69.74 L381.00,70.31 L383.00,70.92 L385.00,71.57 L387.00,72.26 L389.00,73.00 L391.00,73.77 L393.00,74.57 L395.00,75.40 L397.00,76.31 L399.00,77.30 L401.00,78.42 L403.00,79.70 L405.00,81.09 L407.00,82.51 L409.00,83.89 L411.00,85.19 L413.00,86.46 L415.00,87.72 L417.00,88.92 L419.00,90.07 L421.00,91.14 L423.00,92.17 L425.00,93.14 L427.00,94.01 L429.00,94.80 L431.00,95.52 L433.00,96.22 L435.00,96.88 L437.00,97.50 L439.00,98.08 L441.00,98.61 L443.00,99.10 L445.00,99.56 L447.00,99.96 L449.00,100.33 L451.00,100.69 L453.00,101.03 L455.00,101.35 L457.00,101.67 L459.00,101.99 L461.00,102.29 L463.00,102.60 L465.00,102.91 L467.00,103.22" fill="none" stroke="url(#g7)" stroke-width="0.3" opacity="0.15"/>
<path d="M291.00,94.00 L293.00,92.85 L295.00,91.68 L297.00,90.51 L299.00,89.36 L301.00,88.23 L303.00,87.13 L305.00,86.06 L307.00,85.05 L309.00,84.06 L311.00,83.10 L313.00,82.16 L315.00,81.23 L317.00,80.32 L319.00,79.42 L321.00,78.53 L323.00,77.67 L325.00,76.85 L327.00,76.06 L329.00,75.28 L331.00,74.50 L333.00,73.70 L335.00,72.91 L337.00,72.16 L339.00,71.47 L341.00,70.87 L343.00,70.34 L345.00,69.88 L347.00,69.47 L349.00,69.09 L351.00,68.75 L353.00,68.44 L355.00,68.17 L357.00,67.95 L359.00,67.80 L361.00,67.72 L363.00,67.71 L365.00,67.77 L367.00,67.89 L369.00,68.09 L371.00,68.36 L373.00,68.72 L375.00,69.15 L377.00,69.64 L379.00,70.18 L381.00,70.75 L383.00,71.36 L385.00,72.01 L387.00,72.71 L389.00,73.45 L391.00,74.22 L393.00,75.02 L395.00,75.86 L397.00,76.77 L399.00,77.76 L401.00,78.89 L403.00,80.17 L405.00,81.57 L407.00,82.99 L409.00,84.38 L411.00,85.67 L413.00,86.94 L415.00,88.19 L417.00,89.39 L419.00,90.52 L421.00,91.58 L423.00,92.59 L425.00,93.53 L427.00,94.38 L429.00,95.15 L431.00,95.86 L433.00,96.54 L435.00,97.19 L437.00,97.80 L439.00,98.37 L441.00,98.90 L443.00,99.39 L445.00,99.85 L447.00,100.26 L449.00,100.64 L451.00,101.00 L453.00,101.34 L455.00,101.68 L457.00,102.01 L459.00,102.33 L461.00,102.65 L463.00,102.97 L465.00,103.29 L467.00,103.61" fill="none" stroke="url(#g7)" stroke-width="0.3" opacity="0.15"/>
<path d="M291.00,94.79 L293.00,93.61 L295.00,92.41 L297.00,91.23 L299.00,90.06 L301.00,88.90 L303.00,87.78 L305.00,86.69 L307.00,85.66 L309.00,84.66 L311.00,83.68 L313.00,82.72 L315.00,81.77 L317.00,80.84 L319.00,79.93 L321.00,79.02 L323.00,78.15 L325.00,77.31 L327.00,76.51 L329.00,75.72 L331.00,74.92 L333.00,74.11 L335.00,73.31 L337.00,72.55 L339.00,71.85 L341.00,71.24 L343.00,70.71 L345.00,70.24 L347.00,69.82 L349.00,69.45 L351.00,69.10 L353.00,68.79 L355.00,68.51 L357.00,68.29 L359.00,68.14 L361.00,68.06 L363.00,68.06 L365.00,68.11 L367.00,68.24 L369.00,68.44 L371.00,68.71 L373.00,69.08 L375.00,69.51 L377.00,70.01 L379.00,70.55 L381.00,71.12 L383.00,71.74 L385.00,72.39 L387.00,73.09 L389.00,73.83 L391.00,74.61 L393.00,75.40 L395.00,76.24 L397.00,77.15 L399.00,78.15 L401.00,79.28 L403.00,80.58 L405.00,81.98 L407.00,83.41 L409.00,84.79 L411.00,86.08 L413.00,87.35 L415.00,88.59 L417.00,89.78 L419.00,90.90 L421.00,91.94 L423.00,92.94 L425.00,93.86 L427.00,94.69 L429.00,95.45 L431.00,96.15 L433.00,96.82 L435.00,97.46 L437.00,98.06 L439.00,98.62 L441.00,99.15 L443.00,99.64 L445.00,100.09 L447.00,100.51 L449.00,100.89 L451.00,101.26 L453.00,101.61 L455.00,101.96 L457.00,102.30 L459.00,102.63 L461.00,102.96 L463.00,103.28 L465.00,103.61 L467.00,103.94" fill="none" stroke="url(#g7)" stroke-width="0.3" opacity="0.15"/>
<path d="M291.00,95.42 L293.00,94.22 L295.00,93.01 L297.00,91.81 L299.00,90.62 L301.00,89.45 L303.00,88.31 L305.00,87.21 L307.00,86.16 L309.00,85.14 L311.00,84.14 L313.00,83.17 L315.00,82.21 L317.00,81.27 L319.00,80.34 L321.00,79.42 L323.00,78.53 L325.00,77.68 L327.00,76.87 L329.00,76.07 L331.00,75.26 L333.00,74.44 L335.00,73.63 L337.00,72.86 L339.00,72.15 L341.00,71.54 L343.00,71.00 L345.00,70.53 L347.00,70.11 L349.00,69.73 L351.00,69.39 L353.00,69.07 L355.00,68.79 L357.00,68.57 L359.00,68.42 L361.00,68.34 L363.00,68.34 L365.00,68.40 L367.00,68.53 L369.00,68.73 L371.00,69.00 L373.00,69.37 L375.00,69.81 L377.00,70.31 L379.00,70.85 L381.00,71.42 L383.00,72.04 L385.00,72.69 L387.00,73.39 L389.00,74.13 L391.00,74.92 L393.00,75.72 L395.00,76.55 L397.00,77.46 L399.00,78.47 L401.00,79.60 L403.00,80.90 L405.00,82.30 L407.00,83.74 L409.00,85.13 L411.00,86.42 L413.00,87.68 L415.00,88.91 L417.00,90.09 L419.00,91.20 L421.00,92.24 L423.00,93.22 L425.00,94.12 L427.00,94.94 L429.00,95.69 L431.00,96.38 L433.00,97.04 L435.00,97.67 L437.00,98.27 L439.00,98.83 L441.00,99.35 L443.00,99.83 L445.00,100.29 L447.00,100.71 L449.00,101.10 L451.00,101.47 L453.00,101.83 L455.00,102.18 L457.00,102.53 L459.00,102.87 L461.00,103.20 L463.00,103.54 L465.00,103.87 L467.00,104.21" fill="none" stroke="url(#g7)" stroke-width="0.3" opacity="0.15"/>
<path d="M291.00,95.90 L293.00,94.69 L295.00,93.46 L297.00,92.25 L299.00,91.05 L301.00,89.86 L303.00,88.71 L305.00,87.59 L307.00,86.53 L309.00,85.50 L311.00,84.50 L313.00,83.51 L315.00,82.54 L317.00,81.59 L319.00,80.65 L321.00,79.72 L323.00,78.82 L325.00,77.96 L327.00,77.14 L329.00,76.33 L331.00,75.52 L333.00,74.69 L335.00,73.87 L337.00,73.09 L339.00,72.38 L341.00,71.76 L343.00,71.22 L345.00,70.75 L347.00,70.33 L349.00,69.95 L351.00,69.60 L353.00,69.28 L355.00,69.00 L357.00,68.78 L359.00,68.63 L361.00,68.55 L363.00,68.55 L365.00,68.61 L367.00,68.74 L369.00,68.94 L371.00,69.22 L373.00,69.59 L375.00,70.03 L377.00,70.54 L379.00,71.08 L381.00,71.65 L383.00,72.27 L385.00,72.92 L387.00,73.62 L389.00,74.37 L391.00,75.15 L393.00,75.95 L395.00,76.79 L397.00,77.70 L399.00,78.70 L401.00,79.84 L403.00,81.14 L405.00,82.55 L407.00,83.99 L409.00,85.38 L411.00,86.67 L413.00,87.93 L415.00,89.16 L417.00,90.33 L419.00,91.44 L421.00,92.46 L423.00,93.43 L425.00,94.32 L427.00,95.13 L429.00,95.87 L431.00,96.55 L433.00,97.21 L435.00,97.83 L437.00,98.42 L439.00,98.98 L441.00,99.50 L443.00,99.98 L445.00,100.44 L447.00,100.86 L449.00,101.25 L451.00,101.63 L453.00,102.00 L455.00,102.35 L457.00,102.70 L459.00,103.05 L461.00,103.39 L463.00,103.73 L465.00,104.07 L467.00,104.41" fill="none" stroke="url(#g7)" stroke-width="0.3" opacity="0.15"/>
<path d="M291.00,96.22 L293.00,95.00 L295.00,93.77 L297.00,92.54 L299.00,91.33 L301.00,90.14 L303.00,88.98 L305.00,87.85 L307.00,86.78 L309.00,85.74 L311.00,84.73 L313.00,83.74 L315.00,82.77 L317.00,81.81 L319.00,80.86 L321.00,79.92 L323.00,79.02 L325.00,78.15 L327.00,77.32 L329.00,76.51 L331.00,75.69 L333.00,74.86 L335.00,74.03 L337.00,73.25 L339.00,72.54 L341.00,71.92 L343.00,71.37 L345.00,70.90 L347.00,70.48 L349.00,70.10 L351.00,69.75 L353.00,69.43 L355.00,69.14 L357.00,68.92 L359.00,68.77 L361.00,68.69 L363.00,68.69 L365.00,68.75 L367.00,68.88 L369.00,69.09 L371.00,69.37 L373.00,69.74 L375.00,70.18 L377.00,70.69 L379.00,71.23 L381.00,71.80 L383.00,72.42 L385.00,73.08 L387.00,73.78 L389.00,74.52 L391.00,75.31 L393.00,76.11 L395.00,76.95 L397.00,77.86 L399.00,78.86 L401.00,80.00 L403.00,81.31 L405.00,82.72 L407.00,84.16 L409.00,85.55 L411.00,86.84 L413.00,88.09 L415.00,89.32 L417.00,90.49 L419.00,91.59 L421.00,92.61 L423.00,93.58 L425.00,94.46 L427.00,95.26 L429.00,95.99 L431.00,96.67 L433.00,97.32 L435.00,97.94 L437.00,98.53 L439.00,99.08 L441.00,99.60 L443.00,100.09 L445.00,100.54 L447.00,100.96 L449.00,101.36 L451.00,101.74 L453.00,102.11 L455.00,102.47 L457.00,102.82 L459.00,103.17 L461.00,103.51 L463.00,103.86 L465.00,104.20 L467.00,104.54" fill="none" stroke="url(#g7)" stroke-width="0.3" opacity="0.15"/>
<path d="M291.00,96.38 L293.00,95.15 L295.00,93.92 L297.00,92.69 L299.00,91.47 L301.00,90.28 L303.00,89.11 L305.00,87.98 L307.00,86.91 L309.00,85.87 L311.00,84.85 L313.00,83.86 L315.00,82.88 L317.00,81.91 L319.00,80.96 L321.00,80.02 L323.00,79.11 L325.00,78.25 L327.00,77.41 L329.00,76.60 L331.00,75.78 L333.00,74.94 L335.00,74.11 L337.00,73.33 L339.00,72.61 L341.00,71.99 L343.00,71.45 L345.00,70.97 L347.00,70.55 L349.00,70.17 L351.00,69.82 L353.00,69.50 L355.00,69.22 L357.00,68.99 L359.00,68.84 L361.00,68.77 L363.00,68.76 L365.00,68.82 L367.00,68.96 L369.00,69.16 L371.00,69.44 L373.00,69.82 L375.00,70.26 L377.00,70.76 L379.00,71.31 L381.00,71.88 L383.00,72.50 L385.00,73.15 L387.00,73.86 L389.00,74.60 L391.00,75.39 L393.00,76.19 L395.00,77.03 L397.00,77.94 L399.00,78.94 L401.00,80.08 L403.00,81.39 L405.00,82.80 L407.00,84.24 L409.00,85.63 L411.00,86.92 L413.00,88.18 L415.00,89.40 L417.00,90.57 L419.00,91.67 L421.00,92.69 L423.00,93.65 L425.00,94.53 L427.00,95.32 L429.00,96.05 L431.00,96.73 L433.00,97.38 L435.00,97.99 L437.00,98.58 L439.00,99.13 L441.00,99.65 L443.00,100.14 L445.00,100.59 L447.00,101.01 L449.00,101.41 L451.00,101.79 L453.00,102.16 L455.00,102.52 L457.00,102.88 L459.00,103.23 L461.00,103.58 L463.00,103.92 L465.00,104.26 L467.00,104.61" fill="none" stroke="url(#g7)" stroke-width="0.3" opacity="0.15"/>
<path d="M291.00,54.51 L293.00,54.45 L295.00,54.40 L297.00,54.34 L299.00,54.29 L301.00,54.23 L303.00,54.18 L305.00,54.12 L307.00,54.07 L309.00,54.01 L311.00,53.96 L313.00,53.91 L315.00,53.87 L317.00,53.84 L319.00,53.80 L321.00,53.76 L323.00,53.71 L325.00,53.64 L327.00,53.56 L329.00,53.44 L331.00,53.30 L333.00,53.12 L335.00,52.91 L337.00,52.68 L339.00,52.43 L341.00,52.18 L343.00,51.93 L345.00,51.68 L347.00,51.44 L349.00,51.23 L351.00,51.04 L353.00,50.87 L355.00,50.72 L357.00,50.58 L359.00,50.46 L361.00,50.36 L363.00,50.28 L365.00,50.23 L367.00,50.20 L369.00,50.22 L371.00,50.28 L373.00,50.42 L375.00,50.64 L377.00,50.97 L379.00,51.43 L381.00,51.98 L383.00,52.54 L385.00,53.09 L387.00,53.66 L389.00,54.26 L391.00,54.91 L393.00,55.62 L395.00,56.41 L397.00,57.27 L399.00,58.13 L401.00,58.98 L403.00,59.86 L405.00,60.70 L407.00,61.41 L409.00,62.04 L411.00,62.59 L413.00,62.96 L415.00,63.17 L417.00,63.29 L419.00,63.34 L421.00,63.35 L423.00,63.34 L425.00,63.31 L427.00,63.26 L429.00,63.20 L431.00,63.14 L433.00,63.06 L435.00,62.97 L437.00,62.87 L439.00,62.76 L441.00,62.65 L443.00,62.53 L445.00,62.41 L447.00,62.29 L449.00,62.16 L451.00,62.03 L453.00,61.88 L455.00,61.72 L457.00,61.54 L459.00,61.32 L461.00,61.09 L463.00,60.81 L465.00,60.51 L467.00,60.19" fill="none" stroke="url(#g7)" stroke-width="0.3" opacity="0.3"/>
<path d="M291.00,55.06 L293.00,54.99 L295.00,54.92 L297.00,54.85 L299.00,54.78 L301.00,54.71 L303.00,54.64 L305.00,54.57 L307.00,54.50 L309.00,54.43 L311.00,54.36 L313.00,54.30 L315.00,54.26 L317.00,54.21 L319.00,54.16 L321.00,54.11 L323.00,54.05 L325.00,53.97 L327.00,53.87 L329.00,53.75 L331.00,53.59 L333.00,53.40 L335.00,53.19 L337.00,52.95 L339.00,52.70 L341.00,52.44 L343.00,52.18 L345.00,51.93 L347.00,51.69 L349.00,51.48 L351.00,51.29 L353.00,51.12 L355.00,50.96 L357.00,50.82 L359.00,50.70 L361.00,50.60 L363.00,50.52 L365.00,50.47 L367.00,50.45 L369.00,50.47 L371.00,50.54 L373.00,50.68 L375.00,50.90 L377.00,51.23 L379.00,51.69 L381.00,52.24 L383.00,52.81 L385.00,53.36 L387.00,53.93 L389.00,54.53 L391.00,55.18 L393.00,55.89 L395.00,56.68 L397.00,57.54 L399.00,58.41 L401.00,59.26 L403.00,60.12 L405.00,60.94 L407.00,61.63 L409.00,62.25 L411.00,62.79 L413.00,63.15 L415.00,63.36 L417.00,63.47 L419.00,63.52 L421.00,63.54 L423.00,63.52 L425.00,63.49 L427.00,63.44 L429.00,63.39 L431.00,63.33 L433.00,63.25 L435.00,63.16 L437.00,63.06 L439.00,62.96 L441.00,62.85 L443.00,62.73 L445.00,62.61 L447.00,62.49 L449.00,62.37 L451.00,62.24 L453.00,62.10 L455.00,61.94 L457.00,61.76 L459.00,61.55 L461.00,61.32 L463.00,61.05 L465.00,60.75 L467.00,60.44" fill="none" stroke="url(#g7)" stroke-width="0.3" opacity="0.3"/>
<path d="M291.00,55.70 L293.00,55.61 L295.00,55.52 L297.00,55.43 L299.00,55.34 L301.00,55.26 L303.00,55.17 L305.00,55.08 L307.00,55.00 L309.00,54.91 L311.00,54.83 L313.00,54.76 L315.00,54.70 L317.00,54.64 L319.00,54.57 L321.00,54.51 L323.00,54.43 L325.00,54.34 L327.00,54.23 L329.00,54.10 L331.00,53.93 L333.00,53.74 L335.00,53.51 L337.00,53.26 L339.00,53.00 L341.00,52.74 L343.00,52.48 L345.00,52.22 L347.00,51.98 L349.00,51.76 L351.00,51.57 L353.00,51.40 L355.00,51.25 L357.00,51.10 L359.00,50.98 L361.00,50.88 L363.00,50.80 L365.00,50.75 L367.00,50.73 L369.00,50.75 L371.00,50.83 L373.00,50.97 L375.00,51.19 L377.00,51.53 L379.00,52.00 L381.00,52.55 L383.00,53.11 L385.00,53.66 L387.00,54.23 L389.00,54.84 L391.00,55.49 L393.00,56.20 L395.00,57.00 L397.00,57.85 L399.00,58.72 L401.00,59.58 L403.00,60.41 L405.00,61.22 L407.00,61.89 L409.00,62.49 L411.00,63.02 L413.00,63.37 L415.00,63.58 L417.00,63.68 L419.00,63.73 L421.00,63.75 L423.00,63.73 L425.00,63.70 L427.00,63.66 L429.00,63.60 L431.00,63.54 L433.00,63.47 L435.00,63.38 L437.00,63.29 L439.00,63.18 L441.00,63.08 L443.00,62.96 L445.00,62.85 L447.00,62.73 L449.00,62.61 L451.00,62.48 L453.00,62.35 L455.00,62.19 L457.00,62.02 L459.00,61.81 L461.00,61.59 L463.00,61.32 L465.00,61.03 L467.00,60.73" fill="none" stroke="url(#g7)" stroke-width="0.3" opacity="0.3"/>
<path d="M291.00,56.54 L293.00,56.43 L295.00,56.32 L297.00,56.21 L299.00,56.10 L301.00,55.98 L303.00,55.88 L305.00,55.77 L307.00,55.66 L309.00,55.56 L311.00,55.46 L313.00,55.37 L315.00,55.28 L317.00,55.20 L319.00,55.12 L321.00,55.04 L323.00,54.95 L325.00,54.84 L327.00,54.72 L329.00,54.57 L331.00,54.39 L333.00,54.18 L335.00,53.94 L337.00,53.68 L339.00,53.41 L341.00,53.14 L343.00,52.87 L345.00,52.61 L347.00,52.37 L349.00,52.15 L351.00,51.95 L353.00,51.78 L355.00,51.62 L357.00,51.48 L359.00,51.35 L361.00,51.25 L363.00,51.18 L365.00,51.13 L367.00,51.11 L369.00,51.14 L371.00,51.21 L373.00,51.36 L375.00,51.59 L377.00,51.93 L379.00,52.40 L381.00,52.95 L383.00,53.51 L385.00,54.07 L387.00,54.64 L389.00,55.25 L391.00,55.90 L393.00,56.62 L395.00,57.42 L397.00,58.27 L399.00,59.14 L401.00,60.01 L403.00,60.81 L405.00,61.59 L407.00,62.24 L409.00,62.82 L411.00,63.32 L413.00,63.66 L415.00,63.86 L417.00,63.97 L419.00,64.02 L421.00,64.03 L423.00,64.02 L425.00,63.99 L427.00,63.94 L429.00,63.89 L431.00,63.83 L433.00,63.76 L435.00,63.68 L437.00,63.58 L439.00,63.48 L441.00,63.38 L443.00,63.27 L445.00,63.16 L447.00,63.05 L449.00,62.93 L451.00,62.81 L453.00,62.68 L455.00,62.53 L457.00,62.36 L459.00,62.16 L461.00,61.94 L463.00,61.69 L465.00,61.41 L467.00,61.11" fill="none" stroke="url(#g7)" stroke-width="0.3" opacity="0.3"/>
<path d="M291.00,57.60 L293.00,57.46 L295.00,57.32 L297.00,57.18 L299.00,57.04 L301.00,56.90 L303.00,56.76 L305.00,56.63 L307.00,56.49 L309.00,56.36 L311.00,56.24 L313.00,56.12 L315.00,56.02 L317.00,55.92 L319.00,55.81 L321.00,55.70 L323.00,55.59 L325.00,55.46 L327.00,55.32 L329.00,55.15 L331.00,54.96 L333.00,54.73 L335.00,54.48 L337.00,54.20 L339.00,53.92 L341.00,53.64 L343.00,53.37 L345.00,53.10 L347.00,52.85 L349.00,52.63 L351.00,52.43 L353.00,52.25 L355.00,52.09 L357.00,51.94 L359.00,51.82 L361.00,51.72 L363.00,51.65 L365.00,51.60 L367.00,51.59 L369.00,51.62 L371.00,51.70 L373.00,51.86 L375.00,52.09 L377.00,52.43 L379.00,52.90 L381.00,53.45 L383.00,54.02 L385.00,54.58 L387.00,55.15 L389.00,55.77 L391.00,56.42 L393.00,57.14 L395.00,57.94 L397.00,58.79 L399.00,59.67 L401.00,60.54 L403.00,61.30 L405.00,62.05 L407.00,62.67 L409.00,63.22 L411.00,63.71 L413.00,64.03 L415.00,64.22 L417.00,64.32 L419.00,64.37 L421.00,64.38 L423.00,64.37 L425.00,64.34 L427.00,64.30 L429.00,64.25 L431.00,64.19 L433.00,64.12 L435.00,64.04 L437.00,63.96 L439.00,63.86 L441.00,63.76 L443.00,63.66 L445.00,63.55 L447.00,63.44 L449.00,63.33 L451.00,63.21 L453.00,63.09 L455.00,62.95 L457.00,62.78 L459.00,62.60 L461.00,62.39 L463.00,62.14 L465.00,61.88 L467.00,61.60" fill="none" stroke="url(#g7)" stroke-width="0.3" opacity="0.3"/>
<path d="M291.00,95.89 L293.00,94.68 L295.00,93.46 L297.00,92.24 L299.00,91.04 L301.00,89.86 L303.00,88.70 L305.00,87.59 L307.00,86.53 L309.00,85.50 L311.00,84.49 L313.00,83.51 L315.00,82.54 L317.00,81.59 L319.00,80.64 L321.00,79.71 L323.00,78.82 L325.00,77.96 L327.00,77.13 L329.00,76.33 L331.00,75.51 L333.00,74.69 L335.00,73.87 L337.00,73.09 L339.00,72.38 L341.00,71.76 L343.00,71.22 L345.00,70.75 L347.00,70.33 L349.00,69.95 L351.00,69.60 L353.00,69.28 L355.00,69.00 L357.00,68.78 L359.00,68.62 L361.00,68.55 L363.00,68.55 L365.00,68.61 L367.00,68.74 L369.00,68.94 L371.00,69.22 L373.00,69.59 L375.00,70.03 L377.00,70.53 L379.00,71.08 L381.00,71.65 L383.00,72.26 L385.00,72.92 L387.00,73.62 L389.00,74.36 L391.00,75.15 L393.00,75.95 L395.00,76.79 L397.00,77.70 L399.00,78.70 L401.00,79.84 L403.00,81.14 L405.00,82.55 L407.00,83.99 L409.00,85.38 L411.00,86.67 L413.00,87.92 L415.00,89.15 L417.00,90.33 L419.00,91.43 L421.00,92.46 L423.00,93.43 L425.00,94.32 L427.00,95.13 L429.00,95.87 L431.00,96.55 L433.00,97.20 L435.00,97.83 L437.00,98.42 L439.00,98.98 L441.00,99.50 L443.00,99.98 L445.00,100.44 L447.00,100.86 L449.00,101.25 L451.00,101.63 L453.00,101.99 L455.00,102.35 L457.00,102.70 L459.00,103.04 L461.00,103.39 L463.00,103.72 L465.00,104.06 L467.00,104.41" fill="none" stroke="url(#g7)" stroke-width="0.3" opacity="0.3"/>
<path d="M291.00,95.34 L293.00,94.14 L295.00,92.94 L297.00,91.74 L299.00,90.55 L301.00,89.38 L303.00,88.24 L305.00,87.14 L307.00,86.09 L309.00,85.08 L311.00,84.08 L313.00,83.11 L315.00,82.16 L317.00,81.22 L319.00,80.29 L321.00,79.37 L323.00,78.48 L325.00,77.63 L327.00,76.82 L329.00,76.02 L331.00,75.22 L333.00,74.40 L335.00,73.59 L337.00,72.82 L339.00,72.11 L341.00,71.50 L343.00,70.96 L345.00,70.49 L347.00,70.08 L349.00,69.70 L351.00,69.35 L353.00,69.03 L355.00,68.76 L357.00,68.54 L359.00,68.38 L361.00,68.31 L363.00,68.30 L365.00,68.36 L367.00,68.49 L369.00,68.69 L371.00,68.97 L373.00,69.33 L375.00,69.77 L377.00,70.27 L379.00,70.81 L381.00,71.39 L383.00,72.00 L385.00,72.65 L387.00,73.35 L389.00,74.10 L391.00,74.88 L393.00,75.68 L395.00,76.52 L397.00,77.42 L399.00,78.43 L401.00,79.56 L403.00,80.86 L405.00,82.26 L407.00,83.70 L409.00,85.08 L411.00,86.38 L413.00,87.64 L415.00,88.87 L417.00,90.05 L419.00,91.17 L421.00,92.20 L423.00,93.18 L425.00,94.09 L427.00,94.91 L429.00,95.66 L431.00,96.35 L433.00,97.01 L435.00,97.64 L437.00,98.24 L439.00,98.80 L441.00,99.32 L443.00,99.81 L445.00,100.27 L447.00,100.68 L449.00,101.07 L451.00,101.44 L453.00,101.80 L455.00,102.15 L457.00,102.50 L459.00,102.84 L461.00,103.17 L463.00,103.50 L465.00,103.84 L467.00,104.17" fill="none" stroke="url(#g7)" stroke-width="0.3" opacity="0.3"/>
<path d="M291.00,94.70 L293.00,93.53 L295.00,92.34 L297.00,91.15 L299.00,89.99 L301.00,88.83 L303.00,87.71 L305.00,86.63 L307.00,85.60 L309.00,84.59 L311.00,83.62 L313.00,82.66 L315.00,81.72 L317.00,80.79 L319.00,79.87 L321.00,78.97 L323.00,78.10 L325.00,77.26 L327.00,76.46 L329.00,75.67 L331.00,74.88 L333.00,74.07 L335.00,73.27 L337.00,72.50 L339.00,71.81 L341.00,71.20 L343.00,70.67 L345.00,70.20 L347.00,69.79 L349.00,69.41 L351.00,69.07 L353.00,68.75 L355.00,68.48 L357.00,68.26 L359.00,68.10 L361.00,68.03 L363.00,68.02 L365.00,68.08 L367.00,68.21 L369.00,68.40 L371.00,68.68 L373.00,69.04 L375.00,69.47 L377.00,69.97 L379.00,70.51 L381.00,71.09 L383.00,71.70 L385.00,72.35 L387.00,73.05 L389.00,73.79 L391.00,74.57 L393.00,75.36 L395.00,76.20 L397.00,77.11 L399.00,78.11 L401.00,79.24 L403.00,80.53 L405.00,81.93 L407.00,83.36 L409.00,84.75 L411.00,86.04 L413.00,87.31 L415.00,88.55 L417.00,89.73 L419.00,90.86 L421.00,91.90 L423.00,92.90 L425.00,93.82 L427.00,94.66 L429.00,95.42 L431.00,96.12 L433.00,96.79 L435.00,97.43 L437.00,98.03 L439.00,98.60 L441.00,99.12 L443.00,99.61 L445.00,100.07 L447.00,100.48 L449.00,100.86 L451.00,101.23 L453.00,101.58 L455.00,101.93 L457.00,102.27 L459.00,102.60 L461.00,102.92 L463.00,103.25 L465.00,103.58 L467.00,103.90" fill="none" stroke="url(#g7)" stroke-width="0.3" opacity="0.3"/>
<path d="M291.00,93.86 L293.00,92.70 L295.00,91.54 L297.00,90.38 L299.00,89.23 L301.00,88.10 L303.00,87.01 L305.00,85.94 L307.00,84.93 L309.00,83.95 L311.00,82.99 L313.00,82.05 L315.00,81.13 L317.00,80.22 L319.00,79.32 L321.00,78.44 L323.00,77.58 L325.00,76.76 L327.00,75.98 L329.00,75.20 L331.00,74.42 L333.00,73.62 L335.00,72.84 L337.00,72.09 L339.00,71.40 L341.00,70.80 L343.00,70.27 L345.00,69.81 L347.00,69.40 L349.00,69.03 L351.00,68.69 L353.00,68.37 L355.00,68.10 L357.00,67.88 L359.00,67.73 L361.00,67.66 L363.00,67.65 L365.00,67.70 L367.00,67.83 L369.00,68.02 L371.00,68.29 L373.00,68.65 L375.00,69.08 L377.00,69.57 L379.00,70.11 L381.00,70.68 L383.00,71.29 L385.00,71.94 L387.00,72.64 L389.00,73.38 L391.00,74.15 L393.00,74.95 L395.00,75.79 L397.00,76.69 L399.00,77.69 L401.00,78.81 L403.00,80.10 L405.00,81.50 L407.00,82.92 L409.00,84.30 L411.00,85.60 L413.00,86.87 L415.00,88.11 L417.00,89.31 L419.00,90.45 L421.00,91.51 L423.00,92.52 L425.00,93.46 L427.00,94.32 L429.00,95.10 L431.00,95.81 L433.00,96.49 L435.00,97.14 L437.00,97.75 L439.00,98.33 L441.00,98.86 L443.00,99.34 L445.00,99.80 L447.00,100.21 L449.00,100.59 L451.00,100.95 L453.00,101.29 L455.00,101.63 L457.00,101.96 L459.00,102.28 L461.00,102.60 L463.00,102.91 L465.00,103.23 L467.00,103.55" fill="none" stroke="url(#g7)" stroke-width="0.3" opacity="0.3"/>
<path d="M291.00,92.80 L293.00,91.67 L295.00,90.54 L297.00,89.41 L299.00,88.29 L301.00,87.19 L303.00,86.12 L305.00,85.09 L307.00,84.10 L309.00,83.14 L311.00,82.21 L313.00,81.29 L315.00,80.40 L317.00,79.51 L319.00,78.64 L321.00,77.77 L323.00,76.94 L325.00,76.14 L327.00,75.37 L329.00,74.62 L331.00,73.85 L333.00,73.07 L335.00,72.30 L337.00,71.56 L339.00,70.89 L341.00,70.30 L343.00,69.78 L345.00,69.32 L347.00,68.91 L349.00,68.55 L351.00,68.21 L353.00,67.90 L355.00,67.63 L357.00,67.42 L359.00,67.27 L361.00,67.19 L363.00,67.18 L365.00,67.23 L367.00,67.35 L369.00,67.54 L371.00,67.80 L373.00,68.16 L375.00,68.58 L377.00,69.07 L379.00,69.61 L381.00,70.18 L383.00,70.79 L385.00,71.44 L387.00,72.13 L389.00,72.86 L391.00,73.63 L393.00,74.43 L395.00,75.26 L397.00,76.17 L399.00,77.16 L401.00,78.28 L403.00,79.56 L405.00,80.95 L407.00,82.36 L409.00,83.74 L411.00,85.04 L413.00,86.32 L415.00,87.57 L417.00,88.78 L419.00,89.93 L421.00,91.01 L423.00,92.05 L425.00,93.02 L427.00,93.90 L429.00,94.69 L431.00,95.42 L433.00,96.12 L435.00,96.78 L437.00,97.41 L439.00,97.99 L441.00,98.52 L443.00,99.01 L445.00,99.47 L447.00,99.87 L449.00,100.24 L451.00,100.59 L453.00,100.93 L455.00,101.25 L457.00,101.57 L459.00,101.88 L461.00,102.18 L463.00,102.49 L465.00,102.79 L467.00,103.10" fill="none" stroke="url(#g7)" stroke-width="0.3" opacity="0.3"/>
<path d="M405.00,61.40 L407.00,62.06 L409.00,62.66 L411.00,63.17 L413.00,63.52 L415.00,63.72 L417.00,63.83 L419.00,63.88 L421.00,63.89 L423.00,63.88 L425.00,63.84 L427.00,63.80 L429.00,63.75 L431.00,63.69 L433.00,63.61 L435.00,63.53 L437.00,63.43 L439.00,63.33 L441.00,63.23 L443.00,63.12 L445.00,63.01 L447.00,62.89 L449.00,62.77 L451.00,62.65 L453.00,62.51 L455.00,62.36 L457.00,62.19 L459.00,61.99 L461.00,61.77 L463.00,61.51 L465.00,61.22 L467.00,60.92" fill="none" stroke="url(#g9)" stroke-width="0.45" opacity="0.5"/>
<path d="M405.00,62.32 L407.00,62.93 L409.00,63.47 L411.00,63.94 L413.00,64.25 L415.00,64.44 L417.00,64.54 L419.00,64.58 L421.00,64.59 L423.00,64.58 L425.00,64.55 L427.00,64.51 L429.00,64.47 L431.00,64.41 L433.00,64.34 L435.00,64.27 L437.00,64.18 L439.00,64.09 L441.00,63.99 L443.00,63.89 L445.00,63.79 L447.00,63.68 L449.00,63.57 L451.00,63.46 L453.00,63.34 L455.00,63.20 L457.00,63.04 L459.00,62.86 L461.00,62.66 L463.00,62.42 L465.00,62.16 L467.00,61.89" fill="none" stroke="url(#g9)" stroke-width="0.45" opacity="0.4"/>
<path d="M405.00,63.47 L407.00,64.01 L409.00,64.48 L411.00,64.90 L413.00,65.18 L415.00,65.34 L417.00,65.43 L419.00,65.46 L421.00,65.48 L423.00,65.47 L425.00,65.44 L427.00,65.40 L429.00,65.36 L431.00,65.31 L433.00,65.25 L435.00,65.19 L437.00,65.11 L439.00,65.03 L441.00,64.94 L443.00,64.86 L445.00,64.77 L447.00,64.67 L449.00,64.57 L451.00,64.48 L453.00,64.37 L455.00,64.25 L457.00,64.11 L459.00,63.95 L461.00,63.77 L463.00,63.56 L465.00,63.33 L467.00,63.09" fill="none" stroke="url(#g9)" stroke-width="0.45" opacity="0.3"/>
<path d="M405.00,64.63 L407.00,65.09 L409.00,65.50 L411.00,65.86 L413.00,66.10 L415.00,66.24 L417.00,66.31 L419.00,66.35 L421.00,66.36 L423.00,66.35 L425.00,66.33 L427.00,66.30 L429.00,66.26 L431.00,66.22 L433.00,66.17 L435.00,66.11 L437.00,66.04 L439.00,65.97 L441.00,65.90 L443.00,65.82 L445.00,65.74 L447.00,65.66 L449.00,65.58 L451.00,65.49 L453.00,65.40 L455.00,65.30 L457.00,65.17 L459.00,65.03 L461.00,64.88 L463.00,64.70 L465.00,64.50 L467.00,64.29" fill="none" stroke="url(#g9)" stroke-width="0.45" opacity="0.19999999999999996"/>
<path d="M291.00,54.00 L291.66,53.99 L292.46,53.97 L293.37,53.95 L294.39,53.93 L295.50,53.91 L296.69,53.88 L297.94,53.86 L299.25,53.83 L300.60,53.80 L301.97,53.77 L303.35,53.75 L304.73,53.72 L306.10,53.69 L307.45,53.66 L308.75,53.63 L310.00,53.60 L311.22,53.57 L312.45,53.55 L313.69,53.54 L314.93,53.52 L316.18,53.51 L317.43,53.49 L318.68,53.48 L319.94,53.46 L321.20,53.44 L322.46,53.42 L323.72,53.39 L324.98,53.35 L326.24,53.30 L327.49,53.24 L328.75,53.18 L330.00,53.10 L331.26,53.01 L332.53,52.90 L333.82,52.77 L335.12,52.64 L336.42,52.49 L337.72,52.34 L339.02,52.19 L340.31,52.02 L341.60,51.86 L342.87,51.70 L344.12,51.55 L345.35,51.40 L346.56,51.26 L347.74,51.12 L348.89,51.00 L350.00,50.90 L351.08,50.81 L352.15,50.72 L353.19,50.63 L354.22,50.55 L355.22,50.48 L356.21,50.41 L357.18,50.35 L358.12,50.29 L359.05,50.23 L359.96,50.19 L360.85,50.14 L361.72,50.10 L362.57,50.07 L363.40,50.04 L364.21,50.02 L365.00,50.00 L365.77,49.99 L366.50,49.98 L367.21,49.97 L367.90,49.97 L368.56,49.98 L369.20,49.99 L369.83,50.00 L370.44,50.02 L371.03,50.05 L371.62,50.08 L372.19,50.12 L372.76,50.16 L373.32,50.21 L373.88,50.27 L374.44,50.33 L375.00,50.40 L375.55,50.48 L376.09,50.56 L376.61,50.65 L377.12,50.75 L377.61,50.86 L378.10,50.97 L378.58,51.08 L379.06,51.21 L379.54,51.33 L380.01,51.46 L380.49,51.60 L380.98,51.73 L381.47,51.87 L381.97,52.01 L382.48,52.16 L383.00,52.30 L383.54,52.45 L384.08,52.60 L384.64,52.75 L385.20,52.90 L385.77,53.06 L386.35,53.23 L386.92,53.39 L387.50,53.56 L388.08,53.73 L388.65,53.91 L389.23,54.09 L389.80,54.26 L390.36,54.45 L390.92,54.63 L391.46,54.81 L392.00,55.00 L392.53,55.19 L393.05,55.39 L393.58,55.59 L394.09,55.79 L394.61,56.00 L395.12,56.21 L395.62,56.42 L396.12,56.64 L396.62,56.85 L397.12,57.07 L397.61,57.28 L398.09,57.49 L398.58,57.70" fill="none" stroke="url(#g8)" stroke-width="1.6" stroke-linecap="round"/>
<path d="M397.12,57.07 L397.61,57.28 L398.09,57.49 L398.58,57.70 L399.05,57.90 L399.53,58.10 L400.00,58.30 L400.46,58.49 L400.92,58.69 L401.36,58.88 L401.80,59.08 L402.23,59.27 L402.65,59.47 L403.08,59.66 L403.50,59.84 L403.92,60.03 L404.35,60.21 L404.77,60.39 L405.20,60.56 L405.64,60.73 L406.08,60.89 L406.54,61.05 L407.00,61.20 L407.46,61.35 L407.90,61.49 L408.34,61.63 L408.77,61.77 L409.19,61.90 L409.62,62.03 L410.05,62.16 L410.50,62.28 L410.96,62.40 L411.44,62.51 L411.95,62.61 L412.48,62.70 L413.05,62.79 L413.66,62.87 L414.31,62.94 L415.00,63.00 L415.74,63.05 L416.51,63.09 L417.31,63.13 L418.14,63.15 L419.00,63.17 L419.89,63.18 L420.81,63.18 L421.75,63.18 L422.71,63.17 L423.70,63.16 L424.71,63.14 L425.73,63.12 L426.78,63.09 L427.84,63.06 L428.91,63.03 L430.00,63.00 L431.13,62.96 L432.33,62.91 L433.58,62.86 L434.88,62.80 L436.22,62.73 L437.57,62.66 L438.94,62.58 L440.31,62.51 L441.67,62.43 L443.01,62.35 L444.32,62.27 L445.59,62.19 L446.80,62.11 L447.94,62.04 L449.02,61.97 L450.00,61.90 L450.90,61.84 L451.74,61.78 L452.52,61.72 L453.25,61.67 L453.93,61.61 L454.57,61.56 L455.17,61.51 L455.75,61.46 L456.30,61.40 L456.84,61.35 L457.36,61.30 L457.88,61.24 L458.39,61.18 L458.91,61.13 L459.45,61.06 L460.00,61.00 L460.57,60.93 L461.15,60.86 L461.74,60.78 L462.33,60.69 L462.92,60.61 L463.50,60.52 L464.07,60.43 L464.62,60.34 L465.16,60.26 L465.67,60.18 L466.16,60.10 L466.61,60.02 L467.02,59.96 L467.40,59.89 L467.72,59.84 L468.00,59.80" fill="none" stroke="url(#g8)" stroke-width="1.1" stroke-linecap="round"/>
<path d="M291.00,96.40 C293.33,95.00 300.17,90.65 305.00,88.00 C309.83,85.35 315.83,82.47 320.00,80.50 C324.17,78.53 326.67,77.57 330.00,76.20 C333.33,74.83 336.67,73.33 340.00,72.30 C343.33,71.27 346.67,70.58 350.00,70.00 C353.33,69.42 356.67,68.92 360.00,68.80 C363.33,68.68 366.67,68.83 370.00,69.30 C373.33,69.77 376.67,70.65 380.00,71.60 C383.33,72.55 386.67,73.68 390.00,75.00 C393.33,76.32 396.67,77.62 400.00,79.50 C403.33,81.38 406.67,84.18 410.00,86.30 C413.33,88.42 416.67,90.52 420.00,92.20 C423.33,93.88 425.83,95.00 430.00,96.40 C434.17,97.80 438.67,99.20 445.00,100.60 C451.33,102.00 464.17,104.10 468.00,104.80" fill="none" stroke="url(#g10)" stroke-width="1.6"/>
<path d="M402.60,73.00 C403.83,73.82 407.10,75.97 410.00,77.90 C412.90,79.83 416.67,82.50 420.00,84.60 C423.33,86.70 425.83,88.67 430.00,90.50 C434.17,92.33 438.67,94.35 445.00,95.60 C451.33,96.85 464.17,97.60 468.00,98.00" fill="none" stroke="#a8dcf6" stroke-width="0.6"/>
<path d="M468,72 L410,72 L402.6,73" fill="none" stroke="#a8e4f8" stroke-width="0.6"/>
<path d="M410,69.5 L468,69.3" fill="none" stroke="#80e0f0" stroke-width="0.5"/>
<path d="M42.80,282.60 C44.83,281.72 50.47,279.35 55.00,277.30 C59.53,275.25 65.00,272.58 70.00,270.30 C75.00,268.02 80.00,265.47 85.00,263.60 C90.00,261.73 95.83,259.93 100.00,259.10 C104.17,258.27 106.67,258.20 110.00,258.60 C113.33,259.00 116.67,259.72 120.00,261.50 C123.33,263.28 125.83,266.17 130.00,269.30 C134.17,272.43 140.00,277.38 145.00,280.30 C150.00,283.22 154.17,284.62 160.00,286.80 C165.83,288.98 173.33,291.45 180.00,293.40 C186.67,295.35 193.42,297.40 200.00,298.50 C206.58,299.60 216.25,299.75 219.50,300.00" fill="none" stroke="#ebebeb" stroke-width="0.5"/>
<path d="M152.00,260.50 C152.83,261.05 154.83,262.48 157.00,263.80 C159.17,265.12 161.17,266.97 165.00,268.40 C168.83,269.83 174.17,271.30 180.00,272.40 C185.83,273.50 193.42,274.48 200.00,275.00 C206.58,275.52 216.25,275.42 219.50,275.50 L219.50,300.00" fill="none" stroke="#ebebeb" stroke-width="0.5"/>
<path d="M98.00,229.50 C101.67,229.25 113.00,228.05 120.00,228.00 C127.00,227.95 135.00,228.68 140.00,229.20 C145.00,229.72 146.67,230.52 150.00,231.10 C153.33,231.68 156.67,232.40 160.00,232.70 C163.33,233.00 160.08,232.87 170.00,232.90 C179.92,232.93 211.25,232.90 219.50,232.90 L219.50,243.30" fill="none" stroke="#ebebeb" stroke-width="0.5"/>
<path d="M42.90,240.20 C47.42,240.10 62.15,239.90 70.00,239.60 C77.85,239.30 85.00,238.87 90.00,238.40 C95.00,237.93 96.50,237.63 100.00,236.80 C103.50,235.97 107.67,234.43 111.00,233.40 C114.33,232.37 117.17,231.27 120.00,230.60 C122.83,229.93 124.67,229.47 128.00,229.40 C131.33,229.33 136.33,229.70 140.00,230.20 C143.67,230.70 146.67,231.93 150.00,232.40 C153.33,232.87 149.33,232.90 160.00,233.00 C170.67,233.10 205.00,233.00 214.00,233.00 L218.5,235.5 L218.5,258.2 L218.50,258.20 C213.75,258.23 198.75,258.33 190.00,258.40 C181.25,258.47 171.00,258.92 166.00,258.60 C161.00,258.28 162.67,257.35 160.00,256.50 C157.33,255.65 153.33,254.38 150.00,253.50 C146.67,252.62 143.33,251.80 140.00,251.20 C136.67,250.60 133.33,250.05 130.00,249.90 C126.67,249.75 123.33,249.95 120.00,250.30 C116.67,250.65 113.33,251.30 110.00,252.00 C106.67,252.70 103.33,253.53 100.00,254.50 C96.67,255.47 93.33,256.55 90.00,257.80 C86.67,259.05 83.33,260.42 80.00,262.00 C76.67,263.58 73.33,265.50 70.00,267.30 C66.67,269.10 63.33,270.97 60.00,272.80 C56.67,274.63 52.85,276.67 50.00,278.30 C47.15,279.93 44.08,281.88 42.90,282.60 Z" fill="url(#g11)" stroke="none" stroke-width="1.0"/>
<path d="M42.90,240.23 L44.90,240.39 L46.90,240.57 L48.90,240.74 L50.90,240.90 L52.90,241.06 L54.90,241.21 L56.90,241.34 L58.90,241.46 L60.90,241.56 L62.90,241.65 L64.90,241.74 L66.90,241.81 L68.90,241.87 L70.90,241.93 L72.90,241.97 L74.90,242.00 L76.90,242.02 L78.90,242.02 L80.90,242.00 L82.90,241.97 L84.90,241.91 L86.90,241.84 L88.90,241.75 L90.90,241.66 L92.90,241.56 L94.90,241.46 L96.90,241.36 L98.90,241.26 L100.90,241.17 L102.90,241.07 L104.90,240.98 L106.90,240.88 L108.90,240.78 L110.90,240.67 L112.90,240.57 L114.90,240.47 L116.90,240.36 L118.90,240.26 L120.90,240.16 L122.90,240.03 L124.90,239.89 L126.90,239.76 L128.90,239.70 L130.90,239.73 L132.90,239.83 L134.90,239.99 L136.90,240.20 L138.90,240.45 L140.90,240.75 L142.90,241.11 L144.90,241.52 L146.90,241.95 L148.90,242.38 L150.90,242.79 L152.90,243.21 L154.90,243.62 L156.90,244.03 L158.90,244.41 L160.90,244.77 L162.90,245.15 L164.90,245.50 L166.90,245.76 L168.90,245.94 L170.90,246.05 L172.90,246.14 L174.90,246.21 L176.90,246.26 L178.90,246.30 L180.90,246.33 L182.90,246.35 L184.90,246.36 L186.90,246.35 L188.90,246.32 L190.90,246.28 L192.90,246.23 L194.90,246.15 L196.90,246.07 L198.90,245.97 L200.90,245.86 L202.90,245.74 L204.90,245.61 L206.90,245.47 L208.90,245.30 L210.90,245.11 L212.90,244.84 L214.90,244.47 L216.90,243.99 L218.50,243.61" fill="none" stroke="#4a4af0" stroke-width="0.3" opacity="0.3"/>
<path d="M42.90,240.46 L44.90,240.62 L46.90,240.78 L48.90,240.94 L50.90,241.10 L52.90,241.25 L54.90,241.40 L56.90,241.53 L58.90,241.64 L60.90,241.73 L62.90,241.81 L64.90,241.89 L66.90,241.96 L68.90,242.01 L70.90,242.06 L72.90,242.10 L74.90,242.12 L76.90,242.13 L78.90,242.13 L80.90,242.11 L82.90,242.07 L84.90,242.01 L86.90,241.93 L88.90,241.84 L90.90,241.75 L92.90,241.64 L94.90,241.54 L96.90,241.44 L98.90,241.33 L100.90,241.24 L102.90,241.14 L104.90,241.04 L106.90,240.94 L108.90,240.84 L110.90,240.74 L112.90,240.63 L114.90,240.53 L116.90,240.42 L118.90,240.32 L120.90,240.21 L122.90,240.09 L124.90,239.95 L126.90,239.81 L128.90,239.76 L130.90,239.79 L132.90,239.89 L134.90,240.05 L136.90,240.26 L138.90,240.51 L140.90,240.80 L142.90,241.17 L144.90,241.58 L146.90,242.01 L148.90,242.44 L150.90,242.85 L152.90,243.27 L154.90,243.69 L156.90,244.09 L158.90,244.48 L160.90,244.83 L162.90,245.22 L164.90,245.57 L166.90,245.83 L168.90,246.00 L170.90,246.12 L172.90,246.20 L174.90,246.27 L176.90,246.32 L178.90,246.36 L180.90,246.39 L182.90,246.40 L184.90,246.41 L186.90,246.40 L188.90,246.37 L190.90,246.33 L192.90,246.27 L194.90,246.20 L196.90,246.11 L198.90,246.02 L200.90,245.91 L202.90,245.79 L204.90,245.65 L206.90,245.51 L208.90,245.34 L210.90,245.15 L212.90,244.88 L214.90,244.51 L216.90,244.03 L218.50,243.65" fill="none" stroke="#4a4af0" stroke-width="0.3" opacity="0.3"/>
<path d="M42.90,240.92 L44.90,241.06 L46.90,241.21 L48.90,241.36 L50.90,241.50 L52.90,241.64 L54.90,241.77 L56.90,241.89 L58.90,241.99 L60.90,242.07 L62.90,242.14 L64.90,242.20 L66.90,242.25 L68.90,242.30 L70.90,242.33 L72.90,242.36 L74.90,242.37 L76.90,242.37 L78.90,242.35 L80.90,242.32 L82.90,242.27 L84.90,242.20 L86.90,242.12 L88.90,242.02 L90.90,241.92 L92.90,241.81 L94.90,241.70 L96.90,241.59 L98.90,241.48 L100.90,241.38 L102.90,241.28 L104.90,241.18 L106.90,241.07 L108.90,240.96 L110.90,240.86 L112.90,240.75 L114.90,240.64 L116.90,240.53 L118.90,240.43 L120.90,240.32 L122.90,240.20 L124.90,240.05 L126.90,239.92 L128.90,239.87 L130.90,239.90 L132.90,240.00 L134.90,240.16 L136.90,240.37 L138.90,240.63 L140.90,240.92 L142.90,241.28 L144.90,241.69 L146.90,242.13 L148.90,242.56 L150.90,242.97 L152.90,243.39 L154.90,243.81 L156.90,244.22 L158.90,244.61 L160.90,244.97 L162.90,245.36 L164.90,245.70 L166.90,245.96 L168.90,246.13 L170.90,246.24 L172.90,246.32 L174.90,246.39 L176.90,246.44 L178.90,246.47 L180.90,246.49 L182.90,246.51 L184.90,246.51 L186.90,246.49 L188.90,246.47 L190.90,246.43 L192.90,246.36 L194.90,246.29 L196.90,246.20 L198.90,246.10 L200.90,245.99 L202.90,245.87 L204.90,245.73 L206.90,245.59 L208.90,245.42 L210.90,245.23 L212.90,244.96 L214.90,244.59 L216.90,244.12 L218.50,243.73" fill="none" stroke="#4a4af0" stroke-width="0.3" opacity="0.3"/>
<path d="M42.90,241.61 L44.90,241.73 L46.90,241.85 L48.90,241.98 L50.90,242.10 L52.90,242.22 L54.90,242.33 L56.90,242.42 L58.90,242.50 L60.90,242.56 L62.90,242.61 L64.90,242.66 L66.90,242.69 L68.90,242.72 L70.90,242.74 L72.90,242.74 L74.90,242.74 L76.90,242.72 L78.90,242.69 L80.90,242.64 L82.90,242.58 L84.90,242.49 L86.90,242.40 L88.90,242.29 L90.90,242.18 L92.90,242.06 L94.90,241.94 L96.90,241.82 L98.90,241.70 L100.90,241.59 L102.90,241.48 L104.90,241.37 L106.90,241.26 L108.90,241.15 L110.90,241.04 L112.90,240.92 L114.90,240.81 L116.90,240.70 L118.90,240.59 L120.90,240.49 L122.90,240.36 L124.90,240.22 L126.90,240.09 L128.90,240.03 L130.90,240.06 L132.90,240.17 L134.90,240.33 L136.90,240.54 L138.90,240.80 L140.90,241.09 L142.90,241.46 L144.90,241.87 L146.90,242.30 L148.90,242.73 L150.90,243.15 L152.90,243.57 L154.90,243.99 L156.90,244.41 L158.90,244.80 L160.90,245.16 L162.90,245.57 L164.90,245.91 L166.90,246.16 L168.90,246.32 L170.90,246.43 L172.90,246.50 L174.90,246.56 L176.90,246.60 L178.90,246.64 L180.90,246.65 L182.90,246.66 L184.90,246.66 L186.90,246.64 L188.90,246.61 L190.90,246.56 L192.90,246.50 L194.90,246.42 L196.90,246.33 L198.90,246.23 L200.90,246.12 L202.90,245.99 L204.90,245.86 L206.90,245.71 L208.90,245.54 L210.90,245.35 L212.90,245.08 L214.90,244.71 L216.90,244.24 L218.50,243.86" fill="none" stroke="#4a4af0" stroke-width="0.3" opacity="0.3"/>
<path d="M42.90,242.51 L44.90,242.60 L46.90,242.70 L48.90,242.79 L50.90,242.89 L52.90,242.98 L54.90,243.06 L56.90,243.13 L58.90,243.18 L60.90,243.22 L62.90,243.24 L64.90,243.26 L66.90,243.27 L68.90,243.27 L70.90,243.27 L72.90,243.25 L74.90,243.22 L76.90,243.18 L78.90,243.12 L80.90,243.06 L82.90,242.97 L84.90,242.88 L86.90,242.76 L88.90,242.64 L90.90,242.51 L92.90,242.38 L94.90,242.25 L96.90,242.12 L98.90,241.99 L100.90,241.87 L102.90,241.75 L104.90,241.63 L106.90,241.51 L108.90,241.39 L110.90,241.27 L112.90,241.16 L114.90,241.04 L116.90,240.92 L118.90,240.81 L120.90,240.70 L122.90,240.57 L124.90,240.43 L126.90,240.30 L128.90,240.25 L130.90,240.28 L132.90,240.39 L134.90,240.55 L136.90,240.76 L138.90,241.02 L140.90,241.32 L142.90,241.68 L144.90,242.09 L146.90,242.53 L148.90,242.96 L150.90,243.38 L152.90,243.80 L154.90,244.23 L156.90,244.65 L158.90,245.05 L160.90,245.42 L162.90,245.84 L164.90,246.17 L166.90,246.41 L168.90,246.57 L170.90,246.67 L172.90,246.74 L174.90,246.79 L176.90,246.83 L178.90,246.85 L180.90,246.86 L182.90,246.87 L184.90,246.86 L186.90,246.83 L188.90,246.80 L190.90,246.75 L192.90,246.68 L194.90,246.60 L196.90,246.50 L198.90,246.40 L200.90,246.28 L202.90,246.16 L204.90,246.02 L206.90,245.87 L208.90,245.70 L210.90,245.50 L212.90,245.23 L214.90,244.87 L216.90,244.41 L218.50,244.03" fill="none" stroke="#4a4af0" stroke-width="0.3" opacity="0.3"/>
<path d="M42.90,243.62 L44.90,243.67 L46.90,243.73 L48.90,243.79 L50.90,243.85 L52.90,243.91 L54.90,243.96 L56.90,244.00 L58.90,244.02 L60.90,244.02 L62.90,244.02 L64.90,244.00 L66.90,243.98 L68.90,243.95 L70.90,243.92 L72.90,243.87 L74.90,243.81 L76.90,243.74 L78.90,243.66 L80.90,243.57 L82.90,243.46 L84.90,243.34 L86.90,243.21 L88.90,243.07 L90.90,242.93 L92.90,242.78 L94.90,242.63 L96.90,242.48 L98.90,242.35 L100.90,242.21 L102.90,242.08 L104.90,241.95 L106.90,241.82 L108.90,241.69 L110.90,241.57 L112.90,241.44 L114.90,241.31 L116.90,241.19 L118.90,241.08 L120.90,240.96 L122.90,240.84 L124.90,240.69 L126.90,240.57 L128.90,240.51 L130.90,240.55 L132.90,240.66 L134.90,240.82 L136.90,241.04 L138.90,241.30 L140.90,241.60 L142.90,241.96 L144.90,242.37 L146.90,242.81 L148.90,243.25 L150.90,243.67 L152.90,244.10 L154.90,244.53 L156.90,244.95 L158.90,245.35 L160.90,245.74 L162.90,246.18 L164.90,246.50 L166.90,246.73 L168.90,246.88 L170.90,246.97 L172.90,247.03 L174.90,247.07 L176.90,247.10 L178.90,247.12 L180.90,247.12 L182.90,247.12 L184.90,247.10 L186.90,247.07 L188.90,247.03 L190.90,246.97 L192.90,246.90 L194.90,246.81 L196.90,246.72 L198.90,246.61 L200.90,246.49 L202.90,246.36 L204.90,246.22 L206.90,246.06 L208.90,245.89 L210.90,245.70 L212.90,245.43 L214.90,245.07 L216.90,244.61 L218.50,244.24" fill="none" stroke="#4a4af0" stroke-width="0.3" opacity="0.3"/>
<path d="M42.90,244.92 L44.90,244.93 L46.90,244.95 L48.90,244.97 L50.90,244.99 L52.90,245.01 L54.90,245.02 L56.90,245.02 L58.90,245.00 L60.90,244.97 L62.90,244.93 L64.90,244.88 L66.90,244.82 L68.90,244.76 L70.90,244.68 L72.90,244.60 L74.90,244.51 L76.90,244.40 L78.90,244.29 L80.90,244.17 L82.90,244.04 L84.90,243.90 L86.90,243.74 L88.90,243.58 L90.90,243.41 L92.90,243.25 L94.90,243.08 L96.90,242.92 L98.90,242.76 L100.90,242.62 L102.90,242.47 L104.90,242.33 L106.90,242.19 L108.90,242.05 L110.90,241.91 L112.90,241.77 L114.90,241.64 L116.90,241.51 L118.90,241.39 L120.90,241.27 L122.90,241.14 L124.90,241.00 L126.90,240.88 L128.90,240.83 L130.90,240.86 L132.90,240.97 L134.90,241.14 L136.90,241.36 L138.90,241.62 L140.90,241.92 L142.90,242.29 L144.90,242.70 L146.90,243.14 L148.90,243.58 L150.90,244.00 L152.90,244.44 L154.90,244.88 L156.90,245.31 L158.90,245.72 L160.90,246.11 L162.90,246.57 L164.90,246.89 L166.90,247.11 L168.90,247.24 L170.90,247.32 L172.90,247.37 L174.90,247.41 L176.90,247.42 L178.90,247.43 L180.90,247.43 L182.90,247.41 L184.90,247.39 L186.90,247.35 L188.90,247.30 L190.90,247.24 L192.90,247.16 L194.90,247.07 L196.90,246.97 L198.90,246.85 L200.90,246.73 L202.90,246.59 L204.90,246.45 L206.90,246.29 L208.90,246.12 L210.90,245.92 L212.90,245.65 L214.90,245.30 L216.90,244.85 L218.50,244.48" fill="none" stroke="#4a4af0" stroke-width="0.3" opacity="0.3"/>
<path d="M42.90,246.41 L44.90,246.37 L46.90,246.34 L48.90,246.31 L50.90,246.28 L52.90,246.25 L54.90,246.22 L56.90,246.18 L58.90,246.12 L60.90,246.05 L62.90,245.96 L64.90,245.87 L66.90,245.77 L68.90,245.67 L70.90,245.56 L72.90,245.43 L74.90,245.30 L76.90,245.16 L78.90,245.01 L80.90,244.86 L82.90,244.70 L84.90,244.52 L86.90,244.34 L88.90,244.16 L90.90,243.97 L92.90,243.78 L94.90,243.59 L96.90,243.41 L98.90,243.24 L100.90,243.07 L102.90,242.91 L104.90,242.76 L106.90,242.60 L108.90,242.45 L110.90,242.30 L112.90,242.15 L114.90,242.01 L116.90,241.87 L118.90,241.75 L120.90,241.62 L122.90,241.49 L124.90,241.35 L126.90,241.23 L128.90,241.18 L130.90,241.22 L132.90,241.34 L134.90,241.51 L136.90,241.73 L138.90,241.99 L140.90,242.30 L142.90,242.66 L144.90,243.08 L146.90,243.52 L148.90,243.96 L150.90,244.39 L152.90,244.83 L154.90,245.27 L156.90,245.71 L158.90,246.13 L160.90,246.53 L162.90,247.02 L164.90,247.32 L166.90,247.53 L168.90,247.66 L170.90,247.72 L172.90,247.76 L174.90,247.78 L176.90,247.79 L178.90,247.79 L180.90,247.77 L182.90,247.75 L184.90,247.71 L186.90,247.67 L188.90,247.61 L190.90,247.54 L192.90,247.45 L194.90,247.36 L196.90,247.25 L198.90,247.13 L200.90,247.00 L202.90,246.86 L204.90,246.71 L206.90,246.55 L208.90,246.38 L210.90,246.18 L212.90,245.91 L214.90,245.56 L216.90,245.12 L218.50,244.76" fill="none" stroke="#4a4af0" stroke-width="0.3" opacity="0.3"/>
<path d="M42.90,248.06 L44.90,247.96 L46.90,247.88 L48.90,247.80 L50.90,247.72 L52.90,247.64 L54.90,247.56 L56.90,247.47 L58.90,247.36 L60.90,247.24 L62.90,247.11 L64.90,246.98 L66.90,246.83 L68.90,246.68 L70.90,246.52 L72.90,246.36 L74.90,246.18 L76.90,246.00 L78.90,245.81 L80.90,245.62 L82.90,245.42 L84.90,245.22 L86.90,245.01 L88.90,244.80 L90.90,244.58 L92.90,244.37 L94.90,244.16 L96.90,243.96 L98.90,243.77 L100.90,243.58 L102.90,243.41 L104.90,243.23 L106.90,243.06 L108.90,242.89 L110.90,242.73 L112.90,242.57 L114.90,242.42 L116.90,242.28 L118.90,242.14 L120.90,242.02 L122.90,241.88 L124.90,241.74 L126.90,241.62 L128.90,241.58 L130.90,241.62 L132.90,241.74 L134.90,241.91 L136.90,242.14 L138.90,242.40 L140.90,242.71 L142.90,243.08 L144.90,243.50 L146.90,243.94 L148.90,244.38 L150.90,244.81 L152.90,245.26 L154.90,245.71 L156.90,246.16 L158.90,246.59 L160.90,247.00 L162.90,247.52 L164.90,247.81 L166.90,248.00 L168.90,248.11 L170.90,248.17 L172.90,248.20 L174.90,248.20 L176.90,248.20 L178.90,248.18 L180.90,248.16 L182.90,248.12 L184.90,248.07 L186.90,248.02 L188.90,247.95 L190.90,247.87 L192.90,247.78 L194.90,247.68 L196.90,247.56 L198.90,247.44 L200.90,247.30 L202.90,247.16 L204.90,247.01 L206.90,246.84 L208.90,246.67 L210.90,246.46 L212.90,246.20 L214.90,245.85 L216.90,245.42 L218.50,245.06" fill="none" stroke="#4a4af0" stroke-width="0.3" opacity="0.3"/>
<path d="M42.90,249.85 L44.90,249.70 L46.90,249.55 L48.90,249.41 L50.90,249.28 L52.90,249.15 L54.90,249.02 L56.90,248.87 L58.90,248.72 L60.90,248.55 L62.90,248.36 L64.90,248.18 L66.90,247.98 L68.90,247.78 L70.90,247.58 L72.90,247.36 L74.90,247.14 L76.90,246.91 L78.90,246.68 L80.90,246.45 L82.90,246.22 L84.90,245.98 L86.90,245.74 L88.90,245.49 L90.90,245.25 L92.90,245.01 L94.90,244.78 L96.90,244.56 L98.90,244.34 L100.90,244.14 L102.90,243.94 L104.90,243.75 L106.90,243.56 L108.90,243.38 L110.90,243.20 L112.90,243.03 L114.90,242.87 L116.90,242.71 L118.90,242.57 L120.90,242.44 L122.90,242.31 L124.90,242.17 L126.90,242.05 L128.90,242.01 L130.90,242.05 L132.90,242.17 L134.90,242.35 L136.90,242.58 L138.90,242.85 L140.90,243.16 L142.90,243.53 L144.90,243.95 L146.90,244.39 L148.90,244.84 L150.90,245.28 L152.90,245.73 L154.90,246.19 L156.90,246.65 L158.90,247.08 L160.90,247.51 L162.90,248.06 L164.90,248.34 L166.90,248.52 L168.90,248.61 L170.90,248.65 L172.90,248.67 L174.90,248.66 L176.90,248.64 L178.90,248.61 L180.90,248.57 L182.90,248.53 L184.90,248.47 L186.90,248.40 L188.90,248.33 L190.90,248.24 L192.90,248.14 L194.90,248.03 L196.90,247.91 L198.90,247.77 L200.90,247.63 L202.90,247.49 L204.90,247.33 L206.90,247.16 L208.90,246.98 L210.90,246.77 L212.90,246.51 L214.90,246.17 L216.90,245.74 L218.50,245.40" fill="none" stroke="#4a4af0" stroke-width="0.3" opacity="0.3"/>
<path d="M42.90,251.78 L44.90,251.56 L46.90,251.35 L48.90,251.15 L50.90,250.95 L52.90,250.77 L54.90,250.57 L56.90,250.38 L58.90,250.17 L60.90,249.94 L62.90,249.70 L64.90,249.46 L66.90,249.22 L68.90,248.96 L70.90,248.71 L72.90,248.44 L74.90,248.17 L76.90,247.89 L78.90,247.61 L80.90,247.34 L82.90,247.06 L84.90,246.79 L86.90,246.52 L88.90,246.24 L90.90,245.97 L92.90,245.70 L94.90,245.44 L96.90,245.19 L98.90,244.96 L100.90,244.73 L102.90,244.51 L104.90,244.30 L106.90,244.10 L108.90,243.90 L110.90,243.71 L112.90,243.53 L114.90,243.35 L116.90,243.18 L118.90,243.03 L120.90,242.90 L122.90,242.76 L124.90,242.62 L126.90,242.51 L128.90,242.47 L130.90,242.52 L132.90,242.64 L134.90,242.82 L136.90,243.05 L138.90,243.33 L140.90,243.64 L142.90,244.01 L144.90,244.43 L146.90,244.88 L148.90,245.33 L150.90,245.78 L152.90,246.24 L154.90,246.71 L156.90,247.17 L158.90,247.62 L160.90,248.06 L162.90,248.64 L164.90,248.91 L166.90,249.07 L168.90,249.15 L170.90,249.17 L172.90,249.17 L174.90,249.15 L176.90,249.12 L178.90,249.07 L180.90,249.02 L182.90,248.96 L184.90,248.89 L186.90,248.81 L188.90,248.73 L190.90,248.63 L192.90,248.52 L194.90,248.40 L196.90,248.27 L198.90,248.13 L200.90,247.99 L202.90,247.83 L204.90,247.67 L206.90,247.50 L208.90,247.31 L210.90,247.11 L212.90,246.84 L214.90,246.50 L216.90,246.09 L218.50,245.76" fill="none" stroke="#4a4af0" stroke-width="0.3" opacity="0.3"/>
<path d="M42.90,253.80 L44.90,253.52 L46.90,253.24 L48.90,252.97 L50.90,252.72 L52.90,252.47 L54.90,252.22 L56.90,251.96 L58.90,251.69 L60.90,251.41 L62.90,251.12 L64.90,250.82 L66.90,250.52 L68.90,250.21 L70.90,249.90 L72.90,249.58 L74.90,249.25 L76.90,248.92 L78.90,248.59 L80.90,248.27 L82.90,247.96 L84.90,247.65 L86.90,247.34 L88.90,247.03 L90.90,246.72 L92.90,246.43 L94.90,246.14 L96.90,245.87 L98.90,245.61 L100.90,245.36 L102.90,245.12 L104.90,244.88 L106.90,244.66 L108.90,244.45 L110.90,244.24 L112.90,244.04 L114.90,243.85 L116.90,243.68 L118.90,243.52 L120.90,243.38 L122.90,243.24 L124.90,243.10 L126.90,242.99 L128.90,242.96 L130.90,243.01 L132.90,243.13 L134.90,243.32 L136.90,243.55 L138.90,243.83 L140.90,244.15 L142.90,244.52 L144.90,244.95 L146.90,245.40 L148.90,245.85 L150.90,246.30 L152.90,246.77 L154.90,247.25 L156.90,247.72 L158.90,248.18 L160.90,248.64 L162.90,249.26 L164.90,249.51 L166.90,249.65 L168.90,249.71 L170.90,249.72 L172.90,249.70 L174.90,249.67 L176.90,249.62 L178.90,249.56 L180.90,249.49 L182.90,249.42 L184.90,249.33 L186.90,249.24 L188.90,249.15 L190.90,249.04 L192.90,248.92 L194.90,248.80 L196.90,248.66 L198.90,248.51 L200.90,248.36 L202.90,248.20 L204.90,248.03 L206.90,247.86 L208.90,247.67 L210.90,247.46 L212.90,247.19 L214.90,246.86 L216.90,246.46 L218.50,246.13" fill="none" stroke="#4a4af0" stroke-width="0.3" opacity="0.3"/>
<path d="M42.90,255.91 L44.90,255.56 L46.90,255.21 L48.90,254.88 L50.90,254.56 L52.90,254.24 L54.90,253.93 L56.90,253.61 L58.90,253.29 L60.90,252.94 L62.90,252.59 L64.90,252.23 L66.90,251.87 L68.90,251.51 L70.90,251.14 L72.90,250.76 L74.90,250.37 L76.90,249.99 L78.90,249.61 L80.90,249.25 L82.90,248.89 L84.90,248.54 L86.90,248.19 L88.90,247.85 L90.90,247.51 L92.90,247.19 L94.90,246.87 L96.90,246.57 L98.90,246.28 L100.90,246.01 L102.90,245.75 L104.90,245.49 L106.90,245.25 L108.90,245.02 L110.90,244.80 L112.90,244.58 L114.90,244.38 L116.90,244.19 L118.90,244.03 L120.90,243.88 L122.90,243.74 L124.90,243.60 L126.90,243.50 L128.90,243.46 L130.90,243.51 L132.90,243.64 L134.90,243.83 L136.90,244.08 L138.90,244.36 L140.90,244.68 L142.90,245.06 L144.90,245.48 L146.90,245.93 L148.90,246.39 L150.90,246.85 L152.90,247.32 L154.90,247.81 L156.90,248.30 L158.90,248.77 L160.90,249.24 L162.90,249.90 L164.90,250.13 L166.90,250.26 L168.90,250.30 L170.90,250.29 L172.90,250.26 L174.90,250.20 L176.90,250.14 L178.90,250.07 L180.90,249.98 L182.90,249.89 L184.90,249.80 L186.90,249.70 L188.90,249.59 L190.90,249.47 L192.90,249.34 L194.90,249.21 L196.90,249.06 L198.90,248.91 L200.90,248.75 L202.90,248.58 L204.90,248.41 L206.90,248.23 L208.90,248.03 L210.90,247.82 L212.90,247.56 L214.90,247.23 L216.90,246.84 L218.50,246.53" fill="none" stroke="#4a4af0" stroke-width="0.3" opacity="0.3"/>
<path d="M42.90,258.08 L44.90,257.66 L46.90,257.24 L48.90,256.83 L50.90,256.45 L52.90,256.07 L54.90,255.69 L56.90,255.31 L58.90,254.92 L60.90,254.52 L62.90,254.10 L64.90,253.68 L66.90,253.26 L68.90,252.84 L70.90,252.41 L72.90,251.98 L74.90,251.53 L76.90,251.09 L78.90,250.66 L80.90,250.25 L82.90,249.85 L84.90,249.46 L86.90,249.07 L88.90,248.69 L90.90,248.32 L92.90,247.96 L94.90,247.62 L96.90,247.29 L98.90,246.98 L100.90,246.68 L102.90,246.39 L104.90,246.12 L106.90,245.86 L108.90,245.61 L110.90,245.37 L112.90,245.14 L114.90,244.92 L116.90,244.72 L118.90,244.55 L120.90,244.39 L122.90,244.25 L124.90,244.12 L126.90,244.01 L128.90,243.98 L130.90,244.04 L132.90,244.17 L134.90,244.36 L136.90,244.61 L138.90,244.90 L140.90,245.22 L142.90,245.60 L144.90,246.03 L146.90,246.48 L148.90,246.94 L150.90,247.41 L152.90,247.89 L154.90,248.39 L156.90,248.89 L158.90,249.37 L160.90,249.86 L162.90,250.55 L164.90,250.77 L166.90,250.88 L168.90,250.90 L170.90,250.88 L172.90,250.82 L174.90,250.76 L176.90,250.68 L178.90,250.59 L180.90,250.49 L182.90,250.38 L184.90,250.27 L186.90,250.16 L188.90,250.04 L190.90,249.91 L192.90,249.77 L194.90,249.63 L196.90,249.48 L198.90,249.32 L200.90,249.15 L202.90,248.98 L204.90,248.80 L206.90,248.61 L208.90,248.41 L210.90,248.20 L212.90,247.94 L214.90,247.62 L216.90,247.24 L218.50,246.93" fill="none" stroke="#4a4af0" stroke-width="0.3" opacity="0.3"/>
<path d="M42.90,260.29 L44.90,259.79 L46.90,259.30 L48.90,258.82 L50.90,258.37 L52.90,257.92 L54.90,257.48 L56.90,257.04 L58.90,256.59 L60.90,256.12 L62.90,255.64 L64.90,255.16 L66.90,254.68 L68.90,254.19 L70.90,253.71 L72.90,253.21 L74.90,252.71 L76.90,252.21 L78.90,251.73 L80.90,251.27 L82.90,250.82 L84.90,250.39 L86.90,249.96 L88.90,249.55 L90.90,249.14 L92.90,248.75 L94.90,248.38 L96.90,248.02 L98.90,247.68 L100.90,247.36 L102.90,247.05 L104.90,246.75 L106.90,246.47 L108.90,246.20 L110.90,245.95 L112.90,245.70 L114.90,245.47 L116.90,245.26 L118.90,245.08 L120.90,244.92 L122.90,244.77 L124.90,244.64 L126.90,244.54 L128.90,244.51 L130.90,244.57 L132.90,244.71 L134.90,244.90 L136.90,245.16 L138.90,245.45 L140.90,245.78 L142.90,246.16 L144.90,246.59 L146.90,247.04 L148.90,247.51 L150.90,247.98 L152.90,248.47 L154.90,248.98 L156.90,249.49 L158.90,249.98 L160.90,250.49 L162.90,251.22 L164.90,251.43 L166.90,251.51 L168.90,251.51 L170.90,251.47 L172.90,251.40 L174.90,251.32 L176.90,251.22 L178.90,251.12 L180.90,251.00 L182.90,250.88 L184.90,250.76 L186.90,250.63 L188.90,250.50 L190.90,250.36 L192.90,250.21 L194.90,250.06 L196.90,249.90 L198.90,249.73 L200.90,249.56 L202.90,249.38 L204.90,249.19 L206.90,249.00 L208.90,248.80 L210.90,248.58 L212.90,248.32 L214.90,248.01 L216.90,247.64 L218.50,247.34" fill="none" stroke="#4a4af0" stroke-width="0.3" opacity="0.3"/>
<path d="M42.90,262.51 L44.90,261.94 L46.90,261.37 L48.90,260.83 L50.90,260.30 L52.90,259.79 L54.90,259.28 L56.90,258.78 L58.90,258.26 L60.90,257.73 L62.90,257.19 L64.90,256.65 L66.90,256.10 L68.90,255.56 L70.90,255.01 L72.90,254.46 L74.90,253.90 L76.90,253.34 L78.90,252.81 L80.90,252.30 L82.90,251.80 L84.90,251.33 L86.90,250.86 L88.90,250.41 L90.90,249.97 L92.90,249.55 L94.90,249.15 L96.90,248.76 L98.90,248.39 L100.90,248.04 L102.90,247.71 L104.90,247.39 L106.90,247.09 L108.90,246.80 L110.90,246.53 L112.90,246.27 L114.90,246.03 L116.90,245.80 L118.90,245.61 L120.90,245.44 L122.90,245.30 L124.90,245.16 L126.90,245.07 L128.90,245.04 L130.90,245.11 L132.90,245.25 L134.90,245.45 L136.90,245.70 L138.90,246.00 L140.90,246.33 L142.90,246.72 L144.90,247.15 L146.90,247.60 L148.90,248.08 L150.90,248.55 L152.90,249.05 L154.90,249.57 L156.90,250.09 L158.90,250.60 L160.90,251.13 L162.90,251.89 L164.90,252.08 L166.90,252.15 L168.90,252.13 L170.90,252.07 L172.90,251.98 L174.90,251.88 L176.90,251.77 L178.90,251.65 L180.90,251.52 L182.90,251.38 L184.90,251.25 L186.90,251.10 L188.90,250.96 L190.90,250.81 L192.90,250.65 L194.90,250.49 L196.90,250.32 L198.90,250.15 L200.90,249.96 L202.90,249.78 L204.90,249.59 L206.90,249.39 L208.90,249.18 L210.90,248.96 L212.90,248.70 L214.90,248.40 L216.90,248.04 L218.50,247.76" fill="none" stroke="#4a4af0" stroke-width="0.3" opacity="0.3"/>
<path d="M42.90,264.72 L44.90,264.07 L46.90,263.43 L48.90,262.82 L50.90,262.22 L52.90,261.64 L54.90,261.07 L56.90,260.50 L58.90,259.92 L60.90,259.33 L62.90,258.73 L64.90,258.12 L66.90,257.52 L68.90,256.91 L70.90,256.31 L72.90,255.69 L74.90,255.07 L76.90,254.46 L78.90,253.88 L80.90,253.32 L82.90,252.78 L84.90,252.26 L86.90,251.76 L88.90,251.27 L90.90,250.80 L92.90,250.34 L94.90,249.91 L96.90,249.49 L98.90,249.10 L100.90,248.72 L102.90,248.37 L104.90,248.03 L106.90,247.70 L108.90,247.40 L110.90,247.11 L112.90,246.84 L114.90,246.58 L116.90,246.34 L118.90,246.14 L120.90,245.97 L122.90,245.82 L124.90,245.69 L126.90,245.59 L128.90,245.57 L130.90,245.64 L132.90,245.78 L134.90,245.99 L136.90,246.25 L138.90,246.55 L140.90,246.88 L142.90,247.27 L144.90,247.70 L146.90,248.16 L148.90,248.64 L150.90,249.12 L152.90,249.63 L154.90,250.16 L156.90,250.69 L158.90,251.21 L160.90,251.76 L162.90,252.56 L164.90,252.73 L166.90,252.78 L168.90,252.74 L170.90,252.67 L172.90,252.56 L174.90,252.44 L176.90,252.31 L178.90,252.18 L180.90,252.03 L182.90,251.88 L184.90,251.73 L186.90,251.58 L188.90,251.42 L190.90,251.26 L192.90,251.09 L194.90,250.92 L196.90,250.74 L198.90,250.56 L200.90,250.37 L202.90,250.18 L204.90,249.98 L206.90,249.78 L208.90,249.57 L210.90,249.34 L212.90,249.09 L214.90,248.79 L216.90,248.44 L218.50,248.17" fill="none" stroke="#4a4af0" stroke-width="0.3" opacity="0.3"/>
<path d="M42.90,266.89 L44.90,266.17 L46.90,265.46 L48.90,264.77 L50.90,264.11 L52.90,263.47 L54.90,262.83 L56.90,262.20 L58.90,261.56 L60.90,260.90 L62.90,260.24 L64.90,259.58 L66.90,258.91 L68.90,258.25 L70.90,257.58 L72.90,256.91 L74.90,256.23 L76.90,255.57 L78.90,254.93 L80.90,254.32 L82.90,253.74 L84.90,253.18 L86.90,252.64 L88.90,252.11 L90.90,251.61 L92.90,251.12 L94.90,250.66 L96.90,250.21 L98.90,249.79 L100.90,249.39 L102.90,249.01 L104.90,248.65 L106.90,248.31 L108.90,247.99 L110.90,247.68 L112.90,247.39 L114.90,247.12 L116.90,246.87 L118.90,246.66 L120.90,246.48 L122.90,246.33 L124.90,246.20 L126.90,246.11 L128.90,246.10 L130.90,246.16 L132.90,246.31 L134.90,246.52 L136.90,246.79 L138.90,247.09 L140.90,247.43 L142.90,247.82 L144.90,248.25 L146.90,248.72 L148.90,249.20 L150.90,249.68 L152.90,250.20 L154.90,250.74 L156.90,251.28 L158.90,251.81 L160.90,252.38 L162.90,253.22 L164.90,253.38 L166.90,253.40 L168.90,253.35 L170.90,253.25 L172.90,253.13 L174.90,253.00 L176.90,252.85 L178.90,252.70 L180.90,252.54 L182.90,252.37 L184.90,252.21 L186.90,252.04 L188.90,251.87 L190.90,251.70 L192.90,251.52 L194.90,251.34 L196.90,251.16 L198.90,250.96 L200.90,250.77 L202.90,250.57 L204.90,250.37 L206.90,250.16 L208.90,249.94 L210.90,249.72 L212.90,249.46 L214.90,249.17 L216.90,248.84 L218.50,248.57" fill="none" stroke="#4a4af0" stroke-width="0.3" opacity="0.3"/>
<path d="M42.90,269.00 L44.90,268.21 L46.90,267.43 L48.90,266.68 L50.90,265.95 L52.90,265.24 L54.90,264.55 L56.90,263.85 L58.90,263.15 L60.90,262.44 L62.90,261.71 L64.90,260.99 L66.90,260.26 L68.90,259.54 L70.90,258.82 L72.90,258.09 L74.90,257.36 L76.90,256.64 L78.90,255.95 L80.90,255.29 L82.90,254.67 L84.90,254.07 L86.90,253.49 L88.90,252.93 L90.90,252.39 L92.90,251.88 L94.90,251.38 L96.90,250.92 L98.90,250.47 L100.90,250.04 L102.90,249.64 L104.90,249.26 L106.90,248.90 L108.90,248.56 L110.90,248.24 L112.90,247.93 L114.90,247.64 L116.90,247.39 L118.90,247.16 L120.90,246.98 L122.90,246.83 L124.90,246.70 L126.90,246.61 L128.90,246.60 L130.90,246.67 L132.90,246.82 L134.90,247.04 L136.90,247.31 L138.90,247.62 L140.90,247.96 L142.90,248.35 L144.90,248.78 L146.90,249.25 L148.90,249.73 L150.90,250.23 L152.90,250.75 L154.90,251.30 L156.90,251.85 L158.90,252.40 L160.90,252.98 L162.90,253.86 L164.90,254.00 L166.90,254.01 L168.90,253.94 L170.90,253.82 L172.90,253.69 L174.90,253.53 L176.90,253.37 L178.90,253.20 L180.90,253.03 L182.90,252.85 L184.90,252.67 L186.90,252.49 L188.90,252.31 L190.90,252.13 L192.90,251.94 L194.90,251.75 L196.90,251.56 L198.90,251.36 L200.90,251.16 L202.90,250.95 L204.90,250.74 L206.90,250.53 L208.90,250.31 L210.90,250.08 L212.90,249.83 L214.90,249.54 L216.90,249.22 L218.50,248.97" fill="none" stroke="#4a4af0" stroke-width="0.3" opacity="0.3"/>
<path d="M42.90,271.02 L44.90,270.17 L46.90,269.33 L48.90,268.50 L50.90,267.71 L52.90,266.95 L54.90,266.19 L56.90,265.44 L58.90,264.68 L60.90,263.91 L62.90,263.13 L64.90,262.35 L66.90,261.56 L68.90,260.79 L70.90,260.01 L72.90,259.23 L74.90,258.44 L76.90,257.67 L78.90,256.93 L80.90,256.23 L82.90,255.56 L84.90,254.93 L86.90,254.31 L88.90,253.72 L90.90,253.15 L92.90,252.60 L94.90,252.08 L96.90,251.59 L98.90,251.12 L100.90,250.67 L102.90,250.25 L104.90,249.84 L106.90,249.46 L108.90,249.11 L110.90,248.77 L112.90,248.45 L114.90,248.15 L116.90,247.88 L118.90,247.65 L120.90,247.46 L122.90,247.31 L124.90,247.18 L126.90,247.10 L128.90,247.09 L130.90,247.16 L132.90,247.31 L134.90,247.53 L136.90,247.81 L138.90,248.12 L140.90,248.47 L142.90,248.86 L144.90,249.30 L146.90,249.77 L148.90,250.25 L150.90,250.75 L152.90,251.29 L154.90,251.84 L156.90,252.41 L158.90,252.96 L160.90,253.56 L162.90,254.47 L164.90,254.60 L166.90,254.59 L168.90,254.50 L170.90,254.37 L172.90,254.22 L174.90,254.05 L176.90,253.87 L178.90,253.69 L180.90,253.50 L182.90,253.31 L184.90,253.12 L186.90,252.92 L188.90,252.73 L190.90,252.54 L192.90,252.34 L194.90,252.15 L196.90,251.94 L198.90,251.74 L200.90,251.53 L202.90,251.32 L204.90,251.11 L206.90,250.89 L208.90,250.66 L210.90,250.43 L212.90,250.18 L214.90,249.90 L216.90,249.59 L218.50,249.34" fill="none" stroke="#4a4af0" stroke-width="0.3" opacity="0.3"/>
<path d="M42.90,272.95 L44.90,272.03 L46.90,271.12 L48.90,270.24 L50.90,269.38 L52.90,268.56 L54.90,267.75 L56.90,266.94 L58.90,266.13 L60.90,265.30 L62.90,264.47 L64.90,263.63 L66.90,262.80 L68.90,261.97 L70.90,261.14 L72.90,260.31 L74.90,259.47 L76.90,258.65 L78.90,257.86 L80.90,257.12 L82.90,256.41 L84.90,255.74 L86.90,255.09 L88.90,254.47 L90.90,253.87 L92.90,253.29 L94.90,252.75 L96.90,252.23 L98.90,251.73 L100.90,251.26 L102.90,250.82 L104.90,250.40 L106.90,250.00 L108.90,249.63 L110.90,249.27 L112.90,248.94 L114.90,248.63 L116.90,248.35 L118.90,248.11 L120.90,247.92 L122.90,247.76 L124.90,247.63 L126.90,247.56 L128.90,247.55 L130.90,247.62 L132.90,247.78 L134.90,248.00 L136.90,248.28 L138.90,248.60 L140.90,248.95 L142.90,249.34 L144.90,249.78 L146.90,250.25 L148.90,250.74 L150.90,251.25 L152.90,251.79 L154.90,252.36 L156.90,252.93 L158.90,253.49 L160.90,254.11 L162.90,255.05 L164.90,255.17 L166.90,255.14 L168.90,255.03 L170.90,254.89 L172.90,254.72 L174.90,254.54 L176.90,254.35 L178.90,254.15 L180.90,253.95 L182.90,253.74 L184.90,253.54 L186.90,253.33 L188.90,253.13 L190.90,252.93 L192.90,252.73 L194.90,252.52 L196.90,252.31 L198.90,252.10 L200.90,251.89 L202.90,251.67 L204.90,251.45 L206.90,251.23 L208.90,251.00 L210.90,250.76 L212.90,250.51 L214.90,250.24 L216.90,249.94 L218.50,249.70" fill="none" stroke="#4a4af0" stroke-width="0.3" opacity="0.3"/>
<path d="M42.90,274.74 L44.90,273.77 L46.90,272.80 L48.90,271.85 L50.90,270.95 L52.90,270.07 L54.90,269.21 L56.90,268.34 L58.90,267.48 L60.90,266.60 L62.90,265.72 L64.90,264.83 L66.90,263.95 L68.90,263.07 L70.90,262.20 L72.90,261.31 L74.90,260.43 L76.90,259.56 L78.90,258.73 L80.90,257.95 L82.90,257.21 L84.90,256.50 L86.90,255.82 L88.90,255.16 L90.90,254.54 L92.90,253.94 L94.90,253.37 L96.90,252.82 L98.90,252.31 L100.90,251.82 L102.90,251.35 L104.90,250.91 L106.90,250.50 L108.90,250.11 L110.90,249.75 L112.90,249.40 L114.90,249.08 L116.90,248.79 L118.90,248.54 L120.90,248.35 L122.90,248.18 L124.90,248.06 L126.90,247.98 L128.90,247.98 L130.90,248.06 L132.90,248.22 L134.90,248.44 L136.90,248.73 L138.90,249.05 L140.90,249.40 L142.90,249.80 L144.90,250.24 L146.90,250.71 L148.90,251.20 L150.90,251.71 L152.90,252.26 L154.90,252.84 L156.90,253.42 L158.90,253.99 L160.90,254.62 L162.90,255.60 L164.90,255.70 L166.90,255.65 L168.90,255.53 L170.90,255.37 L172.90,255.19 L174.90,255.00 L176.90,254.79 L178.90,254.58 L180.90,254.37 L182.90,254.15 L184.90,253.93 L186.90,253.72 L188.90,253.50 L190.90,253.29 L192.90,253.08 L194.90,252.87 L196.90,252.65 L198.90,252.44 L200.90,252.22 L202.90,251.99 L204.90,251.77 L206.90,251.54 L208.90,251.31 L210.90,251.08 L212.90,250.82 L214.90,250.56 L216.90,250.27 L218.50,250.04" fill="none" stroke="#4a4af0" stroke-width="0.3" opacity="0.3"/>
<path d="M42.90,276.39 L44.90,275.36 L46.90,274.34 L48.90,273.34 L50.90,272.38 L52.90,271.46 L54.90,270.54 L56.90,269.63 L58.90,268.72 L60.90,267.80 L62.90,266.87 L64.90,265.94 L66.90,265.01 L68.90,264.08 L70.90,263.16 L72.90,262.24 L74.90,261.31 L76.90,260.40 L78.90,259.53 L80.90,258.71 L82.90,257.93 L84.90,257.19 L86.90,256.48 L88.90,255.80 L90.90,255.15 L92.90,254.53 L94.90,253.93 L96.90,253.37 L98.90,252.84 L100.90,252.33 L102.90,251.84 L104.90,251.39 L106.90,250.96 L108.90,250.56 L110.90,250.18 L112.90,249.82 L114.90,249.49 L116.90,249.19 L118.90,248.94 L120.90,248.74 L122.90,248.57 L124.90,248.45 L126.90,248.38 L128.90,248.37 L130.90,248.45 L132.90,248.62 L134.90,248.85 L136.90,249.13 L138.90,249.46 L140.90,249.81 L142.90,250.21 L144.90,250.65 L146.90,251.13 L148.90,251.62 L150.90,252.14 L152.90,252.69 L154.90,253.28 L156.90,253.87 L158.90,254.45 L160.90,255.09 L162.90,256.10 L164.90,256.19 L166.90,256.13 L168.90,255.99 L170.90,255.82 L172.90,255.62 L174.90,255.42 L176.90,255.20 L178.90,254.98 L180.90,254.75 L182.90,254.52 L184.90,254.29 L186.90,254.07 L188.90,253.85 L190.90,253.63 L192.90,253.41 L194.90,253.19 L196.90,252.97 L198.90,252.74 L200.90,252.52 L202.90,252.29 L204.90,252.06 L206.90,251.83 L208.90,251.60 L210.90,251.36 L212.90,251.11 L214.90,250.85 L216.90,250.57 L218.50,250.34" fill="none" stroke="#4a4af0" stroke-width="0.3" opacity="0.3"/>
<path d="M42.90,277.88 L44.90,276.80 L46.90,275.72 L48.90,274.68 L50.90,273.68 L52.90,272.70 L54.90,271.75 L56.90,270.80 L58.90,269.84 L60.90,268.88 L62.90,267.90 L64.90,266.93 L66.90,265.96 L68.90,264.99 L70.90,264.04 L72.90,263.07 L74.90,262.10 L76.90,261.15 L78.90,260.25 L80.90,259.40 L82.90,258.59 L84.90,257.82 L86.90,257.09 L88.90,256.38 L90.90,255.70 L92.90,255.06 L94.90,254.45 L96.90,253.87 L98.90,253.31 L100.90,252.78 L102.90,252.29 L104.90,251.82 L106.90,251.37 L108.90,250.96 L110.90,250.57 L112.90,250.20 L114.90,249.86 L116.90,249.55 L118.90,249.29 L120.90,249.09 L122.90,248.92 L124.90,248.80 L126.90,248.73 L128.90,248.73 L130.90,248.81 L132.90,248.98 L134.90,249.21 L136.90,249.50 L138.90,249.83 L140.90,250.18 L142.90,250.58 L144.90,251.03 L146.90,251.50 L148.90,252.00 L150.90,252.52 L152.90,253.08 L154.90,253.67 L156.90,254.27 L158.90,254.86 L160.90,255.51 L162.90,256.55 L164.90,256.62 L166.90,256.55 L168.90,256.40 L170.90,256.22 L172.90,256.01 L174.90,255.79 L176.90,255.57 L178.90,255.33 L180.90,255.10 L182.90,254.86 L184.90,254.62 L186.90,254.39 L188.90,254.16 L190.90,253.93 L192.90,253.71 L194.90,253.48 L196.90,253.25 L198.90,253.02 L200.90,252.79 L202.90,252.56 L204.90,252.33 L206.90,252.09 L208.90,251.86 L210.90,251.62 L212.90,251.37 L214.90,251.11 L216.90,250.84 L218.50,250.62" fill="none" stroke="#4a4af0" stroke-width="0.3" opacity="0.3"/>
<path d="M42.90,279.18 L44.90,278.06 L46.90,276.94 L48.90,275.86 L50.90,274.81 L52.90,273.80 L54.90,272.81 L56.90,271.82 L58.90,270.82 L60.90,269.82 L62.90,268.81 L64.90,267.80 L66.90,266.80 L68.90,265.80 L70.90,264.80 L72.90,263.80 L74.90,262.80 L76.90,261.82 L78.90,260.88 L80.90,260.00 L82.90,259.17 L84.90,258.37 L86.90,257.61 L88.90,256.89 L90.90,256.19 L92.90,255.53 L94.90,254.90 L96.90,254.30 L98.90,253.73 L100.90,253.19 L102.90,252.67 L104.90,252.19 L106.90,251.74 L108.90,251.31 L110.90,250.91 L112.90,250.54 L114.90,250.18 L116.90,249.87 L118.90,249.61 L120.90,249.40 L122.90,249.23 L124.90,249.11 L126.90,249.04 L128.90,249.04 L130.90,249.13 L132.90,249.29 L134.90,249.53 L136.90,249.82 L138.90,250.15 L140.90,250.51 L142.90,250.91 L144.90,251.36 L146.90,251.83 L148.90,252.34 L150.90,252.86 L152.90,253.43 L154.90,254.02 L156.90,254.62 L158.90,255.22 L160.90,255.88 L162.90,256.94 L164.90,257.01 L166.90,256.93 L168.90,256.77 L170.90,256.57 L172.90,256.36 L174.90,256.13 L176.90,255.89 L178.90,255.65 L180.90,255.40 L182.90,255.15 L184.90,254.91 L186.90,254.66 L188.90,254.43 L190.90,254.19 L192.90,253.96 L194.90,253.73 L196.90,253.50 L198.90,253.27 L200.90,253.03 L202.90,252.80 L204.90,252.56 L206.90,252.32 L208.90,252.08 L210.90,251.84 L212.90,251.59 L214.90,251.34 L216.90,251.07 L218.50,250.86" fill="none" stroke="#4a4af0" stroke-width="0.3" opacity="0.3"/>
<path d="M42.90,280.29 L44.90,279.13 L46.90,277.98 L48.90,276.86 L50.90,275.78 L52.90,274.73 L54.90,273.71 L56.90,272.68 L58.90,271.66 L60.90,270.63 L62.90,269.59 L64.90,268.55 L66.90,267.51 L68.90,266.48 L70.90,265.45 L72.90,264.42 L74.90,263.39 L76.90,262.38 L78.90,261.42 L80.90,260.51 L82.90,259.66 L84.90,258.84 L86.90,258.06 L88.90,257.32 L90.90,256.60 L92.90,255.93 L94.90,255.28 L96.90,254.67 L98.90,254.08 L100.90,253.53 L102.90,253.01 L104.90,252.51 L106.90,252.05 L108.90,251.61 L110.90,251.21 L112.90,250.82 L114.90,250.46 L116.90,250.14 L118.90,249.87 L120.90,249.66 L122.90,249.49 L124.90,249.37 L126.90,249.31 L128.90,249.31 L130.90,249.39 L132.90,249.56 L134.90,249.80 L136.90,250.10 L138.90,250.43 L140.90,250.79 L142.90,251.19 L144.90,251.64 L146.90,252.12 L148.90,252.62 L150.90,253.15 L152.90,253.72 L154.90,254.32 L156.90,254.93 L158.90,255.53 L160.90,256.20 L162.90,257.28 L164.90,257.34 L166.90,257.24 L168.90,257.07 L170.90,256.87 L172.90,256.65 L174.90,256.41 L176.90,256.16 L178.90,255.91 L180.90,255.66 L182.90,255.40 L184.90,255.15 L186.90,254.90 L188.90,254.66 L190.90,254.42 L192.90,254.19 L194.90,253.95 L196.90,253.71 L198.90,253.47 L200.90,253.24 L202.90,253.00 L204.90,252.76 L206.90,252.52 L208.90,252.28 L210.90,252.03 L212.90,251.79 L214.90,251.53 L216.90,251.28 L218.50,251.07" fill="none" stroke="#4a4af0" stroke-width="0.3" opacity="0.3"/>
<path d="M42.90,281.19 L44.90,280.00 L46.90,278.82 L48.90,277.67 L50.90,276.56 L52.90,275.49 L54.90,274.44 L56.90,273.39 L58.90,272.34 L60.90,271.28 L62.90,270.22 L64.90,269.15 L66.90,268.09 L68.90,267.03 L70.90,265.98 L72.90,264.93 L74.90,263.87 L76.90,262.84 L78.90,261.85 L80.90,260.93 L82.90,260.05 L84.90,259.22 L86.90,258.43 L88.90,257.67 L90.90,256.94 L92.90,256.25 L94.90,255.59 L96.90,254.97 L98.90,254.37 L100.90,253.81 L102.90,253.27 L104.90,252.77 L106.90,252.30 L108.90,251.86 L110.90,251.44 L112.90,251.05 L114.90,250.69 L116.90,250.36 L118.90,250.09 L120.90,249.88 L122.90,249.71 L124.90,249.58 L126.90,249.52 L128.90,249.53 L130.90,249.61 L132.90,249.78 L134.90,250.02 L136.90,250.32 L138.90,250.65 L140.90,251.01 L142.90,251.42 L144.90,251.87 L146.90,252.35 L148.90,252.85 L150.90,253.38 L152.90,253.95 L154.90,254.56 L156.90,255.17 L158.90,255.78 L160.90,256.46 L162.90,257.55 L164.90,257.60 L166.90,257.50 L168.90,257.33 L170.90,257.11 L172.90,256.88 L174.90,256.64 L176.90,256.39 L178.90,256.13 L180.90,255.87 L182.90,255.61 L184.90,255.35 L186.90,255.09 L188.90,254.85 L190.90,254.60 L192.90,254.36 L194.90,254.12 L196.90,253.88 L198.90,253.64 L200.90,253.40 L202.90,253.16 L204.90,252.92 L206.90,252.68 L208.90,252.43 L210.90,252.19 L212.90,251.94 L214.90,251.69 L216.90,251.44 L218.50,251.24" fill="none" stroke="#4a4af0" stroke-width="0.3" opacity="0.3"/>
<path d="M42.90,281.88 L44.90,280.67 L46.90,279.46 L48.90,278.29 L50.90,277.16 L52.90,276.07 L54.90,274.99 L56.90,273.93 L58.90,272.86 L60.90,271.78 L62.90,270.70 L64.90,269.61 L66.90,268.53 L68.90,267.45 L70.90,266.39 L72.90,265.31 L74.90,264.24 L76.90,263.19 L78.90,262.19 L80.90,261.24 L82.90,260.36 L84.90,259.51 L86.90,258.71 L88.90,257.94 L90.90,257.20 L92.90,256.50 L94.90,255.83 L96.90,255.19 L98.90,254.59 L100.90,254.02 L102.90,253.48 L104.90,252.97 L106.90,252.49 L108.90,252.04 L110.90,251.62 L112.90,251.23 L114.90,250.86 L116.90,250.53 L118.90,250.25 L120.90,250.04 L122.90,249.87 L124.90,249.75 L126.90,249.68 L128.90,249.69 L130.90,249.78 L132.90,249.95 L134.90,250.19 L136.90,250.49 L138.90,250.82 L140.90,251.19 L142.90,251.59 L144.90,252.04 L146.90,252.52 L148.90,253.03 L150.90,253.56 L152.90,254.13 L154.90,254.74 L156.90,255.36 L158.90,255.97 L160.90,256.65 L162.90,257.76 L164.90,257.81 L166.90,257.70 L168.90,257.52 L170.90,257.30 L172.90,257.06 L174.90,256.81 L176.90,256.56 L178.90,256.29 L180.90,256.03 L182.90,255.76 L184.90,255.50 L186.90,255.24 L188.90,254.99 L190.90,254.74 L192.90,254.50 L194.90,254.26 L196.90,254.02 L198.90,253.77 L200.90,253.53 L202.90,253.29 L204.90,253.04 L206.90,252.80 L208.90,252.55 L210.90,252.31 L212.90,252.06 L214.90,251.81 L216.90,251.57 L218.50,251.37" fill="none" stroke="#4a4af0" stroke-width="0.3" opacity="0.3"/>
<path d="M42.90,282.34 L44.90,281.11 L46.90,279.89 L48.90,278.70 L50.90,277.56 L52.90,276.46 L54.90,275.37 L56.90,274.29 L58.90,273.21 L60.90,272.11 L62.90,271.02 L64.90,269.92 L66.90,268.82 L68.90,267.74 L70.90,266.66 L72.90,265.57 L74.90,264.48 L76.90,263.42 L78.90,262.41 L80.90,261.46 L82.90,260.56 L84.90,259.71 L86.90,258.89 L88.90,258.12 L90.90,257.37 L92.90,256.66 L94.90,255.99 L96.90,255.35 L98.90,254.74 L100.90,254.16 L102.90,253.62 L104.90,253.10 L106.90,252.62 L108.90,252.17 L110.90,251.74 L112.90,251.34 L114.90,250.97 L116.90,250.64 L118.90,250.36 L120.90,250.15 L122.90,249.98 L124.90,249.86 L126.90,249.79 L128.90,249.80 L130.90,249.89 L132.90,250.06 L134.90,250.30 L136.90,250.60 L138.90,250.94 L140.90,251.30 L142.90,251.71 L144.90,252.15 L146.90,252.64 L148.90,253.14 L150.90,253.68 L152.90,254.26 L154.90,254.86 L156.90,255.48 L158.90,256.10 L160.90,256.79 L162.90,257.90 L164.90,257.94 L166.90,257.83 L168.90,257.64 L170.90,257.42 L172.90,257.18 L174.90,256.93 L176.90,256.67 L178.90,256.40 L180.90,256.13 L182.90,255.87 L184.90,255.60 L186.90,255.34 L188.90,255.08 L190.90,254.84 L192.90,254.59 L194.90,254.35 L196.90,254.10 L198.90,253.86 L200.90,253.61 L202.90,253.37 L204.90,253.12 L206.90,252.88 L208.90,252.63 L210.90,252.39 L212.90,252.14 L214.90,251.90 L216.90,251.65 L218.50,251.45" fill="none" stroke="#4a4af0" stroke-width="0.3" opacity="0.3"/>
<path d="M42.90,282.57 L44.90,281.34 L46.90,280.11 L48.90,278.91 L50.90,277.76 L52.90,276.65 L54.90,275.56 L56.90,274.47 L58.90,273.38 L60.90,272.28 L62.90,271.18 L64.90,270.07 L66.90,268.97 L68.90,267.88 L70.90,266.79 L72.90,265.70 L74.90,264.61 L76.90,263.54 L78.90,262.52 L80.90,261.56 L82.90,260.66 L84.90,259.80 L86.90,258.99 L88.90,258.21 L90.90,257.46 L92.90,256.74 L94.90,256.07 L96.90,255.43 L98.90,254.81 L100.90,254.23 L102.90,253.68 L104.90,253.17 L106.90,252.68 L108.90,252.23 L110.90,251.80 L112.90,251.40 L114.90,251.03 L116.90,250.70 L118.90,250.42 L120.90,250.20 L122.90,250.03 L124.90,249.91 L126.90,249.85 L128.90,249.86 L130.90,249.94 L132.90,250.12 L134.90,250.36 L136.90,250.66 L138.90,251.00 L140.90,251.36 L142.90,251.77 L144.90,252.21 L146.90,252.70 L148.90,253.20 L150.90,253.74 L152.90,254.32 L154.90,254.92 L156.90,255.55 L158.90,256.16 L160.90,256.85 L162.90,257.97 L164.90,258.01 L166.90,257.90 L168.90,257.71 L170.90,257.49 L172.90,257.25 L174.90,256.99 L176.90,256.73 L178.90,256.46 L180.90,256.19 L182.90,255.92 L184.90,255.65 L186.90,255.39 L188.90,255.13 L190.90,254.88 L192.90,254.64 L194.90,254.39 L196.90,254.15 L198.90,253.90 L200.90,253.66 L202.90,253.41 L204.90,253.17 L206.90,252.92 L208.90,252.67 L210.90,252.43 L212.90,252.18 L214.90,251.94 L216.90,251.69 L218.50,251.49" fill="none" stroke="#4a4af0" stroke-width="0.3" opacity="0.3"/>
<path d="M112.00,232.90 C113.33,232.52 117.33,231.13 120.00,230.60 C122.67,230.07 124.67,229.70 128.00,229.70 C131.33,229.70 136.33,230.08 140.00,230.60 C143.67,231.12 146.67,232.35 150.00,232.80 C153.33,233.25 155.83,233.18 160.00,233.30 C164.17,233.42 172.50,233.47 175.00,233.50 L175.00,236.00 C173.33,236.67 167.50,238.90 165.00,240.00 C162.50,241.10 162.50,242.73 160.00,242.60 C157.50,242.47 153.33,240.20 150.00,239.20 C146.67,238.20 143.33,237.37 140.00,236.60 C136.67,235.83 134.67,235.17 130.00,234.60 C125.33,234.03 115.00,233.43 112.00,233.20 Z" fill="#f2f2fd" stroke="none" stroke-width="1.0"/>
<path d="M150.00,234.50 C153.33,234.42 161.67,234.05 170.00,234.00 C178.33,233.95 192.67,234.03 200.00,234.20 C207.33,234.37 211.33,234.20 214.00,235.00 C216.67,235.80 216.67,237.63 216.00,239.00 C215.33,240.37 214.33,242.33 210.00,243.20 C205.67,244.07 196.67,244.20 190.00,244.20 C183.33,244.20 175.83,243.73 170.00,243.20 C164.17,242.67 158.33,241.87 155.00,241.00 C151.67,240.13 150.83,238.50 150.00,238.00 Z" fill="#eeeefc" stroke="none" stroke-width="1.0"/>
<path d="M42.90,240.20 C45.75,240.42 53.82,241.20 60.00,241.50 C66.18,241.80 73.33,242.05 80.00,242.00 C86.67,241.95 93.33,241.50 100.00,241.20 C106.67,240.90 115.00,240.45 120.00,240.20 C125.00,239.95 126.67,239.63 130.00,239.70 C133.33,239.77 136.67,240.12 140.00,240.60 C143.33,241.08 146.67,241.93 150.00,242.60 C153.33,243.27 156.67,244.03 160.00,244.60 C163.33,245.17 165.00,245.72 170.00,246.00 C175.00,246.28 183.33,246.43 190.00,246.30 C196.67,246.17 205.25,245.65 210.00,245.20 C214.75,244.75 217.08,243.87 218.50,243.60" fill="none" stroke="#2a2cf0" stroke-width="1.5"/>
<path d="M42.90,282.60 C44.08,281.88 47.15,279.93 50.00,278.30 C52.85,276.67 56.67,274.63 60.00,272.80 C63.33,270.97 66.67,269.10 70.00,267.30 C73.33,265.50 76.67,263.58 80.00,262.00 C83.33,260.42 86.67,259.05 90.00,257.80 C93.33,256.55 96.67,255.47 100.00,254.50 C103.33,253.53 106.67,252.70 110.00,252.00 C113.33,251.30 116.67,250.65 120.00,250.30 C123.33,249.95 126.67,249.75 130.00,249.90 C133.33,250.05 136.67,250.60 140.00,251.20 C143.33,251.80 146.67,252.62 150.00,253.50 C153.33,254.38 157.42,255.75 160.00,256.50 C162.58,257.25 160.50,258.25 165.50,258.00 C170.50,257.75 181.17,256.08 190.00,255.00 C198.83,253.92 213.75,252.08 218.50,251.50" fill="none" stroke="#2a2cf0" stroke-width="1.5"/>
<path d="M111.00,233.00 C114.17,233.25 123.50,233.38 130.00,234.50 C136.50,235.62 145.00,238.22 150.00,239.70 C155.00,241.18 156.67,242.30 160.00,243.40 C163.33,244.50 168.33,245.82 170.00,246.30" fill="none" stroke="#5050f2" stroke-width="0.7"/>
<path d="M150.00,244.00 C151.67,244.52 155.83,246.32 160.00,247.10 C164.17,247.88 165.25,248.48 175.00,248.70 C184.75,248.92 211.25,248.45 218.50,248.40" fill="none" stroke="#6a6af2" stroke-width="0.7"/>
<path d="M111.00,232.80 C112.50,232.38 117.17,230.87 120.00,230.30 C122.83,229.73 124.67,229.38 128.00,229.40 C131.33,229.42 136.33,229.87 140.00,230.40 C143.67,230.93 146.67,232.17 150.00,232.60 C153.33,233.03 149.33,232.93 160.00,233.00 C170.67,233.07 204.25,232.50 214.00,233.00 C223.75,233.50 217.75,234.83 218.50,236.00 C219.25,237.17 218.92,238.83 218.50,240.00 C218.08,241.17 216.42,242.50 216.00,243.00" fill="none" stroke="#8080f4" stroke-width="0.6"/>
<path d="M120.00,236.20 C123.33,236.42 134.17,236.95 140.00,237.50 C145.83,238.05 150.83,238.83 155.00,239.50 C159.17,240.17 163.33,241.17 165.00,241.50" fill="none" stroke="#9a9af6" stroke-width="0.5"/>
<path d="M160.00,236.00 C164.17,235.92 177.00,235.42 185.00,235.50 C193.00,235.58 203.50,235.92 208.00,236.50 C212.50,237.08 212.50,238.17 212.00,239.00 C211.50,239.83 209.50,241.03 205.00,241.50 C200.50,241.97 190.83,241.97 185.00,241.80 C179.17,241.63 172.50,240.72 170.00,240.50" fill="none" stroke="#a8a8f6" stroke-width="0.5"/>
<path d="M175.00,238.00 C178.33,237.97 190.33,237.58 195.00,237.80 C199.67,238.02 203.83,238.90 203.00,239.30 C202.17,239.70 194.17,240.15 190.00,240.20 C185.83,240.25 180.00,239.70 178.00,239.60" fill="none" stroke="#b8b8f8" stroke-width="0.4"/>
<path d="M60.00,239.40 C65.00,239.17 81.67,238.65 90.00,238.00 C98.33,237.35 103.33,236.17 110.00,235.50 C116.67,234.83 123.33,233.92 130.00,234.00 C136.67,234.08 146.67,235.67 150.00,236.00" fill="none" stroke="#a0a0f6" stroke-width="0.5"/>
<path d="M218.5,251.5 L218.5,258.2 L166,258.6" fill="none" stroke="#b0b0f6" stroke-width="0.4"/>
<path d="M291.10,282.60 C293.13,281.72 298.77,279.35 303.30,277.30 C307.83,275.25 313.30,272.58 318.30,270.30 C323.30,268.02 328.30,265.47 333.30,263.60 C338.30,261.73 344.13,259.93 348.30,259.10 C352.47,258.27 354.97,258.20 358.30,258.60 C361.63,259.00 364.97,259.72 368.30,261.50 C371.63,263.28 374.13,266.17 378.30,269.30 C382.47,272.43 388.30,277.38 393.30,280.30 C398.30,283.22 402.47,284.62 408.30,286.80 C414.13,288.98 421.63,291.45 428.30,293.40 C434.97,295.35 441.72,297.40 448.30,298.50 C454.88,299.60 464.55,299.75 467.80,300.00" fill="none" stroke="#ebebeb" stroke-width="0.5"/>
<path d="M400.30,260.50 C401.13,261.05 403.13,262.48 405.30,263.80 C407.47,265.12 409.47,266.97 413.30,268.40 C417.13,269.83 422.47,271.30 428.30,272.40 C434.13,273.50 441.72,274.48 448.30,275.00 C454.88,275.52 464.55,275.42 467.80,275.50 L467.80,300.00" fill="none" stroke="#ebebeb" stroke-width="0.5"/>
<path d="M346.30,229.50 C349.97,229.25 361.30,228.05 368.30,228.00 C375.30,227.95 383.30,228.68 388.30,229.20 C393.30,229.72 394.97,230.52 398.30,231.10 C401.63,231.68 404.97,232.40 408.30,232.70 C411.63,233.00 408.38,232.87 418.30,232.90 C428.22,232.93 459.55,232.90 467.80,232.90 L467.80,243.30" fill="none" stroke="#ebebeb" stroke-width="0.5"/>
<path d="M291.50,240.30 L335.60,251.00 L291.50,282.80 Z" fill="url(#g12)" stroke="none" stroke-width="1.0"/>
<path d="M291.50,240.30 C294.58,239.98 303.58,238.97 310.00,238.40 C316.42,237.83 323.33,237.53 330.00,236.90 C336.67,236.27 344.17,235.48 350.00,234.60 C355.83,233.72 361.03,232.40 365.00,231.60 C368.97,230.80 372.33,230.10 373.80,229.80 L335.6,251 L335.60,251.00 C333.00,250.47 324.27,248.77 320.00,247.80 C315.73,246.83 313.33,246.10 310.00,245.20 C306.67,244.30 303.08,243.22 300.00,242.40 C296.92,241.58 292.92,240.65 291.50,240.30 Z" fill="url(#g13)" stroke="none" stroke-width="1.0"/>
<path d="M335.60,251.00 L373.80,229.80 L377.00,229.40 L382.00,230.30 L390.00,232.50 L403.00,236.60 L403.00,258.60 L390.00,256.20 L370.00,254.00 L350.00,252.40 L335.60,251.00 Z" fill="url(#g14)" stroke="none" stroke-width="1.0"/>
<path d="M336.80,251.00 L374.88,230.22 L390.00,233.46 L403.00,237.56" fill="none" stroke="#3c8cf0" stroke-width="0.4" opacity="0.35"/>
<path d="M337.40,250.64 L350.00,251.20 L370.00,252.80 L390.00,255.00 L403.00,257.40" fill="none" stroke="#30c0f0" stroke-width="0.4" opacity="0.35"/>
<path d="M338.00,251.00 L375.96,230.64 L390.00,234.42 L403.00,238.52" fill="none" stroke="#3c8cf0" stroke-width="0.4" opacity="0.27999999999999997"/>
<path d="M339.20,250.28 L350.00,250.00 L370.00,251.60 L390.00,253.80 L403.00,256.20" fill="none" stroke="#30c0f0" stroke-width="0.4" opacity="0.27999999999999997"/>
<path d="M339.40,251.00 L377.22,231.13 L390.00,235.54 L403.00,239.64" fill="none" stroke="#3c8cf0" stroke-width="0.4" opacity="0.20999999999999996"/>
<path d="M341.30,249.86 L350.00,248.60 L370.00,250.20 L390.00,252.40 L403.00,254.80" fill="none" stroke="#30c0f0" stroke-width="0.4" opacity="0.20999999999999996"/>
<path d="M341.10,251.00 L378.75,231.73 L390.00,236.90 L403.00,241.00" fill="none" stroke="#3c8cf0" stroke-width="0.4" opacity="0.13999999999999996"/>
<path d="M343.85,249.35 L350.00,246.90 L370.00,248.50 L390.00,250.70 L403.00,253.10" fill="none" stroke="#30c0f0" stroke-width="0.4" opacity="0.13999999999999996"/>
<path d="M291.50,240.30 L335.60,251.00" fill="none" stroke="#3840e8" stroke-width="0.3" opacity="0.12"/>
<path d="M291.50,242.43 L335.60,251.00" fill="none" stroke="#3840e8" stroke-width="0.3" opacity="0.12"/>
<path d="M291.50,244.55 L335.60,251.00" fill="none" stroke="#3840e8" stroke-width="0.3" opacity="0.12"/>
<path d="M291.50,246.68 L335.60,251.00" fill="none" stroke="#3840e8" stroke-width="0.3" opacity="0.12"/>
<path d="M291.50,248.80 L335.60,251.00" fill="none" stroke="#3840e8" stroke-width="0.3" opacity="0.12"/>
<path d="M291.50,250.93 L335.60,251.00" fill="none" stroke="#3840e8" stroke-width="0.3" opacity="0.12"/>
<path d="M291.50,253.05 L335.60,251.00" fill="none" stroke="#3840e8" stroke-width="0.3" opacity="0.12"/>
<path d="M291.50,255.18 L335.60,251.00" fill="none" stroke="#3840e8" stroke-width="0.3" opacity="0.12"/>
<path d="M291.50,257.30 L335.60,251.00" fill="none" stroke="#3840e8" stroke-width="0.3" opacity="0.12"/>
<path d="M291.50,259.43 L335.60,251.00" fill="none" stroke="#3840e8" stroke-width="0.3" opacity="0.12"/>
<path d="M291.50,261.55 L335.60,251.00" fill="none" stroke="#3840e8" stroke-width="0.3" opacity="0.12"/>
<path d="M291.50,263.68 L335.60,251.00" fill="none" stroke="#3840e8" stroke-width="0.3" opacity="0.12"/>
<path d="M291.50,265.80 L335.60,251.00" fill="none" stroke="#3840e8" stroke-width="0.3" opacity="0.12"/>
<path d="M291.50,267.93 L335.60,251.00" fill="none" stroke="#3840e8" stroke-width="0.3" opacity="0.12"/>
<path d="M291.50,270.05 L335.60,251.00" fill="none" stroke="#3840e8" stroke-width="0.3" opacity="0.12"/>
<path d="M291.50,272.18 L335.60,251.00" fill="none" stroke="#3840e8" stroke-width="0.3" opacity="0.12"/>
<path d="M291.50,274.30 L335.60,251.00" fill="none" stroke="#3840e8" stroke-width="0.3" opacity="0.12"/>
<path d="M291.50,276.43 L335.60,251.00" fill="none" stroke="#3840e8" stroke-width="0.3" opacity="0.12"/>
<path d="M291.50,278.55 L335.60,251.00" fill="none" stroke="#3840e8" stroke-width="0.3" opacity="0.12"/>
<path d="M291.50,280.68 L335.60,251.00" fill="none" stroke="#3840e8" stroke-width="0.3" opacity="0.12"/>
<path d="M291.50,282.80 L335.60,251.00" fill="none" stroke="#3840e8" stroke-width="0.3" opacity="0.12"/>
<path d="M403.00,236.60 L335.60,251.00" fill="none" stroke="#40b0f0" stroke-width="0.3" opacity="0.15"/>
<path d="M403.00,237.97 L335.60,251.00" fill="none" stroke="#40b0f0" stroke-width="0.3" opacity="0.15"/>
<path d="M403.00,239.35 L335.60,251.00" fill="none" stroke="#40b0f0" stroke-width="0.3" opacity="0.15"/>
<path d="M403.00,240.72 L335.60,251.00" fill="none" stroke="#40b0f0" stroke-width="0.3" opacity="0.15"/>
<path d="M403.00,242.10 L335.60,251.00" fill="none" stroke="#40b0f0" stroke-width="0.3" opacity="0.15"/>
<path d="M403.00,243.47 L335.60,251.00" fill="none" stroke="#40b0f0" stroke-width="0.3" opacity="0.15"/>
<path d="M403.00,244.85 L335.60,251.00" fill="none" stroke="#40b0f0" stroke-width="0.3" opacity="0.15"/>
<path d="M403.00,246.22 L335.60,251.00" fill="none" stroke="#40b0f0" stroke-width="0.3" opacity="0.15"/>
<path d="M403.00,247.60 L335.60,251.00" fill="none" stroke="#40b0f0" stroke-width="0.3" opacity="0.15"/>
<path d="M403.00,248.98 L335.60,251.00" fill="none" stroke="#40b0f0" stroke-width="0.3" opacity="0.15"/>
<path d="M403.00,250.35 L335.60,251.00" fill="none" stroke="#40b0f0" stroke-width="0.3" opacity="0.15"/>
<path d="M403.00,251.73 L335.60,251.00" fill="none" stroke="#40b0f0" stroke-width="0.3" opacity="0.15"/>
<path d="M403.00,253.10 L335.60,251.00" fill="none" stroke="#40b0f0" stroke-width="0.3" opacity="0.15"/>
<path d="M403.00,254.48 L335.60,251.00" fill="none" stroke="#40b0f0" stroke-width="0.3" opacity="0.15"/>
<path d="M403.00,255.85 L335.60,251.00" fill="none" stroke="#40b0f0" stroke-width="0.3" opacity="0.15"/>
<path d="M403.00,257.23 L335.60,251.00" fill="none" stroke="#40b0f0" stroke-width="0.3" opacity="0.15"/>
<path d="M403.00,258.60 L335.60,251.00" fill="none" stroke="#40b0f0" stroke-width="0.3" opacity="0.15"/>
<path d="M403,233.5 L467.5,233.5 L467.5,259 L403,259 Z" fill="#f3fbf5" stroke="none" stroke-width="1.0"/>
<path d="M403.00,236.00 L467.50,245.26" fill="none" stroke="url(#g15)" stroke-width="0.4" opacity="0.6"/>
<path d="M403.00,237.70 L467.50,245.62" fill="none" stroke="url(#g15)" stroke-width="0.4" opacity="0.6"/>
<path d="M403.00,239.40 L467.50,247.27" fill="none" stroke="url(#g15)" stroke-width="0.4" opacity="0.6"/>
<path d="M403.00,241.10 L467.50,247.31" fill="none" stroke="url(#g15)" stroke-width="0.4" opacity="0.6"/>
<path d="M403.00,242.80 L467.50,247.81" fill="none" stroke="url(#g15)" stroke-width="0.4" opacity="0.6"/>
<path d="M403.00,244.50 L467.50,249.58" fill="none" stroke="url(#g15)" stroke-width="0.4" opacity="0.6"/>
<path d="M403.00,246.20 L467.50,251.89" fill="none" stroke="url(#g15)" stroke-width="0.4" opacity="0.6"/>
<path d="M403.00,247.90 L467.50,252.31" fill="none" stroke="url(#g15)" stroke-width="0.4" opacity="0.6"/>
<path d="M403.00,249.60 L467.50,252.97" fill="none" stroke="url(#g15)" stroke-width="0.4" opacity="0.6"/>
<path d="M403.00,251.30 L467.50,252.10" fill="none" stroke="url(#g15)" stroke-width="0.4" opacity="0.6"/>
<path d="M403.00,253.00 L467.50,253.81" fill="none" stroke="url(#g15)" stroke-width="0.4" opacity="0.6"/>
<path d="M403.00,254.70 L467.50,253.80" fill="none" stroke="url(#g15)" stroke-width="0.4" opacity="0.6"/>
<path d="M403.00,256.40 L467.50,254.25" fill="none" stroke="url(#g15)" stroke-width="0.4" opacity="0.6"/>
<path d="M403.00,258.10 L467.50,254.81" fill="none" stroke="url(#g15)" stroke-width="0.4" opacity="0.6"/>
<path d="M403.00,258.60 L423.40,233.60 L445.00,246.50" fill="none" stroke="#70e0b0" stroke-width="0.45" opacity="0.8"/>
<path d="M405.00,255.00 L420.00,233.60 L467.50,250.00" fill="none" stroke="#70e0b0" stroke-width="0.45" opacity="0.8"/>
<path d="M410.00,250.00 L427.00,233.60 L467.50,244.00" fill="none" stroke="#70e0b0" stroke-width="0.45" opacity="0.8"/>
<path d="M403.00,246.00 L417.00,233.60 L467.50,238.50" fill="none" stroke="#70e0b0" stroke-width="0.45" opacity="0.8"/>
<path d="M403.00,240.00 L412.00,233.60 L467.50,236.00" fill="none" stroke="#70e0b0" stroke-width="0.45" opacity="0.8"/>
<path d="M415.00,240.00 L440.00,258.50 L467.50,252.00" fill="none" stroke="#90e8a0" stroke-width="0.4" opacity="0.7"/>
<path d="M420.00,236.00 L450.00,258.50 L467.50,255.00" fill="none" stroke="#90e8a0" stroke-width="0.4" opacity="0.7"/>
<path d="M401,251.6 L467.5,251.6" fill="none" stroke="url(#g16)" stroke-width="1.1"/>
<path d="M291.50,282.80 L335.60,251.00 L373.80,229.80" fill="none" stroke="url(#g17)" stroke-width="1.7"/>
<path d="M373.80,229.80 C374.33,229.73 375.63,229.32 377.00,229.40 C378.37,229.48 379.83,229.78 382.00,230.30 C384.17,230.82 387.00,231.60 390.00,232.50 C393.00,233.40 396.67,234.65 400.00,235.70 C403.33,236.75 405.83,237.62 410.00,238.80 C414.17,239.98 420.00,241.60 425.00,242.80 C430.00,244.00 435.33,245.05 440.00,246.00 C444.67,246.95 448.42,247.63 453.00,248.50 C457.58,249.37 465.08,250.75 467.50,251.20" fill="none" stroke="url(#g18)" stroke-width="1.9"/>
<path d="M291.50,240.30 C292.92,240.65 296.92,241.58 300.00,242.40 C303.08,243.22 306.67,244.30 310.00,245.20 C313.33,246.10 315.73,246.83 320.00,247.80 C324.27,248.77 333.00,250.47 335.60,251.00" fill="none" stroke="#2630ea" stroke-width="1.6"/>
<path d="M335.60,251.00 C338.00,251.23 344.27,251.90 350.00,252.40 C355.73,252.90 363.33,253.37 370.00,254.00 C376.67,254.63 384.50,255.43 390.00,256.20 C395.50,256.97 400.83,258.20 403.00,258.60" fill="none" stroke="url(#g19)" stroke-width="1.5"/>
<path d="M42.80,468.90 C44.83,468.02 50.47,465.65 55.00,463.60 C59.53,461.55 65.00,458.88 70.00,456.60 C75.00,454.32 80.00,451.77 85.00,449.90 C90.00,448.03 95.83,446.23 100.00,445.40 C104.17,444.57 106.67,444.50 110.00,444.90 C113.33,445.30 116.67,446.02 120.00,447.80 C123.33,449.58 125.83,452.47 130.00,455.60 C134.17,458.73 140.00,463.68 145.00,466.60 C150.00,469.52 154.17,470.92 160.00,473.10 C165.83,475.28 173.33,477.75 180.00,479.70 C186.67,481.65 193.42,483.70 200.00,484.80 C206.58,485.90 216.25,486.05 219.50,486.30" fill="none" stroke="#ebebeb" stroke-width="0.5"/>
<path d="M152.00,446.80 C152.83,447.35 154.83,448.78 157.00,450.10 C159.17,451.42 161.17,453.27 165.00,454.70 C168.83,456.13 174.17,457.60 180.00,458.70 C185.83,459.80 193.42,460.78 200.00,461.30 C206.58,461.82 216.25,461.72 219.50,461.80 L219.50,486.30" fill="none" stroke="#ebebeb" stroke-width="0.5"/>
<path d="M98.00,415.80 C101.67,415.55 113.00,414.35 120.00,414.30 C127.00,414.25 135.00,414.98 140.00,415.50 C145.00,416.02 146.67,416.82 150.00,417.40 C153.33,417.98 156.67,418.70 160.00,419.00 C163.33,419.30 160.08,419.17 170.00,419.20 C179.92,419.23 211.25,419.20 219.50,419.20 L219.50,429.60" fill="none" stroke="#ebebeb" stroke-width="0.5"/>
<path d="M43.00,426.00 L82.60,439.40 L43.00,469.00 Z" fill="url(#g20)" stroke="none" stroke-width="1.0"/>
<path d="M43.00,426.00 C45.83,425.87 54.67,425.53 60.00,425.20 C65.33,424.87 68.33,424.78 75.00,424.00 C81.67,423.22 93.22,421.52 100.00,420.50 C106.78,419.48 113.08,418.33 115.70,417.90 L82.6,439.4 L82.60,439.40 C80.83,438.77 75.77,436.95 72.00,435.60 C68.23,434.25 64.83,432.90 60.00,431.30 C55.17,429.70 45.83,426.88 43.00,426.00 Z" fill="url(#g21)" stroke="none" stroke-width="1.0"/>
<path d="M82.60,439.40 L115.70,417.90 L130.00,417.90 L150.00,418.60 L160.00,419.30 L160.00,443.50 L153.00,446.00 L150.00,452.80 L140.00,450.00 L120.00,445.50 L100.00,441.90 L82.60,439.40 Z" fill="url(#g22)" stroke="none" stroke-width="1.0"/>
<path d="M83.80,439.40 L116.78,418.32 L150.00,419.56" fill="none" stroke="#3c8cf0" stroke-width="0.4" opacity="0.35"/>
<path d="M84.40,439.04 C87.00,439.32 94.07,439.82 100.00,440.70 C105.93,441.58 113.33,442.95 120.00,444.30 C126.67,445.65 134.17,447.33 140.00,448.80 C145.83,450.27 152.50,452.38 155.00,453.10" fill="none" stroke="#30c0f0" stroke-width="0.4" opacity="0.35"/>
<path d="M85.00,439.40 L117.86,418.74 L150.00,420.52" fill="none" stroke="#3c8cf0" stroke-width="0.4" opacity="0.27999999999999997"/>
<path d="M86.20,438.68 C88.50,438.82 94.37,438.76 100.00,439.50 C105.63,440.24 113.33,441.75 120.00,443.10 C126.67,444.45 134.17,446.13 140.00,447.60 C145.83,449.07 152.50,451.18 155.00,451.90" fill="none" stroke="#30c0f0" stroke-width="0.4" opacity="0.27999999999999997"/>
<path d="M86.40,439.40 L119.12,419.23 L150.00,421.64" fill="none" stroke="#3c8cf0" stroke-width="0.4" opacity="0.20999999999999996"/>
<path d="M88.30,438.26 C90.25,438.23 94.72,437.53 100.00,438.10 C105.28,438.67 113.33,440.35 120.00,441.70 C126.67,443.05 134.17,444.73 140.00,446.20 C145.83,447.67 152.50,449.78 155.00,450.50" fill="none" stroke="#30c0f0" stroke-width="0.4" opacity="0.20999999999999996"/>
<path d="M88.10,439.40 L120.65,419.82 L150.00,423.00" fill="none" stroke="#3c8cf0" stroke-width="0.4" opacity="0.13999999999999996"/>
<path d="M90.85,437.75 C92.38,437.52 95.14,436.02 100.00,436.40 C104.86,436.77 113.33,438.65 120.00,440.00 C126.67,441.35 134.17,443.03 140.00,444.50 C145.83,445.97 152.50,448.08 155.00,448.80" fill="none" stroke="#30c0f0" stroke-width="0.4" opacity="0.13999999999999996"/>
<path d="M43.00,426.00 L82.60,439.40" fill="none" stroke="#3840e8" stroke-width="0.3" opacity="0.12"/>
<path d="M43.00,428.15 L82.60,439.40" fill="none" stroke="#3840e8" stroke-width="0.3" opacity="0.12"/>
<path d="M43.00,430.30 L82.60,439.40" fill="none" stroke="#3840e8" stroke-width="0.3" opacity="0.12"/>
<path d="M43.00,432.45 L82.60,439.40" fill="none" stroke="#3840e8" stroke-width="0.3" opacity="0.12"/>
<path d="M43.00,434.60 L82.60,439.40" fill="none" stroke="#3840e8" stroke-width="0.3" opacity="0.12"/>
<path d="M43.00,436.75 L82.60,439.40" fill="none" stroke="#3840e8" stroke-width="0.3" opacity="0.12"/>
<path d="M43.00,438.90 L82.60,439.40" fill="none" stroke="#3840e8" stroke-width="0.3" opacity="0.12"/>
<path d="M43.00,441.05 L82.60,439.40" fill="none" stroke="#3840e8" stroke-width="0.3" opacity="0.12"/>
<path d="M43.00,443.20 L82.60,439.40" fill="none" stroke="#3840e8" stroke-width="0.3" opacity="0.12"/>
<path d="M43.00,445.35 L82.60,439.40" fill="none" stroke="#3840e8" stroke-width="0.3" opacity="0.12"/>
<path d="M43.00,447.50 L82.60,439.40" fill="none" stroke="#3840e8" stroke-width="0.3" opacity="0.12"/>
<path d="M43.00,449.65 L82.60,439.40" fill="none" stroke="#3840e8" stroke-width="0.3" opacity="0.12"/>
<path d="M43.00,451.80 L82.60,439.40" fill="none" stroke="#3840e8" stroke-width="0.3" opacity="0.12"/>
<path d="M43.00,453.95 L82.60,439.40" fill="none" stroke="#3840e8" stroke-width="0.3" opacity="0.12"/>
<path d="M43.00,456.10 L82.60,439.40" fill="none" stroke="#3840e8" stroke-width="0.3" opacity="0.12"/>
<path d="M43.00,458.25 L82.60,439.40" fill="none" stroke="#3840e8" stroke-width="0.3" opacity="0.12"/>
<path d="M43.00,460.40 L82.60,439.40" fill="none" stroke="#3840e8" stroke-width="0.3" opacity="0.12"/>
<path d="M43.00,462.55 L82.60,439.40" fill="none" stroke="#3840e8" stroke-width="0.3" opacity="0.12"/>
<path d="M43.00,464.70 L82.60,439.40" fill="none" stroke="#3840e8" stroke-width="0.3" opacity="0.12"/>
<path d="M43.00,466.85 L82.60,439.40" fill="none" stroke="#3840e8" stroke-width="0.3" opacity="0.12"/>
<path d="M43.00,469.00 L82.60,439.40" fill="none" stroke="#3840e8" stroke-width="0.3" opacity="0.12"/>
<path d="M156.00,419.00 L82.60,439.40" fill="none" stroke="#40b0f0" stroke-width="0.3" opacity="0.15"/>
<path d="M156.00,421.06 L82.60,439.40" fill="none" stroke="#40b0f0" stroke-width="0.3" opacity="0.15"/>
<path d="M156.00,423.12 L82.60,439.40" fill="none" stroke="#40b0f0" stroke-width="0.3" opacity="0.15"/>
<path d="M156.00,425.19 L82.60,439.40" fill="none" stroke="#40b0f0" stroke-width="0.3" opacity="0.15"/>
<path d="M156.00,427.25 L82.60,439.40" fill="none" stroke="#40b0f0" stroke-width="0.3" opacity="0.15"/>
<path d="M156.00,429.31 L82.60,439.40" fill="none" stroke="#40b0f0" stroke-width="0.3" opacity="0.15"/>
<path d="M156.00,431.38 L82.60,439.40" fill="none" stroke="#40b0f0" stroke-width="0.3" opacity="0.15"/>
<path d="M156.00,433.44 L82.60,439.40" fill="none" stroke="#40b0f0" stroke-width="0.3" opacity="0.15"/>
<path d="M156.00,435.50 L82.60,439.40" fill="none" stroke="#40b0f0" stroke-width="0.3" opacity="0.15"/>
<path d="M156.00,437.56 L82.60,439.40" fill="none" stroke="#40b0f0" stroke-width="0.3" opacity="0.15"/>
<path d="M156.00,439.62 L82.60,439.40" fill="none" stroke="#40b0f0" stroke-width="0.3" opacity="0.15"/>
<path d="M156.00,441.69 L82.60,439.40" fill="none" stroke="#40b0f0" stroke-width="0.3" opacity="0.15"/>
<path d="M156.00,443.75 L82.60,439.40" fill="none" stroke="#40b0f0" stroke-width="0.3" opacity="0.15"/>
<path d="M156.00,445.81 L82.60,439.40" fill="none" stroke="#40b0f0" stroke-width="0.3" opacity="0.15"/>
<path d="M156.00,447.88 L82.60,439.40" fill="none" stroke="#40b0f0" stroke-width="0.3" opacity="0.15"/>
<path d="M156.00,449.94 L82.60,439.40" fill="none" stroke="#40b0f0" stroke-width="0.3" opacity="0.15"/>
<path d="M156.00,452.00 L82.60,439.40" fill="none" stroke="#40b0f0" stroke-width="0.3" opacity="0.15"/>
<path d="M160,419.3 L219,420.5 L219,443.7 L153,443.7 Z" fill="#f1faf6" stroke="none" stroke-width="1.0"/>
<path d="M153.00,436.00 L219.00,422.00" fill="none" stroke="#c0f0b0" stroke-width="0.4" opacity="0.8"/>
<path d="M154.20,437.00 L219.00,424.60" fill="none" stroke="#a8ecc0" stroke-width="0.4" opacity="0.8"/>
<path d="M155.40,438.00 L219.00,427.20" fill="none" stroke="#b8f0d8" stroke-width="0.4" opacity="0.8"/>
<path d="M156.60,439.00 L219.00,429.80" fill="none" stroke="#c8f0b8" stroke-width="0.4" opacity="0.8"/>
<path d="M157.80,440.00 L219.00,432.40" fill="none" stroke="#b0f0c8" stroke-width="0.4" opacity="0.8"/>
<path d="M159.00,441.00 L219.00,435.00" fill="none" stroke="#b0f0c8" stroke-width="0.4" opacity="0.8"/>
<path d="M160.20,442.00 L219.00,437.60" fill="none" stroke="#90e8d0" stroke-width="0.4" opacity="0.8"/>
<path d="M161.40,443.00 L219.00,440.20" fill="none" stroke="#a0e8e0" stroke-width="0.4" opacity="0.8"/>
<path d="M165.00,419.60 L219.00,420.80" fill="none" stroke="#b8f0c8" stroke-width="0.4"/>
<path d="M165.00,420.20 L219.00,422.40" fill="none" stroke="#b8f0c8" stroke-width="0.4"/>
<path d="M165.00,420.80 L219.00,424.00" fill="none" stroke="#b8f0c8" stroke-width="0.4"/>
<path d="M165.00,421.40 L219.00,425.60" fill="none" stroke="#b8f0c8" stroke-width="0.4"/>
<path d="M165.00,422.00 L219.00,427.20" fill="none" stroke="#b8f0c8" stroke-width="0.4"/>
<path d="M148.00,418.80 C151.08,419.23 179.08,423.11 185.00,424.00 C190.92,424.89 216.17,429.04 219.00,429.50" fill="none" stroke="url(#g23)" stroke-width="0.45" opacity="0.75"/>
<path d="M149.50,419.05 C152.46,419.54 179.21,423.94 185.00,424.90 C190.79,425.86 216.17,430.12 219.00,430.60" fill="none" stroke="url(#g24)" stroke-width="0.45" opacity="0.75"/>
<path d="M151.00,419.30 C153.83,419.84 179.33,424.77 185.00,425.80 C190.67,426.83 216.17,431.21 219.00,431.70" fill="none" stroke="url(#g25)" stroke-width="0.45" opacity="0.75"/>
<path d="M152.50,419.55 C155.21,420.15 179.46,425.60 185.00,426.70 C190.54,427.80 216.17,432.29 219.00,432.80" fill="none" stroke="url(#g26)" stroke-width="0.45" opacity="0.75"/>
<path d="M154.00,419.80 C156.58,420.45 179.58,426.43 185.00,427.60 C190.42,428.78 216.17,433.38 219.00,433.90" fill="none" stroke="url(#g27)" stroke-width="0.45" opacity="0.75"/>
<path d="M155.50,420.05 C157.96,420.75 179.71,427.25 185.00,428.50 C190.29,429.75 216.17,434.46 219.00,435.00" fill="none" stroke="url(#g28)" stroke-width="0.45" opacity="0.75"/>
<path d="M157.00,420.30 C159.33,421.06 179.83,428.08 185.00,429.40 C190.17,430.72 216.17,435.54 219.00,436.10" fill="none" stroke="url(#g29)" stroke-width="0.45" opacity="0.75"/>
<path d="M158.50,420.55 C160.71,421.36 179.96,428.91 185.00,430.30 C190.04,431.69 216.17,436.62 219.00,437.20" fill="none" stroke="url(#g30)" stroke-width="0.45" opacity="0.75"/>
<path d="M160.00,420.80 C162.08,421.67 180.08,429.74 185.00,431.20 C189.92,432.66 216.17,437.71 219.00,438.30" fill="none" stroke="url(#g31)" stroke-width="0.45" opacity="0.75"/>
<path d="M152.00,455.00 L177.94,484.00 L219.00,481.50" fill="none" stroke="#a0e8e0" stroke-width="0.4"/>
<path d="M157.00,456.20 L184.15,484.00 L219.00,478.52" fill="none" stroke="#b8f0d8" stroke-width="0.4"/>
<path d="M162.00,457.40 L187.70,484.00 L219.00,478.54" fill="none" stroke="#b8f0d8" stroke-width="0.4"/>
<path d="M167.00,458.60 L192.59,484.00 L219.00,481.39" fill="none" stroke="#a8ecc0" stroke-width="0.4"/>
<path d="M172.00,459.80 L203.31,484.00 L219.00,481.50" fill="none" stroke="#b0f0c8" stroke-width="0.4"/>
<path d="M177.00,461.00 L207.77,484.00 L219.00,480.38" fill="none" stroke="#a8ecc0" stroke-width="0.4"/>
<path d="M182.00,462.20 L207.47,484.00 L219.00,483.15" fill="none" stroke="#c0f0b0" stroke-width="0.4"/>
<path d="M187.00,463.40 L216.19,484.00 L219.00,481.24" fill="none" stroke="#a0e8e0" stroke-width="0.4"/>
<path d="M192.00,464.60 L220.08,484.00 L219.00,482.90" fill="none" stroke="#a8ecc0" stroke-width="0.4"/>
<path d="M219,443.7 L153,443.7" fill="none" stroke="#e0d8c8" stroke-width="0.4"/>
<path d="M43.00,469.00 L82.60,439.40 L115.70,417.90" fill="none" stroke="url(#g32)" stroke-width="1.7"/>
<path d="M115.70,417.90 C118.08,417.90 125.12,417.82 130.00,417.90 C134.88,417.98 140.83,418.23 145.00,418.40 C149.17,418.57 151.67,418.70 155.00,418.90 C158.33,419.10 163.33,419.48 165.00,419.60" fill="none" stroke="url(#g33)" stroke-width="1.4"/>
<path d="M165,419.6 L219,420.6" fill="none" stroke="#a8ecc0" stroke-width="0.6"/>
<path d="M43.00,426.00 C45.83,426.88 55.17,429.70 60.00,431.30 C64.83,432.90 68.23,434.25 72.00,435.60 C75.77,436.95 80.83,438.77 82.60,439.40" fill="none" stroke="#2630ea" stroke-width="1.6"/>
<path d="M82.60,439.40 C85.50,439.82 93.77,440.88 100.00,441.90 C106.23,442.92 113.33,444.15 120.00,445.50 C126.67,446.85 133.33,448.30 140.00,450.00 C146.67,451.70 153.33,453.70 160.00,455.70 C166.67,457.70 173.33,459.95 180.00,462.00 C186.67,464.05 193.50,466.05 200.00,468.00 C206.50,469.95 215.83,472.75 219.00,473.70" fill="none" stroke="url(#g34)" stroke-width="1.6"/>
<path d="M291.10,468.90 C293.13,468.02 298.77,465.65 303.30,463.60 C307.83,461.55 313.30,458.88 318.30,456.60 C323.30,454.32 328.30,451.77 333.30,449.90 C338.30,448.03 344.13,446.23 348.30,445.40 C352.47,444.57 354.97,444.50 358.30,444.90 C361.63,445.30 364.97,446.02 368.30,447.80 C371.63,449.58 374.13,452.47 378.30,455.60 C382.47,458.73 388.30,463.68 393.30,466.60 C398.30,469.52 402.47,470.92 408.30,473.10 C414.13,475.28 421.63,477.75 428.30,479.70 C434.97,481.65 441.72,483.70 448.30,484.80 C454.88,485.90 464.55,486.05 467.80,486.30" fill="none" stroke="#ebebeb" stroke-width="0.5"/>
<path d="M400.30,446.80 C401.13,447.35 403.13,448.78 405.30,450.10 C407.47,451.42 409.47,453.27 413.30,454.70 C417.13,456.13 422.47,457.60 428.30,458.70 C434.13,459.80 441.72,460.78 448.30,461.30 C454.88,461.82 464.55,461.72 467.80,461.80 L467.80,486.30" fill="none" stroke="#ebebeb" stroke-width="0.5"/>
<path d="M346.30,415.80 C349.97,415.55 361.30,414.35 368.30,414.30 C375.30,414.25 383.30,414.98 388.30,415.50 C393.30,416.02 394.97,416.82 398.30,417.40 C401.63,417.98 404.97,418.70 408.30,419.00 C411.63,419.30 408.38,419.17 418.30,419.20 C428.22,419.23 459.55,419.20 467.80,419.20 L467.80,429.60" fill="none" stroke="#ebebeb" stroke-width="0.5"/>
<path d="M291.00,426.40 L327.60,440.50 L291.00,469.00 Z" fill="url(#g35)" stroke="none" stroke-width="1.0"/>
<path d="M291.00,426.40 C293.33,426.25 300.17,425.90 305.00,425.50 C309.83,425.10 314.17,424.70 320.00,424.00 C325.83,423.30 333.72,422.18 340.00,421.30 C346.28,420.42 354.75,419.13 357.70,418.70 L327.6,440.5 L327.60,440.50 C326.00,439.85 321.77,438.08 318.00,436.60 C314.23,435.12 309.50,433.30 305.00,431.60 C300.50,429.90 293.33,427.27 291.00,426.40 Z" fill="url(#g36)" stroke="none" stroke-width="1.0"/>
<path d="M327.60,440.50 L357.70,418.70 L380.00,419.60 L400.00,420.20 L395.00,423.00 L380.00,428.00 L360.00,437.30 L343.00,445.70 L327.60,440.50 Z" fill="url(#g37)" stroke="none" stroke-width="1.0"/>
<path d="M291.00,426.40 L327.60,440.50" fill="none" stroke="#3840e8" stroke-width="0.3" opacity="0.12"/>
<path d="M291.00,428.53 L327.60,440.50" fill="none" stroke="#3840e8" stroke-width="0.3" opacity="0.12"/>
<path d="M291.00,430.66 L327.60,440.50" fill="none" stroke="#3840e8" stroke-width="0.3" opacity="0.12"/>
<path d="M291.00,432.79 L327.60,440.50" fill="none" stroke="#3840e8" stroke-width="0.3" opacity="0.12"/>
<path d="M291.00,434.92 L327.60,440.50" fill="none" stroke="#3840e8" stroke-width="0.3" opacity="0.12"/>
<path d="M291.00,437.05 L327.60,440.50" fill="none" stroke="#3840e8" stroke-width="0.3" opacity="0.12"/>
<path d="M291.00,439.18 L327.60,440.50" fill="none" stroke="#3840e8" stroke-width="0.3" opacity="0.12"/>
<path d="M291.00,441.31 L327.60,440.50" fill="none" stroke="#3840e8" stroke-width="0.3" opacity="0.12"/>
<path d="M291.00,443.44 L327.60,440.50" fill="none" stroke="#3840e8" stroke-width="0.3" opacity="0.12"/>
<path d="M291.00,445.57 L327.60,440.50" fill="none" stroke="#3840e8" stroke-width="0.3" opacity="0.12"/>
<path d="M291.00,447.70 L327.60,440.50" fill="none" stroke="#3840e8" stroke-width="0.3" opacity="0.12"/>
<path d="M291.00,449.83 L327.60,440.50" fill="none" stroke="#3840e8" stroke-width="0.3" opacity="0.12"/>
<path d="M291.00,451.96 L327.60,440.50" fill="none" stroke="#3840e8" stroke-width="0.3" opacity="0.12"/>
<path d="M291.00,454.09 L327.60,440.50" fill="none" stroke="#3840e8" stroke-width="0.3" opacity="0.12"/>
<path d="M291.00,456.22 L327.60,440.50" fill="none" stroke="#3840e8" stroke-width="0.3" opacity="0.12"/>
<path d="M291.00,458.35 L327.60,440.50" fill="none" stroke="#3840e8" stroke-width="0.3" opacity="0.12"/>
<path d="M291.00,460.48 L327.60,440.50" fill="none" stroke="#3840e8" stroke-width="0.3" opacity="0.12"/>
<path d="M291.00,462.61 L327.60,440.50" fill="none" stroke="#3840e8" stroke-width="0.3" opacity="0.12"/>
<path d="M291.00,464.74 L327.60,440.50" fill="none" stroke="#3840e8" stroke-width="0.3" opacity="0.12"/>
<path d="M291.00,466.87 L327.60,440.50" fill="none" stroke="#3840e8" stroke-width="0.3" opacity="0.12"/>
<path d="M291.00,469.00 L327.60,440.50" fill="none" stroke="#3840e8" stroke-width="0.3" opacity="0.12"/>
<path d="M328.37,440.76 L345.85,444.48" fill="none" stroke="#4060ec" stroke-width="0.3" opacity="0.15"/>
<path d="M329.14,441.02 L348.70,443.26" fill="none" stroke="#4060ec" stroke-width="0.3" opacity="0.15"/>
<path d="M329.91,441.28 L351.55,442.04" fill="none" stroke="#4060ec" stroke-width="0.3" opacity="0.15"/>
<path d="M330.68,441.54 L354.40,440.82" fill="none" stroke="#4060ec" stroke-width="0.3" opacity="0.15"/>
<path d="M331.45,441.80 L357.25,439.60" fill="none" stroke="#4060ec" stroke-width="0.3" opacity="0.15"/>
<path d="M332.22,442.06 L360.10,438.38" fill="none" stroke="#4060ec" stroke-width="0.3" opacity="0.15"/>
<path d="M332.99,442.32 L362.95,437.16" fill="none" stroke="#4060ec" stroke-width="0.3" opacity="0.15"/>
<path d="M333.76,442.58 L365.80,435.94" fill="none" stroke="#4060ec" stroke-width="0.3" opacity="0.15"/>
<path d="M334.53,442.84 L368.65,434.72" fill="none" stroke="#4060ec" stroke-width="0.3" opacity="0.15"/>
<path d="M335.30,443.10 L371.50,433.50" fill="none" stroke="#4060ec" stroke-width="0.3" opacity="0.15"/>
<path d="M336.07,443.36 L374.35,432.28" fill="none" stroke="#4060ec" stroke-width="0.3" opacity="0.15"/>
<path d="M336.84,443.62 L377.20,431.06" fill="none" stroke="#4060ec" stroke-width="0.3" opacity="0.15"/>
<path d="M337.61,443.88 L380.05,429.84" fill="none" stroke="#4060ec" stroke-width="0.3" opacity="0.15"/>
<path d="M338.38,444.14 L382.90,428.62" fill="none" stroke="#4060ec" stroke-width="0.3" opacity="0.15"/>
<path d="M339.15,444.40 L385.75,427.40" fill="none" stroke="#4060ec" stroke-width="0.3" opacity="0.15"/>
<path d="M339.92,444.66 L388.60,426.18" fill="none" stroke="#4060ec" stroke-width="0.3" opacity="0.15"/>
<path d="M340.69,444.92 L391.45,424.96" fill="none" stroke="#4060ec" stroke-width="0.3" opacity="0.15"/>
<path d="M341.46,445.18 L394.30,423.74" fill="none" stroke="#4060ec" stroke-width="0.3" opacity="0.15"/>
<path d="M342.23,445.44 L397.15,422.52" fill="none" stroke="#4060ec" stroke-width="0.3" opacity="0.15"/>
<path d="M343.00,445.70 L360.00,437.30 L380.00,428.00 L395.00,423.00 L400.00,421.30 L420.00,421.60 L445.00,423.40 L467.70,425.10 L467.70,444.00 L405.00,444.00 L375.00,443.00 Z" fill="url(#g38)" stroke="none" stroke-width="1.0"/>
<path d="M343.00,445.70 L370.00,437.00 L395.00,444.50 L467.70,466.50 L467.70,481.00 L420.00,470.00 L380.00,452.00 Z" fill="url(#g39)" stroke="none" stroke-width="1.0"/>
<path d="M343.00,448.70 L467.70,481.00" fill="none" stroke="#a8c0f0" stroke-width="0.35" opacity="0.7"/>
<path d="M347.73,447.82 L467.70,479.68" fill="none" stroke="#a8c0f0" stroke-width="0.35" opacity="0.7"/>
<path d="M352.45,446.94 L467.70,478.36" fill="none" stroke="#a8c0f0" stroke-width="0.35" opacity="0.7"/>
<path d="M357.18,446.05 L467.70,477.05" fill="none" stroke="#a8c0f0" stroke-width="0.35" opacity="0.7"/>
<path d="M361.91,445.17 L467.70,475.73" fill="none" stroke="#a8c0f0" stroke-width="0.35" opacity="0.7"/>
<path d="M366.64,444.29 L467.70,474.41" fill="none" stroke="#a8c0f0" stroke-width="0.35" opacity="0.7"/>
<path d="M371.36,443.41 L467.70,473.09" fill="none" stroke="#a8c0f0" stroke-width="0.35" opacity="0.7"/>
<path d="M376.09,442.53 L467.70,471.77" fill="none" stroke="#a8c0f0" stroke-width="0.35" opacity="0.7"/>
<path d="M380.82,441.65 L467.70,470.45" fill="none" stroke="#a8c0f0" stroke-width="0.35" opacity="0.7"/>
<path d="M385.55,440.76 L467.70,469.14" fill="none" stroke="#a8c0f0" stroke-width="0.35" opacity="0.7"/>
<path d="M390.27,439.88 L467.70,467.82" fill="none" stroke="#a8c0f0" stroke-width="0.35" opacity="0.7"/>
<path d="M395.00,439.00 L467.70,466.50" fill="none" stroke="#a8c0f0" stroke-width="0.35" opacity="0.7"/>
<path d="M343.00,445.70 L467.70,426.00" fill="none" stroke="#90a8f0" stroke-width="0.35" opacity="0.55"/>
<path d="M347.38,443.82 L467.70,427.31" fill="none" stroke="#90a8f0" stroke-width="0.35" opacity="0.55"/>
<path d="M351.77,441.95 L467.70,428.62" fill="none" stroke="#90a8f0" stroke-width="0.35" opacity="0.55"/>
<path d="M356.15,440.07 L467.70,429.92" fill="none" stroke="#90a8f0" stroke-width="0.35" opacity="0.55"/>
<path d="M360.54,438.19 L467.70,431.23" fill="none" stroke="#90a8f0" stroke-width="0.35" opacity="0.55"/>
<path d="M364.92,436.32 L467.70,432.54" fill="none" stroke="#90a8f0" stroke-width="0.35" opacity="0.55"/>
<path d="M369.31,434.44 L467.70,433.85" fill="none" stroke="#90a8f0" stroke-width="0.35" opacity="0.55"/>
<path d="M373.69,432.56 L467.70,435.15" fill="none" stroke="#90a8f0" stroke-width="0.35" opacity="0.55"/>
<path d="M378.08,430.68 L467.70,436.46" fill="none" stroke="#90a8f0" stroke-width="0.35" opacity="0.55"/>
<path d="M382.46,428.81 L467.70,437.77" fill="none" stroke="#90a8f0" stroke-width="0.35" opacity="0.55"/>
<path d="M386.85,426.93 L467.70,439.08" fill="none" stroke="#90a8f0" stroke-width="0.35" opacity="0.55"/>
<path d="M391.23,425.05 L467.70,440.38" fill="none" stroke="#90a8f0" stroke-width="0.35" opacity="0.55"/>
<path d="M395.62,423.18 L467.70,441.69" fill="none" stroke="#90a8f0" stroke-width="0.35" opacity="0.55"/>
<path d="M400.00,421.30 L467.70,443.00" fill="none" stroke="#90a8f0" stroke-width="0.35" opacity="0.55"/>
<path d="M403.09,423.71 L467.70,434.96" fill="none" stroke="#a0b8f2" stroke-width="0.4" opacity="0.8"/>
<path d="M394.28,423.71 L467.70,439.68" fill="none" stroke="#80c8f0" stroke-width="0.4" opacity="0.8"/>
<path d="M394.23,423.85 L467.70,435.82" fill="none" stroke="#a0b8f2" stroke-width="0.4" opacity="0.8"/>
<path d="M401.72,422.82 L467.70,427.45" fill="none" stroke="#80c8f0" stroke-width="0.4" opacity="0.8"/>
<path d="M396.75,424.81 L467.70,435.53" fill="none" stroke="#a0b8f2" stroke-width="0.4" opacity="0.8"/>
<path d="M393.89,424.92 L467.70,435.85" fill="none" stroke="#90b0f2" stroke-width="0.4" opacity="0.8"/>
<path d="M392.43,425.99 L467.70,427.01" fill="none" stroke="#90b0f2" stroke-width="0.4" opacity="0.8"/>
<path d="M395.92,424.60 L467.70,438.45" fill="none" stroke="#80c8f0" stroke-width="0.4" opacity="0.8"/>
<path d="M396.00,420.80 L436.00,444.00" fill="none" stroke="url(#g40)" stroke-width="0.45" opacity="0.8"/>
<path d="M398.50,420.80 L440.50,444.00" fill="none" stroke="url(#g41)" stroke-width="0.45" opacity="0.8"/>
<path d="M401.00,420.80 L445.00,444.00" fill="none" stroke="url(#g42)" stroke-width="0.45" opacity="0.8"/>
<path d="M403.50,420.80 L449.50,444.00" fill="none" stroke="url(#g43)" stroke-width="0.45" opacity="0.8"/>
<path d="M406.00,420.80 L454.00,444.00" fill="none" stroke="url(#g44)" stroke-width="0.45" opacity="0.8"/>
<path d="M408.50,420.80 L458.50,444.00" fill="none" stroke="url(#g45)" stroke-width="0.45" opacity="0.8"/>
<path d="M411.00,420.80 L463.00,444.00" fill="none" stroke="url(#g46)" stroke-width="0.45" opacity="0.8"/>
<path d="M436.00,443.50 L467.70,443.00" fill="none" stroke="#40d8c8" stroke-width="0.5" opacity="0.9"/>
<path d="M436.00,442.30 L467.70,439.80" fill="none" stroke="#40d8c8" stroke-width="0.5" opacity="0.9"/>
<path d="M436.00,441.10 L467.70,436.60" fill="none" stroke="#40d8c8" stroke-width="0.5" opacity="0.9"/>
<path d="M436.00,439.90 L467.70,433.40" fill="none" stroke="#40d8c8" stroke-width="0.5" opacity="0.9"/>
<path d="M436.00,438.70 L467.70,430.20" fill="none" stroke="#40d8c8" stroke-width="0.5" opacity="0.9"/>
<path d="M405.00,444.00 L460.00,426.30" fill="none" stroke="#9098b0" stroke-width="0.45"/>
<path d="M396.70,433.90 L415.20,481.00 L467.70,469.00" fill="none" stroke="#a0c0f0" stroke-width="0.45"/>
<path d="M400.00,424.00 L440.00,484.40 L467.70,482.70" fill="none" stroke="#a0c0f0" stroke-width="0.45"/>
<path d="M467.7,444 L405,444" fill="none" stroke="#d0d8f0" stroke-width="0.4"/>
<path d="M291.00,469.00 L327.60,440.50 L357.70,418.70" fill="none" stroke="url(#g47)" stroke-width="1.7"/>
<path d="M357.70,418.70 C361.42,418.85 372.95,419.35 380.00,419.60 C387.05,419.85 393.33,419.87 400.00,420.20 C406.67,420.53 412.50,421.07 420.00,421.60 C427.50,422.13 437.05,422.82 445.00,423.40 C452.95,423.98 463.92,424.82 467.70,425.10" fill="none" stroke="url(#g48)" stroke-width="1.5"/>
<path d="M291.00,426.40 C293.33,427.27 300.50,429.90 305.00,431.60 C309.50,433.30 314.23,435.12 318.00,436.60 C321.77,438.08 326.00,439.85 327.60,440.50" fill="none" stroke="#2630ea" stroke-width="1.6"/>
<path d="M327.60,440.50 L343.00,445.70 L343.00,445.70 C345.83,444.30 353.83,440.25 360.00,437.30 C366.17,434.35 374.17,430.38 380.00,428.00 C385.83,425.62 391.67,424.12 395.00,423.00 C398.33,421.88 399.17,421.58 400.00,421.30" fill="none" stroke="url(#g49)" stroke-width="1.5"/>
</g>
<g filter="url(#tb)">
<text class="lb" x="21.20" y="10.70">7.16e-03</text>
<text class="lb" x="21.20" y="24.46">6.44e-03</text>
<text class="lb" x="21.20" y="38.22">5.73e-03</text>
<text class="lb" x="21.20" y="51.98">5.01e-03</text>
<text class="lb" x="21.20" y="65.74">4.29e-03</text>
<text class="lb" x="21.20" y="79.50">3.58e-03</text>
<text class="lb" x="21.20" y="93.26">2.86e-03</text>
<text class="lb" x="21.20" y="107.02">2.15e-03</text>
<text class="lb" x="21.20" y="120.78">1.43e-03</text>
<text class="lb" x="21.20" y="134.54">7.16e-04</text>
<text class="lb" x="21.20" y="148.30">0.00e+00</text>
<text class="cap" x="118.00" y="171.50" text-anchor="middle">(<tspan font-weight="bold">a</tspan>)</text>
<text class="lb" x="269.50" y="10.70">6.22e-03</text>
<text class="lb" x="269.50" y="24.46">5.60e-03</text>
<text class="lb" x="269.50" y="38.22">4.97e-03</text>
<text class="lb" x="269.50" y="51.98">4.35e-03</text>
<text class="lb" x="269.50" y="65.74">3.73e-03</text>
<text class="lb" x="269.50" y="79.50">3.11e-03</text>
<text class="lb" x="269.50" y="93.26">2.49e-03</text>
<text class="lb" x="269.50" y="107.02">1.87e-03</text>
<text class="lb" x="269.50" y="120.78">1.24e-03</text>
<text class="lb" x="269.50" y="134.54">6.22e-04</text>
<text class="lb" x="269.50" y="148.30">0.00e+00</text>
<text class="cap" x="366.50" y="171.50" text-anchor="middle">(<tspan font-weight="bold">b</tspan>)</text>
<text class="lb" x="21.20" y="196.90">2.19e+01</text>
<text class="lb" x="21.20" y="210.66">1.97e+01</text>
<text class="lb" x="21.20" y="224.42">1.75e+01</text>
<text class="lb" x="21.20" y="238.18">1.53e+01</text>
<text class="lb" x="21.20" y="251.94">1.32e+01</text>
<text class="lb" x="21.20" y="265.70">1.10e+01</text>
<text class="lb" x="21.20" y="279.46">8.77e+00</text>
<text class="lb" x="21.20" y="293.22">6.58e+00</text>
<text class="lb" x="21.20" y="306.98">4.38e+00</text>
<text class="lb" x="21.20" y="320.74">2.19e+00</text>
<text class="lb" x="21.20" y="334.50">0.00e+00</text>
<text class="cap" x="118.00" y="357.80" text-anchor="middle">(<tspan font-weight="bold">c</tspan>)</text>
<text class="lb" x="270.10" y="196.90">7.63e-03</text>
<text class="lb" x="270.10" y="210.66">6.86e-03</text>
<text class="lb" x="270.10" y="224.42">6.10e-03</text>
<text class="lb" x="270.10" y="238.18">5.34e-03</text>
<text class="lb" x="270.10" y="251.94">4.58e-03</text>
<text class="lb" x="270.10" y="265.70">3.81e-03</text>
<text class="lb" x="270.10" y="279.46">3.05e-03</text>
<text class="lb" x="270.10" y="293.22">2.29e-03</text>
<text class="lb" x="270.10" y="306.98">1.53e-03</text>
<text class="lb" x="270.10" y="320.74">7.63e-04</text>
<text class="lb" x="270.10" y="334.50">0.00e+00</text>
<text class="cap" x="366.50" y="357.80" text-anchor="middle">(<tspan font-weight="bold">d</tspan>)</text>
<text class="lb" x="21.50" y="383.15">8.54e-03</text>
<text class="lb" x="21.50" y="396.91">7.69e-03</text>
<text class="lb" x="21.50" y="410.67">6.83e-03</text>
<text class="lb" x="21.50" y="424.43">5.98e-03</text>
<text class="lb" x="21.50" y="438.19">5.12e-03</text>
<text class="lb" x="21.50" y="451.95">4.27e-03</text>
<text class="lb" x="21.50" y="465.71">3.42e-03</text>
<text class="lb" x="21.50" y="479.47">2.56e-03</text>
<text class="lb" x="21.50" y="493.23">1.71e-03</text>
<text class="lb" x="21.50" y="506.99">8.54e-04</text>
<text class="lb" x="21.50" y="520.75">0.00e+00</text>
<text class="cap" x="118.00" y="544.10" text-anchor="middle">(<tspan font-weight="bold">e</tspan>)</text>
<text class="lb" x="269.60" y="383.15">2.63e-02</text>
<text class="lb" x="269.60" y="396.91">2.36e-02</text>
<text class="lb" x="269.60" y="410.67">2.10e-02</text>
<text class="lb" x="269.60" y="424.43">1.84e-02</text>
<text class="lb" x="269.60" y="438.19">1.58e-02</text>
<text class="lb" x="269.60" y="451.95">1.31e-02</text>
<text class="lb" x="269.60" y="465.71">1.05e-02</text>
<text class="lb" x="269.60" y="479.47">7.88e-03</text>
<text class="lb" x="269.60" y="493.23">5.25e-03</text>
<text class="lb" x="269.60" y="506.99">2.63e-03</text>
<text class="lb" x="269.60" y="520.75">0.00e+00</text>
<text class="cap" x="366.50" y="544.10" text-anchor="middle">(<tspan font-weight="bold">f</tspan>)</text>
</g>
</svg>
</body></html>
